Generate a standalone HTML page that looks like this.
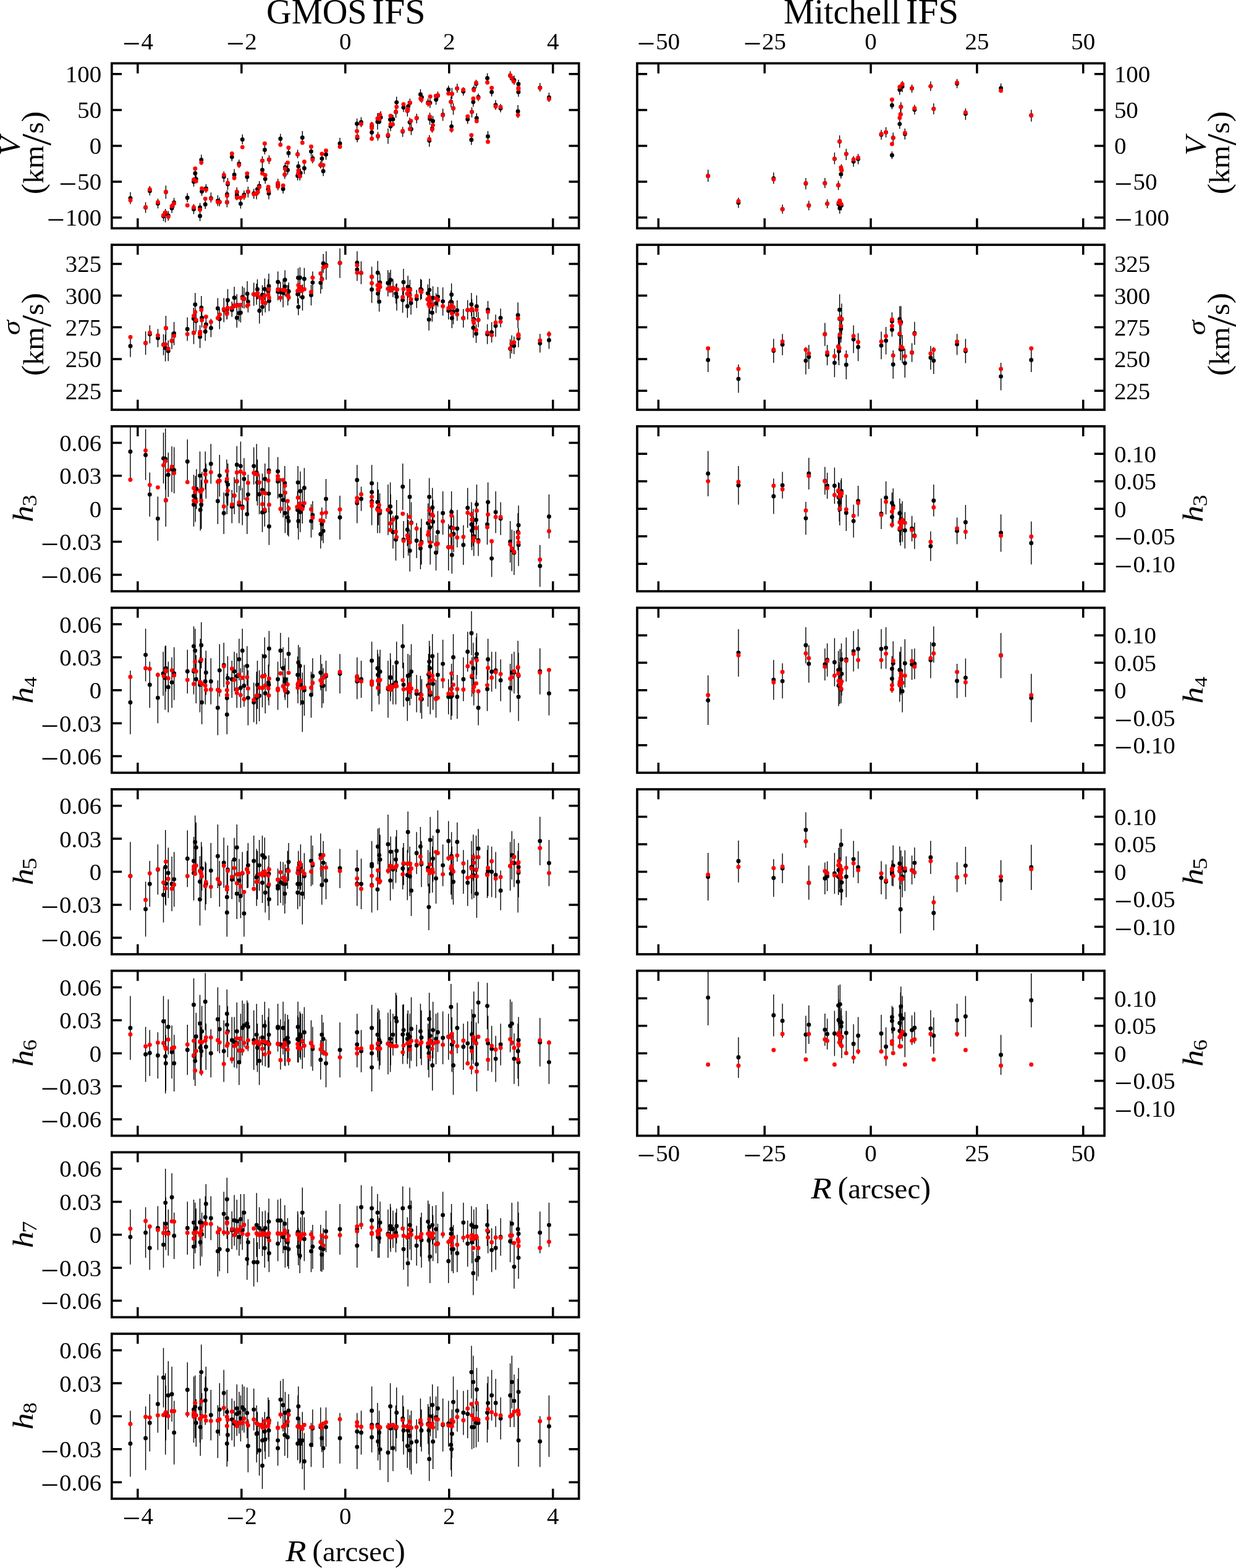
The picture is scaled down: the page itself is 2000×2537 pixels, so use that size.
<!DOCTYPE html>
<html lang="en"><head><meta charset="utf-8"><title>GMOS IFS and Mitchell IFS kinematics</title>
<style>
html,body{margin:0;padding:0;background:#fff;overflow:hidden;}
svg{display:block;}
text{font-family:'Liberation Serif', 'DejaVu Serif', serif;fill:#000;}
</style></head>
<body>
<svg width="2000" height="2537" viewBox="0 0 2000 2537" font-family="'Liberation Serif', 'DejaVu Serif', serif">
<rect width="2000" height="2537" fill="#fff"/>
<rect x="180.85" y="102.45" width="755.85" height="266.91" fill="none" stroke="#000" stroke-width="3.7"/>
<path d="M222.84,102.45v16.2M222.84,369.36v-16.2M390.81,102.45v16.2M390.81,369.36v-16.2M558.77,102.45v16.2M558.77,369.36v-16.2M726.74,102.45v16.2M726.74,369.36v-16.2M894.71,102.45v16.2M894.71,369.36v-16.2M180.85,351.95h16.2M936.70,351.95h-16.2M180.85,293.93h16.2M936.70,293.93h-16.2M180.85,235.91h16.2M936.70,235.91h-16.2M180.85,177.88h16.2M936.70,177.88h-16.2M180.85,119.86h16.2M936.70,119.86h-16.2" stroke="#000" stroke-width="3.5" fill="none"/>
<clipPath id="cL0"><rect x="180.85" y="102.45" width="755.85" height="266.91"/></clipPath>
<g clip-path="url(#cL0)">
<path d="M211.0,311.1V330.2M235.6,327.2V344.6M242.4,300.9V316.3M255.5,321.4V337.2M268.4,300.3V321.4M264.5,341.9V357.7M267.6,338.1V359.7M272.3,341.6V356.9M278.1,329.0V344.8M281.6,320.2V336.0M303.2,312.6V327.2M313.5,330.2V346.6M323.6,328.4V343.0M323.6,341.9V357.7M332.2,323.1V338.1M341.4,311.4V327.8M352.4,316.1V333.4M355.3,319.6V333.7M367.4,307.9V322.0M367.4,319.6V335.4M368.5,288.0V307.3M362.3,277.2V294.8M313.5,286.8V302.1M317.2,283.3V296.2M315.8,275.1V286.8M325.8,250.3V266.9M326.6,303.2V316.7M333.4,298.0V312.0M375.3,247.0V260.8M379.1,273.4V291.5M392.3,217.6V233.4M386.8,258.3V271.7M399.9,279.6V294.3M383.3,303.0V318.3M383.3,308.9V324.1M394.9,308.3V323.5M401.4,301.9V319.4M419.6,293.1V308.3M416.5,299.5V313.6M415.1,305.4V322.4M410.7,305.4V321.8M424.5,252.7V267.9M424.5,267.9V282.0M428.4,235.1V249.8M435.4,251.3V265.6M429.2,282.0V297.2M433.9,298.9V313.0M435.0,305.4V322.4M449.7,289.2V304.2M449.7,293.7V307.7M458.1,298.4V313.3M453.8,216.4V231.6M466.9,240.4V255.0M461.4,263.2V278.5M465.5,267.3V282.6M460.8,274.9V289.6M481.6,242.2V256.0M482.8,260.9V277.3M486.3,272.6V287.2M481.6,277.3V291.9M485.2,277.9V291.9M489.3,212.1V229.9M492.4,265.0V281.4M503.5,237.5V252.7M505.9,249.8V264.2M520.9,249.2V263.8M527.5,242.7V258.5M518.8,260.9V272.6M523.1,269.1V284.9M550.0,223.1V239.8M389.4,321.6V337.4M577.6,191.7V208.7M578.1,215.7V230.3M584.4,189.4V205.7M601.6,206.3V221.6M601.6,197.0V211.0M610.9,182.9V209.8M613.6,189.9V200.5M616.0,180.0V197.0M611.5,213.4V227.6M627.9,208.1V232.7M631.4,186.4V200.5M635.9,185.8V199.9M632.0,197.0V212.2M641.7,156.6V173.5M640.6,173.5V190.5M652.9,166.5V181.2M663.3,159.5V173.5M660.5,163.6V179.4M659.3,172.4V188.5M651.6,205.2V221.6M663.0,190.5V205.2M665.4,200.5V218.6M674.2,184.1V199.5M680.4,144.3V160.1M682.4,150.1V166.5M692.6,159.3V172.4M695.8,160.1V174.7M705.6,153.6V169.4M708.5,148.0V161.3M695.5,182.3V201.7M700.5,187.4V204.0M699.3,201.7V214.8M694.7,218.6V237.4M716.6,175.7V195.6M725.7,138.4V151.3M731.3,142.2V160.1M729.8,156.0V173.5M733.5,167.1V185.8M730.6,195.2V214.5M739.7,135.5V149.9M749.7,141.3V154.8M756.7,185.3V200.5M762.8,218.6V234.4M763.5,173.5V189.9M771.3,183.2V198.7M765.8,157.7V172.7M774.0,151.3V163.5M766.7,138.4V149.5M770.5,129.0V142.5M788.6,118.5V133.7M795.6,141.9V155.9M802.0,162.1V177.8M810.0,168.2V181.7M789.5,212.1V229.1M825.6,115.3V129.6M828.4,120.2V133.1M831.9,122.3V137.2M838.9,129.0V143.6M838.9,141.3V156.5M838.1,170.0V191.1M873.8,134.3V148.3M888.4,150.1V165.0" stroke="#000" stroke-width="1.4" fill="none"/>
<g fill="#000"><circle cx="211.0" cy="320.6" r="3.45"/><circle cx="235.6" cy="335.8" r="3.45"/><circle cx="242.4" cy="308.9" r="3.45"/><circle cx="255.5" cy="329.2" r="3.45"/><circle cx="268.4" cy="310.8" r="3.45"/><circle cx="264.5" cy="349.8" r="3.45"/><circle cx="267.6" cy="346.0" r="3.45"/><circle cx="272.3" cy="348.9" r="3.45"/><circle cx="278.1" cy="337.0" r="3.45"/><circle cx="281.6" cy="327.8" r="3.45"/><circle cx="303.2" cy="320.0" r="3.45"/><circle cx="313.5" cy="338.4" r="3.45"/><circle cx="323.6" cy="335.8" r="3.45"/><circle cx="323.6" cy="349.5" r="3.45"/><circle cx="332.2" cy="330.7" r="3.45"/><circle cx="341.4" cy="320.6" r="3.45"/><circle cx="352.4" cy="324.9" r="3.45"/><circle cx="355.3" cy="326.7" r="3.45"/><circle cx="367.4" cy="314.4" r="3.45"/><circle cx="367.4" cy="327.2" r="3.45"/><circle cx="368.5" cy="298.0" r="3.45"/><circle cx="362.3" cy="285.9" r="3.45"/><circle cx="313.5" cy="294.1" r="3.45"/><circle cx="317.2" cy="289.8" r="3.45"/><circle cx="315.8" cy="280.4" r="3.45"/><circle cx="325.8" cy="258.7" r="3.45"/><circle cx="326.6" cy="309.7" r="3.45"/><circle cx="333.4" cy="305.0" r="3.45"/><circle cx="375.3" cy="254.1" r="3.45"/><circle cx="379.1" cy="282.7" r="3.45"/><circle cx="392.3" cy="225.8" r="3.45"/><circle cx="386.8" cy="265.0" r="3.45"/><circle cx="399.9" cy="286.3" r="3.45"/><circle cx="383.3" cy="311.2" r="3.45"/><circle cx="383.3" cy="315.9" r="3.45"/><circle cx="394.9" cy="315.3" r="3.45"/><circle cx="401.4" cy="310.3" r="3.45"/><circle cx="419.6" cy="300.9" r="3.45"/><circle cx="416.5" cy="306.3" r="3.45"/><circle cx="415.1" cy="313.0" r="3.45"/><circle cx="410.7" cy="313.0" r="3.45"/><circle cx="424.5" cy="260.1" r="3.45"/><circle cx="424.5" cy="274.9" r="3.45"/><circle cx="428.4" cy="242.4" r="3.45"/><circle cx="435.4" cy="258.3" r="3.45"/><circle cx="429.2" cy="289.6" r="3.45"/><circle cx="433.9" cy="306.0" r="3.45"/><circle cx="435.0" cy="313.0" r="3.45"/><circle cx="449.7" cy="297.2" r="3.45"/><circle cx="449.7" cy="300.7" r="3.45"/><circle cx="458.1" cy="305.7" r="3.45"/><circle cx="453.8" cy="224.4" r="3.45"/><circle cx="466.9" cy="247.8" r="3.45"/><circle cx="461.4" cy="270.8" r="3.45"/><circle cx="465.5" cy="275.3" r="3.45"/><circle cx="460.8" cy="282.6" r="3.45"/><circle cx="481.6" cy="249.8" r="3.45"/><circle cx="482.8" cy="269.3" r="3.45"/><circle cx="486.3" cy="279.9" r="3.45"/><circle cx="481.6" cy="284.5" r="3.45"/><circle cx="485.2" cy="284.9" r="3.45"/><circle cx="489.3" cy="222.8" r="3.45"/><circle cx="492.4" cy="272.2" r="3.45"/><circle cx="503.5" cy="245.1" r="3.45"/><circle cx="505.9" cy="256.2" r="3.45"/><circle cx="520.9" cy="256.6" r="3.45"/><circle cx="527.5" cy="250.0" r="3.45"/><circle cx="518.8" cy="267.3" r="3.45"/><circle cx="523.1" cy="276.9" r="3.45"/><circle cx="550.0" cy="232.2" r="3.45"/><circle cx="389.4" cy="329.6" r="3.45"/><circle cx="577.6" cy="200.2" r="3.45"/><circle cx="578.1" cy="223.3" r="3.45"/><circle cx="584.4" cy="197.6" r="3.45"/><circle cx="601.6" cy="214.3" r="3.45"/><circle cx="601.6" cy="204.6" r="3.45"/><circle cx="610.9" cy="197.0" r="3.45"/><circle cx="613.6" cy="197.0" r="3.45"/><circle cx="616.0" cy="189.9" r="3.45"/><circle cx="611.5" cy="220.4" r="3.45"/><circle cx="627.9" cy="219.8" r="3.45"/><circle cx="631.4" cy="193.5" r="3.45"/><circle cx="635.9" cy="192.9" r="3.45"/><circle cx="632.0" cy="204.2" r="3.45"/><circle cx="641.7" cy="165.6" r="3.45"/><circle cx="640.6" cy="181.2" r="3.45"/><circle cx="652.9" cy="173.9" r="3.45"/><circle cx="663.3" cy="166.5" r="3.45"/><circle cx="660.5" cy="172.1" r="3.45"/><circle cx="659.3" cy="179.2" r="3.45"/><circle cx="651.6" cy="212.8" r="3.45"/><circle cx="663.0" cy="197.9" r="3.45"/><circle cx="665.4" cy="209.0" r="3.45"/><circle cx="674.2" cy="191.1" r="3.45"/><circle cx="680.4" cy="152.7" r="3.45"/><circle cx="682.4" cy="157.4" r="3.45"/><circle cx="692.6" cy="165.9" r="3.45"/><circle cx="695.8" cy="166.5" r="3.45"/><circle cx="705.6" cy="161.3" r="3.45"/><circle cx="708.5" cy="154.8" r="3.45"/><circle cx="695.5" cy="192.3" r="3.45"/><circle cx="700.5" cy="196.0" r="3.45"/><circle cx="699.3" cy="208.1" r="3.45"/><circle cx="694.7" cy="227.6" r="3.45"/><circle cx="716.6" cy="185.8" r="3.45"/><circle cx="725.7" cy="144.9" r="3.45"/><circle cx="731.3" cy="151.9" r="3.45"/><circle cx="729.8" cy="164.8" r="3.45"/><circle cx="733.5" cy="175.3" r="3.45"/><circle cx="730.6" cy="204.6" r="3.45"/><circle cx="739.7" cy="143.1" r="3.45"/><circle cx="749.7" cy="148.1" r="3.45"/><circle cx="756.7" cy="192.9" r="3.45"/><circle cx="762.8" cy="226.2" r="3.45"/><circle cx="763.5" cy="181.1" r="3.45"/><circle cx="771.3" cy="191.3" r="3.45"/><circle cx="765.8" cy="165.1" r="3.45"/><circle cx="774.0" cy="157.1" r="3.45"/><circle cx="766.7" cy="144.2" r="3.45"/><circle cx="770.5" cy="135.4" r="3.45"/><circle cx="788.6" cy="126.4" r="3.45"/><circle cx="795.6" cy="148.9" r="3.45"/><circle cx="802.0" cy="170.0" r="3.45"/><circle cx="810.0" cy="175.3" r="3.45"/><circle cx="789.5" cy="220.7" r="3.45"/><circle cx="825.6" cy="122.6" r="3.45"/><circle cx="828.4" cy="126.7" r="3.45"/><circle cx="831.9" cy="129.8" r="3.45"/><circle cx="838.9" cy="136.0" r="3.45"/><circle cx="838.9" cy="148.9" r="3.45"/><circle cx="838.1" cy="180.3" r="3.45"/><circle cx="873.8" cy="141.9" r="3.45"/><circle cx="888.4" cy="157.7" r="3.45"/></g>
<g fill="#f00"><circle cx="211.0" cy="324.0" r="3.45"/><circle cx="235.6" cy="335.4" r="3.45"/><circle cx="242.4" cy="306.4" r="3.45"/><circle cx="255.5" cy="327.2" r="3.45"/><circle cx="268.4" cy="310.6" r="3.45"/><circle cx="264.5" cy="348.3" r="3.45"/><circle cx="267.6" cy="344.0" r="3.45"/><circle cx="272.3" cy="350.7" r="3.45"/><circle cx="278.1" cy="333.4" r="3.45"/><circle cx="281.6" cy="329.2" r="3.45"/><circle cx="303.2" cy="332.2" r="3.45"/><circle cx="313.5" cy="335.4" r="3.45"/><circle cx="323.6" cy="339.3" r="3.45"/><circle cx="332.2" cy="321.6" r="3.45"/><circle cx="341.4" cy="321.6" r="3.45"/><circle cx="352.4" cy="326.9" r="3.45"/><circle cx="355.3" cy="326.9" r="3.45"/><circle cx="367.4" cy="316.7" r="3.45"/><circle cx="367.4" cy="327.2" r="3.45"/><circle cx="368.5" cy="296.0" r="3.45"/><circle cx="362.3" cy="283.1" r="3.45"/><circle cx="313.5" cy="290.6" r="3.45"/><circle cx="317.2" cy="293.3" r="3.45"/><circle cx="315.8" cy="272.8" r="3.45"/><circle cx="325.8" cy="263.1" r="3.45"/><circle cx="326.6" cy="305.0" r="3.45"/><circle cx="333.4" cy="307.1" r="3.45"/><circle cx="375.3" cy="248.4" r="3.45"/><circle cx="379.1" cy="288.0" r="3.45"/><circle cx="392.3" cy="238.1" r="3.45"/><circle cx="386.8" cy="267.1" r="3.45"/><circle cx="399.9" cy="280.8" r="3.45"/><circle cx="383.3" cy="310.1" r="3.45"/><circle cx="383.3" cy="319.7" r="3.45"/><circle cx="389.4" cy="320.0" r="3.45"/><circle cx="394.9" cy="317.4" r="3.45"/><circle cx="401.4" cy="310.1" r="3.45"/><circle cx="419.6" cy="302.8" r="3.45"/><circle cx="417.2" cy="310.7" r="3.45"/><circle cx="414.5" cy="313.3" r="3.45"/><circle cx="410.7" cy="314.2" r="3.45"/><circle cx="424.5" cy="260.1" r="3.45"/><circle cx="424.5" cy="280.8" r="3.45"/><circle cx="428.4" cy="232.2" r="3.45"/><circle cx="435.4" cy="258.3" r="3.45"/><circle cx="429.2" cy="283.4" r="3.45"/><circle cx="434.1" cy="302.5" r="3.45"/><circle cx="434.8" cy="309.1" r="3.45"/><circle cx="449.7" cy="296.3" r="3.45"/><circle cx="449.7" cy="302.1" r="3.45"/><circle cx="458.1" cy="300.1" r="3.45"/><circle cx="453.8" cy="234.2" r="3.45"/><circle cx="466.9" cy="238.9" r="3.45"/><circle cx="461.4" cy="273.2" r="3.45"/><circle cx="465.5" cy="263.2" r="3.45"/><circle cx="460.8" cy="282.3" r="3.45"/><circle cx="481.6" cy="249.8" r="3.45"/><circle cx="482.8" cy="276.1" r="3.45"/><circle cx="482.5" cy="280.6" r="3.45"/><circle cx="485.4" cy="285.2" r="3.45"/><circle cx="489.3" cy="231.0" r="3.45"/><circle cx="492.4" cy="261.8" r="3.45"/><circle cx="503.5" cy="237.2" r="3.45"/><circle cx="505.9" cy="258.5" r="3.45"/><circle cx="520.9" cy="248.9" r="3.45"/><circle cx="527.5" cy="243.7" r="3.45"/><circle cx="518.8" cy="267.0" r="3.45"/><circle cx="523.1" cy="267.3" r="3.45"/><circle cx="550.0" cy="237.5" r="3.45"/><circle cx="577.6" cy="212.2" r="3.45"/><circle cx="578.1" cy="221.0" r="3.45"/><circle cx="584.4" cy="200.5" r="3.45"/><circle cx="601.6" cy="201.4" r="3.45"/><circle cx="601.6" cy="207.3" r="3.45"/><circle cx="601.6" cy="224.5" r="3.45"/><circle cx="614.8" cy="185.8" r="3.45"/><circle cx="610.9" cy="191.7" r="3.45"/><circle cx="613.9" cy="192.5" r="3.45"/><circle cx="611.5" cy="220.0" r="3.45"/><circle cx="627.9" cy="218.4" r="3.45"/><circle cx="632.0" cy="187.4" r="3.45"/><circle cx="632.0" cy="201.1" r="3.45"/><circle cx="635.5" cy="201.3" r="3.45"/><circle cx="641.7" cy="173.0" r="3.45"/><circle cx="640.6" cy="180.8" r="3.45"/><circle cx="652.9" cy="168.6" r="3.45"/><circle cx="663.3" cy="166.2" r="3.45"/><circle cx="660.1" cy="176.5" r="3.45"/><circle cx="658.9" cy="179.2" r="3.45"/><circle cx="651.6" cy="212.0" r="3.45"/><circle cx="664.8" cy="195.8" r="3.45"/><circle cx="663.3" cy="208.7" r="3.45"/><circle cx="674.2" cy="190.9" r="3.45"/><circle cx="680.6" cy="159.5" r="3.45"/><circle cx="681.8" cy="161.6" r="3.45"/><circle cx="696.1" cy="156.2" r="3.45"/><circle cx="692.3" cy="167.1" r="3.45"/><circle cx="694.7" cy="167.7" r="3.45"/><circle cx="705.2" cy="155.2" r="3.45"/><circle cx="708.5" cy="154.2" r="3.45"/><circle cx="695.5" cy="188.8" r="3.45"/><circle cx="700.5" cy="202.6" r="3.45"/><circle cx="699.3" cy="209.6" r="3.45"/><circle cx="694.7" cy="225.1" r="3.45"/><circle cx="716.6" cy="186.4" r="3.45"/><circle cx="725.7" cy="151.3" r="3.45"/><circle cx="731.3" cy="151.7" r="3.45"/><circle cx="729.8" cy="164.8" r="3.45"/><circle cx="733.5" cy="175.3" r="3.45"/><circle cx="730.6" cy="210.1" r="3.45"/><circle cx="739.7" cy="143.1" r="3.45"/><circle cx="749.7" cy="145.2" r="3.45"/><circle cx="756.7" cy="188.5" r="3.45"/><circle cx="762.8" cy="218.8" r="3.45"/><circle cx="763.5" cy="181.1" r="3.45"/><circle cx="771.3" cy="196.0" r="3.45"/><circle cx="765.8" cy="159.4" r="3.45"/><circle cx="774.0" cy="158.6" r="3.45"/><circle cx="766.7" cy="145.7" r="3.45"/><circle cx="770.5" cy="134.0" r="3.45"/><circle cx="788.6" cy="133.5" r="3.45"/><circle cx="795.6" cy="142.2" r="3.45"/><circle cx="802.0" cy="172.3" r="3.45"/><circle cx="810.0" cy="173.1" r="3.45"/><circle cx="789.5" cy="229.4" r="3.45"/><circle cx="825.6" cy="121.6" r="3.45"/><circle cx="828.1" cy="126.1" r="3.45"/><circle cx="831.4" cy="131.9" r="3.45"/><circle cx="838.9" cy="142.2" r="3.45"/><circle cx="838.9" cy="144.2" r="3.45"/><circle cx="838.1" cy="186.1" r="3.45"/><circle cx="873.8" cy="142.5" r="3.45"/><circle cx="888.4" cy="160.3" r="3.45"/></g>
</g>
<text transform="translate(75.99,365.40) scale(1.05,1)" font-size="37.1"><tspan font-size="49.1" dy="7">−</tspan><tspan dx="0.77" dy="-7">100</tspan></text>
<text transform="translate(95.46,307.38) scale(1.05,1)" font-size="37.1"><tspan font-size="49.1" dy="7">−</tspan><tspan dx="0.77" dy="-7">50</tspan></text>
<text transform="translate(144.82,249.36) scale(1.05,1)" font-size="37.1">0</text>
<text transform="translate(125.34,191.33) scale(1.05,1)" font-size="37.1">50</text>
<text transform="translate(105.87,133.31) scale(1.05,1)" font-size="37.1">100</text>
<rect x="180.85" y="396.10" width="755.85" height="266.91" fill="none" stroke="#000" stroke-width="3.7"/>
<path d="M222.84,396.10v16.2M222.84,663.01v-16.2M390.81,396.10v16.2M390.81,663.01v-16.2M558.77,396.10v16.2M558.77,663.01v-16.2M726.74,396.10v16.2M726.74,663.01v-16.2M894.71,396.10v16.2M894.71,663.01v-16.2M180.85,632.21h16.2M936.70,632.21h-16.2M180.85,580.88h16.2M936.70,580.88h-16.2M180.85,529.55h16.2M936.70,529.55h-16.2M180.85,478.23h16.2M936.70,478.23h-16.2M180.85,426.90h16.2M936.70,426.90h-16.2" stroke="#000" stroke-width="3.5" fill="none"/>
<clipPath id="cL1"><rect x="180.85" y="396.10" width="755.85" height="266.91"/></clipPath>
<g clip-path="url(#cL1)">
<path d="M211.0,542.0V577.7M235.6,536.2V574.0M242.4,526.2V555.5M255.5,532.3V561.7M268.4,511.0V550.8M264.5,540.8V574.8M267.6,541.4V584.8M272.3,550.8V584.2M278.1,537.9V564.8M281.6,520.9V558.4M303.2,513.6V551.4M313.3,498.1V532.1M313.5,520.4V556.7M315.8,474.1V511.0M317.2,501.6V536.7M323.6,527.4V563.1M323.6,526.2V552.0M325.8,479.1V516.3M326.6,499.3V529.7M332.2,521.5V551.4M333.4,512.2V537.9M341.4,515.7V545.5M352.4,482.3V515.7M355.3,500.4V532.6M362.3,482.3V521.3M368.5,467.7V504.0M367.4,485.2V516.8M367.1,495.8V516.8M375.3,488.1V512.7M379.1,464.1V499.3M383.3,496.0V530.0M383.3,476.1V511.2M386.8,492.5V520.0M389.4,490.2V521.8M392.3,463.2V498.4M394.9,465.6V498.9M400.1,455.0V494.8M401.4,474.9V505.4M410.7,457.4V494.8M415.1,459.1V493.1M416.5,452.1V484.3M419.8,482.0V523.5M424.5,461.5V493.7M424.5,482.0V510.7M428.4,450.4V484.3M429.2,474.9V505.4M435.0,442.7V482.0M434.1,452.1V489.0M435.4,470.3V503.6M449.7,439.2V473.8M449.7,458.5V486.1M453.8,456.2V488.4M458.1,451.5V497.2M461.1,437.2V467.9M461.0,449.2V479.6M467.2,457.1V486.7M465.7,460.9V494.3M482.5,434.0V465.6M485.4,432.2V465.6M481.6,460.9V491.3M482.8,483.1V510.1M485.2,450.4V482.0M489.5,460.3V502.5M492.4,433.4V469.1M503.5,460.9V494.3M505.9,439.2V474.9M518.8,441.0V474.9M520.9,435.1V467.9M523.1,411.1V441.6M527.8,406.4V452.7M550.0,402.1V449.8M577.9,406.4V443.3M577.9,418.7V454.4M584.4,422.8V459.7M601.6,446.8V490.2M601.6,431.6V463.2M611.2,422.2V460.9M611.5,458.5V491.3M613.6,471.4V504.2M614.8,442.2V472.6M627.7,436.9V479.6M632.0,436.5V470.3M630.0,441.0V473.8M635.9,451.5V480.8M640.8,459.7V491.3M642.0,458.5V502.5M652.9,434.9V477.9M651.6,465.6V506.0M660.1,446.3V482.0M663.3,452.7V483.1M659.3,476.1V514.2M665.0,472.6V508.9M663.0,463.2V492.5M674.2,469.1V498.4M680.6,451.2V485.5M682.0,452.7V483.7M692.3,460.3V489.0M694.9,450.9V487.2M694.1,499.5V534.7M699.3,491.3V520.6M700.5,463.2V500.7M695.5,474.9V507.7M705.6,474.4V506.6M708.5,464.2V496.6M716.6,465.0V510.7M725.7,487.8V517.1M730.6,458.5V494.8M729.8,470.3V505.4M731.3,500.7V531.1M733.5,486.7V524.7M739.7,486.1V518.9M749.7,500.1V530.0M756.7,485.5V517.1M762.8,474.0V510.9M763.5,484.0V519.1M766.7,502.7V532.0M765.8,513.2V546.6M771.3,478.1V513.2M770.5,524.9V554.8M774.0,504.4V529.6M789.5,486.9V516.7M788.6,524.4V556.8M795.6,521.2V554.2M802.0,509.1V544.8M810.0,499.2V529.6M825.6,548.9V580.0M828.1,542.5V571.8M831.7,544.6V573.0M838.1,489.2V530.8M838.9,532.0V561.8M838.9,530.8V555.4M873.8,540.2V570.4M888.4,536.1V564.5" stroke="#000" stroke-width="1.4" fill="none"/>
<g fill="#000"><circle cx="211.0" cy="559.9" r="3.45"/><circle cx="235.6" cy="555.0" r="3.45"/><circle cx="242.4" cy="540.8" r="3.45"/><circle cx="255.5" cy="547.0" r="3.45"/><circle cx="268.4" cy="530.9" r="3.45"/><circle cx="264.5" cy="557.8" r="3.45"/><circle cx="267.6" cy="563.1" r="3.45"/><circle cx="272.3" cy="568.1" r="3.45"/><circle cx="278.1" cy="551.4" r="3.45"/><circle cx="281.6" cy="539.4" r="3.45"/><circle cx="303.2" cy="532.4" r="3.45"/><circle cx="313.3" cy="515.4" r="3.45"/><circle cx="313.5" cy="538.5" r="3.45"/><circle cx="315.8" cy="492.8" r="3.45"/><circle cx="317.2" cy="519.2" r="3.45"/><circle cx="323.6" cy="544.9" r="3.45"/><circle cx="323.6" cy="539.1" r="3.45"/><circle cx="325.8" cy="497.9" r="3.45"/><circle cx="326.6" cy="514.3" r="3.45"/><circle cx="332.2" cy="536.5" r="3.45"/><circle cx="333.4" cy="525.0" r="3.45"/><circle cx="341.4" cy="530.7" r="3.45"/><circle cx="352.4" cy="499.0" r="3.45"/><circle cx="355.3" cy="516.3" r="3.45"/><circle cx="362.3" cy="501.4" r="3.45"/><circle cx="368.5" cy="485.8" r="3.45"/><circle cx="367.4" cy="501.0" r="3.45"/><circle cx="367.1" cy="506.3" r="3.45"/><circle cx="375.3" cy="501.4" r="3.45"/><circle cx="379.1" cy="481.7" r="3.45"/><circle cx="383.3" cy="514.2" r="3.45"/><circle cx="383.3" cy="493.7" r="3.45"/><circle cx="386.8" cy="506.6" r="3.45"/><circle cx="389.4" cy="506.0" r="3.45"/><circle cx="392.3" cy="480.8" r="3.45"/><circle cx="394.9" cy="483.4" r="3.45"/><circle cx="400.1" cy="475.3" r="3.45"/><circle cx="401.4" cy="488.1" r="3.45"/><circle cx="410.7" cy="476.1" r="3.45"/><circle cx="415.1" cy="476.3" r="3.45"/><circle cx="416.5" cy="467.9" r="3.45"/><circle cx="419.8" cy="502.8" r="3.45"/><circle cx="424.5" cy="477.3" r="3.45"/><circle cx="424.5" cy="496.6" r="3.45"/><circle cx="428.4" cy="467.7" r="3.45"/><circle cx="429.2" cy="490.2" r="3.45"/><circle cx="435.0" cy="463.0" r="3.45"/><circle cx="434.1" cy="471.4" r="3.45"/><circle cx="435.4" cy="486.9" r="3.45"/><circle cx="449.7" cy="456.2" r="3.45"/><circle cx="449.7" cy="472.0" r="3.45"/><circle cx="453.8" cy="472.6" r="3.45"/><circle cx="458.1" cy="474.0" r="3.45"/><circle cx="461.1" cy="452.7" r="3.45"/><circle cx="461.0" cy="463.8" r="3.45"/><circle cx="467.2" cy="471.4" r="3.45"/><circle cx="465.7" cy="477.3" r="3.45"/><circle cx="482.5" cy="449.4" r="3.45"/><circle cx="485.4" cy="449.2" r="3.45"/><circle cx="481.6" cy="475.9" r="3.45"/><circle cx="482.8" cy="496.6" r="3.45"/><circle cx="485.2" cy="465.6" r="3.45"/><circle cx="489.5" cy="481.0" r="3.45"/><circle cx="492.4" cy="451.2" r="3.45"/><circle cx="503.5" cy="477.5" r="3.45"/><circle cx="505.9" cy="457.1" r="3.45"/><circle cx="518.8" cy="457.6" r="3.45"/><circle cx="520.9" cy="451.5" r="3.45"/><circle cx="523.1" cy="426.3" r="3.45"/><circle cx="527.8" cy="429.0" r="3.45"/><circle cx="550.0" cy="425.5" r="3.45"/><circle cx="577.9" cy="425.2" r="3.45"/><circle cx="577.9" cy="436.3" r="3.45"/><circle cx="584.4" cy="441.6" r="3.45"/><circle cx="601.6" cy="468.5" r="3.45"/><circle cx="601.6" cy="448.0" r="3.45"/><circle cx="611.2" cy="441.2" r="3.45"/><circle cx="611.5" cy="474.9" r="3.45"/><circle cx="613.6" cy="488.1" r="3.45"/><circle cx="614.8" cy="457.1" r="3.45"/><circle cx="627.7" cy="458.0" r="3.45"/><circle cx="632.0" cy="452.9" r="3.45"/><circle cx="630.0" cy="457.1" r="3.45"/><circle cx="635.9" cy="466.2" r="3.45"/><circle cx="640.8" cy="474.9" r="3.45"/><circle cx="642.0" cy="480.2" r="3.45"/><circle cx="652.9" cy="456.4" r="3.45"/><circle cx="651.6" cy="485.5" r="3.45"/><circle cx="660.1" cy="464.2" r="3.45"/><circle cx="663.3" cy="467.7" r="3.45"/><circle cx="659.3" cy="495.4" r="3.45"/><circle cx="665.0" cy="490.2" r="3.45"/><circle cx="663.0" cy="477.3" r="3.45"/><circle cx="674.2" cy="483.7" r="3.45"/><circle cx="680.6" cy="467.9" r="3.45"/><circle cx="682.0" cy="469.1" r="3.45"/><circle cx="692.3" cy="474.6" r="3.45"/><circle cx="694.9" cy="469.1" r="3.45"/><circle cx="694.1" cy="517.1" r="3.45"/><circle cx="699.3" cy="506.0" r="3.45"/><circle cx="700.5" cy="482.0" r="3.45"/><circle cx="695.5" cy="491.3" r="3.45"/><circle cx="705.6" cy="490.7" r="3.45"/><circle cx="708.5" cy="480.2" r="3.45"/><circle cx="716.6" cy="487.6" r="3.45"/><circle cx="725.7" cy="502.8" r="3.45"/><circle cx="730.6" cy="476.7" r="3.45"/><circle cx="729.8" cy="488.1" r="3.45"/><circle cx="731.3" cy="514.8" r="3.45"/><circle cx="733.5" cy="504.4" r="3.45"/><circle cx="739.7" cy="502.1" r="3.45"/><circle cx="749.7" cy="514.8" r="3.45"/><circle cx="756.7" cy="501.6" r="3.45"/><circle cx="762.8" cy="492.4" r="3.45"/><circle cx="763.5" cy="501.5" r="3.45"/><circle cx="766.7" cy="516.5" r="3.45"/><circle cx="765.8" cy="530.2" r="3.45"/><circle cx="771.3" cy="495.7" r="3.45"/><circle cx="770.5" cy="539.9" r="3.45"/><circle cx="774.0" cy="517.7" r="3.45"/><circle cx="789.5" cy="501.3" r="3.45"/><circle cx="788.6" cy="540.7" r="3.45"/><circle cx="795.6" cy="537.6" r="3.45"/><circle cx="802.0" cy="527.3" r="3.45"/><circle cx="810.0" cy="514.4" r="3.45"/><circle cx="825.6" cy="564.2" r="3.45"/><circle cx="828.1" cy="557.1" r="3.45"/><circle cx="831.7" cy="559.5" r="3.45"/><circle cx="838.1" cy="510.0" r="3.45"/><circle cx="838.9" cy="547.2" r="3.45"/><circle cx="838.9" cy="542.5" r="3.45"/><circle cx="873.8" cy="555.6" r="3.45"/><circle cx="888.4" cy="550.4" r="3.45"/></g>
<g fill="#f00"><circle cx="211.0" cy="545.5" r="3.45"/><circle cx="235.6" cy="554.9" r="3.45"/><circle cx="242.4" cy="538.5" r="3.45"/><circle cx="255.5" cy="542.6" r="3.45"/><circle cx="268.4" cy="530.7" r="3.45"/><circle cx="264.5" cy="558.1" r="3.45"/><circle cx="267.8" cy="556.9" r="3.45"/><circle cx="272.3" cy="564.3" r="3.45"/><circle cx="278.1" cy="551.4" r="3.45"/><circle cx="281.6" cy="543.4" r="3.45"/><circle cx="303.2" cy="540.6" r="3.45"/><circle cx="313.5" cy="511.0" r="3.45"/><circle cx="313.5" cy="538.5" r="3.45"/><circle cx="315.8" cy="505.1" r="3.45"/><circle cx="317.2" cy="517.8" r="3.45"/><circle cx="323.8" cy="537.0" r="3.45"/><circle cx="323.6" cy="540.8" r="3.45"/><circle cx="325.8" cy="501.4" r="3.45"/><circle cx="326.6" cy="518.2" r="3.45"/><circle cx="332.2" cy="528.8" r="3.45"/><circle cx="333.4" cy="512.4" r="3.45"/><circle cx="341.4" cy="520.9" r="3.45"/><circle cx="352.4" cy="514.8" r="3.45"/><circle cx="355.6" cy="508.9" r="3.45"/><circle cx="362.1" cy="500.2" r="3.45"/><circle cx="368.3" cy="498.1" r="3.45"/><circle cx="367.1" cy="505.1" r="3.45"/><circle cx="367.1" cy="508.1" r="3.45"/><circle cx="375.0" cy="498.1" r="3.45"/><circle cx="379.1" cy="494.0" r="3.45"/><circle cx="382.3" cy="495.1" r="3.45"/><circle cx="383.5" cy="494.3" r="3.45"/><circle cx="386.4" cy="493.7" r="3.45"/><circle cx="389.6" cy="493.3" r="3.45"/><circle cx="392.3" cy="482.9" r="3.45"/><circle cx="395.2" cy="483.4" r="3.45"/><circle cx="401.7" cy="493.1" r="3.45"/><circle cx="399.9" cy="495.1" r="3.45"/><circle cx="410.2" cy="476.1" r="3.45"/><circle cx="414.0" cy="476.7" r="3.45"/><circle cx="416.9" cy="474.4" r="3.45"/><circle cx="419.8" cy="480.6" r="3.45"/><circle cx="424.5" cy="484.3" r="3.45"/><circle cx="425.1" cy="489.6" r="3.45"/><circle cx="428.0" cy="479.0" r="3.45"/><circle cx="429.2" cy="490.2" r="3.45"/><circle cx="434.8" cy="467.9" r="3.45"/><circle cx="434.1" cy="476.7" r="3.45"/><circle cx="435.4" cy="481.7" r="3.45"/><circle cx="449.7" cy="468.3" r="3.45"/><circle cx="450.3" cy="469.1" r="3.45"/><circle cx="453.8" cy="481.7" r="3.45"/><circle cx="457.3" cy="469.1" r="3.45"/><circle cx="460.8" cy="469.1" r="3.45"/><circle cx="462.0" cy="470.3" r="3.45"/><circle cx="465.5" cy="477.9" r="3.45"/><circle cx="467.2" cy="481.4" r="3.45"/><circle cx="482.8" cy="461.5" r="3.45"/><circle cx="486.0" cy="464.2" r="3.45"/><circle cx="481.6" cy="470.6" r="3.45"/><circle cx="484.2" cy="465.6" r="3.45"/><circle cx="488.3" cy="470.8" r="3.45"/><circle cx="492.4" cy="467.9" r="3.45"/><circle cx="503.5" cy="472.4" r="3.45"/><circle cx="505.9" cy="449.2" r="3.45"/><circle cx="518.8" cy="442.4" r="3.45"/><circle cx="520.9" cy="451.8" r="3.45"/><circle cx="523.1" cy="432.8" r="3.45"/><circle cx="527.8" cy="430.7" r="3.45"/><circle cx="550.0" cy="425.5" r="3.45"/><circle cx="577.9" cy="429.3" r="3.45"/><circle cx="577.9" cy="441.2" r="3.45"/><circle cx="584.4" cy="441.6" r="3.45"/><circle cx="601.6" cy="447.8" r="3.45"/><circle cx="601.6" cy="458.3" r="3.45"/><circle cx="610.9" cy="461.8" r="3.45"/><circle cx="614.1" cy="460.3" r="3.45"/><circle cx="615.0" cy="464.2" r="3.45"/><circle cx="611.5" cy="468.5" r="3.45"/><circle cx="627.7" cy="467.3" r="3.45"/><circle cx="631.4" cy="467.9" r="3.45"/><circle cx="632.6" cy="470.0" r="3.45"/><circle cx="635.9" cy="465.6" r="3.45"/><circle cx="640.2" cy="467.3" r="3.45"/><circle cx="642.6" cy="468.5" r="3.45"/><circle cx="652.9" cy="467.7" r="3.45"/><circle cx="651.6" cy="480.8" r="3.45"/><circle cx="660.5" cy="469.1" r="3.45"/><circle cx="663.6" cy="469.3" r="3.45"/><circle cx="658.9" cy="475.3" r="3.45"/><circle cx="663.0" cy="477.9" r="3.45"/><circle cx="665.0" cy="484.5" r="3.45"/><circle cx="674.2" cy="479.0" r="3.45"/><circle cx="680.6" cy="470.8" r="3.45"/><circle cx="681.8" cy="472.6" r="3.45"/><circle cx="691.7" cy="484.3" r="3.45"/><circle cx="694.7" cy="480.8" r="3.45"/><circle cx="695.8" cy="486.9" r="3.45"/><circle cx="693.5" cy="492.3" r="3.45"/><circle cx="695.2" cy="496.0" r="3.45"/><circle cx="700.5" cy="493.1" r="3.45"/><circle cx="705.6" cy="482.6" r="3.45"/><circle cx="708.5" cy="485.5" r="3.45"/><circle cx="716.6" cy="495.4" r="3.45"/><circle cx="725.7" cy="498.7" r="3.45"/><circle cx="730.6" cy="493.1" r="3.45"/><circle cx="728.6" cy="497.4" r="3.45"/><circle cx="733.9" cy="497.2" r="3.45"/><circle cx="731.3" cy="507.1" r="3.45"/><circle cx="739.7" cy="508.7" r="3.45"/><circle cx="749.7" cy="514.8" r="3.45"/><circle cx="756.7" cy="501.6" r="3.45"/><circle cx="763.5" cy="499.8" r="3.45"/><circle cx="762.6" cy="502.1" r="3.45"/><circle cx="765.8" cy="518.5" r="3.45"/><circle cx="766.7" cy="522.4" r="3.45"/><circle cx="771.0" cy="501.2" r="3.45"/><circle cx="770.5" cy="534.1" r="3.45"/><circle cx="774.0" cy="517.7" r="3.45"/><circle cx="789.5" cy="504.4" r="3.45"/><circle cx="788.6" cy="538.1" r="3.45"/><circle cx="795.6" cy="542.2" r="3.45"/><circle cx="802.0" cy="522.0" r="3.45"/><circle cx="810.0" cy="520.6" r="3.45"/><circle cx="825.6" cy="563.6" r="3.45"/><circle cx="827.9" cy="555.4" r="3.45"/><circle cx="831.9" cy="553.9" r="3.45"/><circle cx="838.1" cy="515.2" r="3.45"/><circle cx="838.9" cy="541.3" r="3.45"/><circle cx="838.9" cy="543.7" r="3.45"/><circle cx="873.8" cy="550.9" r="3.45"/><circle cx="888.4" cy="540.7" r="3.45"/></g>
</g>
<text transform="translate(105.87,645.66) scale(1.05,1)" font-size="37.1">225</text>
<text transform="translate(105.87,594.33) scale(1.05,1)" font-size="37.1">250</text>
<text transform="translate(105.87,543.00) scale(1.05,1)" font-size="37.1">275</text>
<text transform="translate(105.87,491.68) scale(1.05,1)" font-size="37.1">300</text>
<text transform="translate(105.87,440.35) scale(1.05,1)" font-size="37.1">325</text>
<rect x="180.85" y="689.75" width="755.85" height="266.91" fill="none" stroke="#000" stroke-width="3.7"/>
<path d="M222.84,689.75v16.2M222.84,956.66v-16.2M390.81,689.75v16.2M390.81,956.66v-16.2M558.77,689.75v16.2M558.77,956.66v-16.2M726.74,689.75v16.2M726.74,956.66v-16.2M894.71,689.75v16.2M894.71,956.66v-16.2M180.85,929.97h16.2M936.70,929.97h-16.2M180.85,876.59h16.2M936.70,876.59h-16.2M180.85,823.21h16.2M936.70,823.21h-16.2M180.85,769.82h16.2M936.70,769.82h-16.2M180.85,716.44h16.2M936.70,716.44h-16.2" stroke="#000" stroke-width="3.5" fill="none"/>
<clipPath id="cL2"><rect x="180.85" y="689.75" width="755.85" height="266.91"/></clipPath>
<g clip-path="url(#cL2)">
<path d="M210.9,687.8V774.1M235.6,694.4V776.8M242.3,764.5V835.7M255.4,803.5V874.7M264.5,700.0V782.3M267.7,693.3V792.3M268.3,766.8V852.0M272.3,732.3V803.9M278.1,722.3V796.3M281.7,723.4V798.3M303.3,711.1V782.3M313.5,767.9V836.8M313.5,781.2V852.0M316.2,770.1V844.6M317.9,759.0V823.5M323.5,730.5V809.0M324.2,791.2V858.6M325.7,776.8V855.7M326.8,763.4V821.3M332.2,730.5V791.9M333.3,750.1V806.8M341.3,718.3V782.8M352.4,774.5V848.0M355.3,736.1V803.5M362.2,796.8V864.0M366.9,743.4V814.6M367.3,767.9V831.9M368.7,750.1V817.9M375.3,792.8V846.4M379.1,771.9V831.9M383.3,721.8V781.9M383.3,756.7V796.8M386.9,786.1V846.4M389.4,714.5V793.5M392.2,789.4V849.7M394.9,741.2V808.6M399.8,800.1V864.0M401.4,767.9V832.4M410.7,723.8V784.1M415.2,718.3V810.8M416.5,743.4V817.9M419.6,767.9V831.9M424.5,766.3V819.0M424.5,796.8V860.9M428.7,750.1V800.1M428.3,802.4V852.0M435.0,723.4V799.0M435.0,767.9V829.1M435.4,821.7V881.8M449.6,739.4V786.1M449.6,751.2V806.8M453.9,773.4V830.2M458.1,780.6V837.3M460.8,753.9V809.5M461.4,798.3V862.4M465.4,809.0V865.8M467.0,817.9V868.0M482.1,753.9V807.2M481.5,794.6V854.6M482.8,812.8V873.1M485.9,762.8V826.4M485.9,796.8V860.9M489.3,791.2V846.9M492.4,757.2V821.7M503.5,816.1V869.8M505.9,810.8V856.9M518.8,841.3V887.6M520.8,821.3V874.7M523.1,839.5V878.7M527.5,775.0V839.5M550.0,801.9V873.1M577.8,752.3V801.2M577.8,782.3V846.4M584.5,787.4V826.8M601.6,752.3V811.3M601.6,765.6V827.9M601.6,772.3V849.7M610.9,780.1V845.7M612.3,792.3V849.7M614.5,798.3V862.4M610.9,785.7V862.4M627.9,783.9V865.8M631.6,780.6V858.4M632.1,800.1V858.4M635.9,834.2V887.6M641.7,809.0V865.8M640.5,839.5V906.9M651.7,750.1V825.0M653.0,843.1V903.1M659.2,830.2V883.6M660.6,841.3V899.1M663.0,775.0V832.8M663.2,857.3V924.7M665.5,812.4V879.1M674.1,846.2V903.1M680.4,853.5V920.9M681.9,839.5V913.6M694.6,773.4V834.2M692.6,814.6V878.0M695.7,821.3V885.8M696.2,854.6V913.6M699.7,789.4V853.5M700.6,809.0V879.1M705.5,865.8V922.9M708.4,826.8V894.7M716.6,795.0V865.3M725.7,848.0V922.9M730.6,795.0V862.0M729.8,823.5V883.6M731.3,868.0V928.1M734.0,834.6V893.6M739.8,825.0V885.8M749.8,849.7V914.0M756.7,789.4V854.0M762.9,812.4V884.7M763.6,827.9V890.2M765.8,823.5V883.6M766.7,836.8V899.6M771.4,784.1V848.0M770.5,810.1V872.4M774.0,849.7V899.6M789.6,780.6V844.2M788.5,815.7V881.3M795.6,873.5V933.6M802.1,795.0V862.4M810.1,812.4V865.8M825.6,843.1V910.3M828.3,856.9V924.1M831.9,859.1V930.3M839.0,817.9V881.8M838.1,830.2V890.2M839.0,848.0V915.8M873.7,881.8V949.6M888.4,800.1V871.3" stroke="#000" stroke-width="1.4" fill="none"/>
<g fill="#000"><circle cx="210.9" cy="730.7" r="3.45"/><circle cx="235.6" cy="736.3" r="3.45"/><circle cx="242.3" cy="800.1" r="3.45"/><circle cx="255.4" cy="839.1" r="3.45"/><circle cx="264.5" cy="741.6" r="3.45"/><circle cx="267.7" cy="742.7" r="3.45"/><circle cx="268.3" cy="809.5" r="3.45"/><circle cx="272.3" cy="768.3" r="3.45"/><circle cx="278.1" cy="759.0" r="3.45"/><circle cx="281.7" cy="760.7" r="3.45"/><circle cx="303.3" cy="746.7" r="3.45"/><circle cx="313.5" cy="802.4" r="3.45"/><circle cx="313.5" cy="816.4" r="3.45"/><circle cx="316.2" cy="807.2" r="3.45"/><circle cx="317.9" cy="791.2" r="3.45"/><circle cx="323.5" cy="769.6" r="3.45"/><circle cx="324.2" cy="825.0" r="3.45"/><circle cx="325.7" cy="816.4" r="3.45"/><circle cx="326.8" cy="792.3" r="3.45"/><circle cx="332.2" cy="761.2" r="3.45"/><circle cx="333.3" cy="779.0" r="3.45"/><circle cx="341.3" cy="750.5" r="3.45"/><circle cx="352.4" cy="810.8" r="3.45"/><circle cx="355.3" cy="769.6" r="3.45"/><circle cx="362.2" cy="830.2" r="3.45"/><circle cx="366.9" cy="779.0" r="3.45"/><circle cx="367.3" cy="800.1" r="3.45"/><circle cx="368.7" cy="783.9" r="3.45"/><circle cx="375.3" cy="819.7" r="3.45"/><circle cx="379.1" cy="801.9" r="3.45"/><circle cx="383.3" cy="751.9" r="3.45"/><circle cx="383.3" cy="779.0" r="3.45"/><circle cx="386.9" cy="816.4" r="3.45"/><circle cx="389.4" cy="754.1" r="3.45"/><circle cx="392.2" cy="819.7" r="3.45"/><circle cx="394.9" cy="775.0" r="3.45"/><circle cx="399.8" cy="831.9" r="3.45"/><circle cx="401.4" cy="800.1" r="3.45"/><circle cx="410.7" cy="754.1" r="3.45"/><circle cx="415.2" cy="764.5" r="3.45"/><circle cx="416.5" cy="780.6" r="3.45"/><circle cx="419.6" cy="799.7" r="3.45"/><circle cx="424.5" cy="792.8" r="3.45"/><circle cx="424.5" cy="829.1" r="3.45"/><circle cx="428.7" cy="775.0" r="3.45"/><circle cx="428.3" cy="827.3" r="3.45"/><circle cx="435.0" cy="761.2" r="3.45"/><circle cx="435.0" cy="798.6" r="3.45"/><circle cx="435.4" cy="851.7" r="3.45"/><circle cx="449.6" cy="762.8" r="3.45"/><circle cx="449.6" cy="779.0" r="3.45"/><circle cx="453.9" cy="801.9" r="3.45"/><circle cx="458.1" cy="809.0" r="3.45"/><circle cx="460.8" cy="781.7" r="3.45"/><circle cx="461.4" cy="830.2" r="3.45"/><circle cx="465.4" cy="837.3" r="3.45"/><circle cx="467.0" cy="843.1" r="3.45"/><circle cx="482.1" cy="780.6" r="3.45"/><circle cx="481.5" cy="825.0" r="3.45"/><circle cx="482.8" cy="843.1" r="3.45"/><circle cx="485.9" cy="794.6" r="3.45"/><circle cx="485.9" cy="828.6" r="3.45"/><circle cx="489.3" cy="819.0" r="3.45"/><circle cx="492.4" cy="789.4" r="3.45"/><circle cx="503.5" cy="843.1" r="3.45"/><circle cx="505.9" cy="833.5" r="3.45"/><circle cx="518.8" cy="864.2" r="3.45"/><circle cx="520.8" cy="848.0" r="3.45"/><circle cx="523.1" cy="859.1" r="3.45"/><circle cx="527.5" cy="807.2" r="3.45"/><circle cx="550.0" cy="837.3" r="3.45"/><circle cx="577.8" cy="776.8" r="3.45"/><circle cx="577.8" cy="814.1" r="3.45"/><circle cx="584.5" cy="807.2" r="3.45"/><circle cx="601.6" cy="781.9" r="3.45"/><circle cx="601.6" cy="796.3" r="3.45"/><circle cx="601.6" cy="811.3" r="3.45"/><circle cx="610.9" cy="812.4" r="3.45"/><circle cx="612.3" cy="821.3" r="3.45"/><circle cx="614.5" cy="830.2" r="3.45"/><circle cx="610.9" cy="823.5" r="3.45"/><circle cx="627.9" cy="825.0" r="3.45"/><circle cx="631.6" cy="819.5" r="3.45"/><circle cx="632.1" cy="829.1" r="3.45"/><circle cx="635.9" cy="860.9" r="3.45"/><circle cx="641.7" cy="837.3" r="3.45"/><circle cx="640.5" cy="873.1" r="3.45"/><circle cx="651.7" cy="787.4" r="3.45"/><circle cx="653.0" cy="873.1" r="3.45"/><circle cx="659.2" cy="856.9" r="3.45"/><circle cx="660.6" cy="870.2" r="3.45"/><circle cx="663.0" cy="803.9" r="3.45"/><circle cx="663.2" cy="890.9" r="3.45"/><circle cx="665.5" cy="845.7" r="3.45"/><circle cx="674.1" cy="874.7" r="3.45"/><circle cx="680.4" cy="887.3" r="3.45"/><circle cx="681.9" cy="876.9" r="3.45"/><circle cx="694.6" cy="803.9" r="3.45"/><circle cx="692.6" cy="846.4" r="3.45"/><circle cx="695.7" cy="853.5" r="3.45"/><circle cx="696.2" cy="884.0" r="3.45"/><circle cx="699.7" cy="821.3" r="3.45"/><circle cx="700.6" cy="844.2" r="3.45"/><circle cx="705.5" cy="894.2" r="3.45"/><circle cx="708.4" cy="860.9" r="3.45"/><circle cx="716.6" cy="830.2" r="3.45"/><circle cx="725.7" cy="885.3" r="3.45"/><circle cx="730.6" cy="828.4" r="3.45"/><circle cx="729.8" cy="853.5" r="3.45"/><circle cx="731.3" cy="898.0" r="3.45"/><circle cx="734.0" cy="864.0" r="3.45"/><circle cx="739.8" cy="855.3" r="3.45"/><circle cx="749.8" cy="881.8" r="3.45"/><circle cx="756.7" cy="821.7" r="3.45"/><circle cx="762.9" cy="848.4" r="3.45"/><circle cx="763.6" cy="858.6" r="3.45"/><circle cx="765.8" cy="854.0" r="3.45"/><circle cx="766.7" cy="868.0" r="3.45"/><circle cx="771.4" cy="816.1" r="3.45"/><circle cx="770.5" cy="841.3" r="3.45"/><circle cx="774.0" cy="874.2" r="3.45"/><circle cx="789.6" cy="812.4" r="3.45"/><circle cx="788.5" cy="848.4" r="3.45"/><circle cx="795.6" cy="903.6" r="3.45"/><circle cx="802.1" cy="828.6" r="3.45"/><circle cx="810.1" cy="839.1" r="3.45"/><circle cx="825.6" cy="876.4" r="3.45"/><circle cx="828.3" cy="890.2" r="3.45"/><circle cx="831.9" cy="894.2" r="3.45"/><circle cx="839.0" cy="849.7" r="3.45"/><circle cx="838.1" cy="860.9" r="3.45"/><circle cx="839.0" cy="881.8" r="3.45"/><circle cx="873.7" cy="915.8" r="3.45"/><circle cx="888.4" cy="835.7" r="3.45"/></g>
<g fill="#f00"><circle cx="210.9" cy="776.3" r="3.45"/><circle cx="235.6" cy="728.9" r="3.45"/><circle cx="242.3" cy="784.6" r="3.45"/><circle cx="255.4" cy="788.6" r="3.45"/><circle cx="264.5" cy="752.7" r="3.45"/><circle cx="267.7" cy="746.1" r="3.45"/><circle cx="268.3" cy="809.5" r="3.45"/><circle cx="272.3" cy="761.2" r="3.45"/><circle cx="278.1" cy="755.2" r="3.45"/><circle cx="281.7" cy="765.6" r="3.45"/><circle cx="303.3" cy="780.1" r="3.45"/><circle cx="313.5" cy="789.7" r="3.45"/><circle cx="315.7" cy="796.3" r="3.45"/><circle cx="313.5" cy="810.1" r="3.45"/><circle cx="317.3" cy="811.7" r="3.45"/><circle cx="323.5" cy="794.1" r="3.45"/><circle cx="326.8" cy="791.9" r="3.45"/><circle cx="325.7" cy="810.1" r="3.45"/><circle cx="324.6" cy="795.7" r="3.45"/><circle cx="332.2" cy="767.4" r="3.45"/><circle cx="333.3" cy="779.0" r="3.45"/><circle cx="341.3" cy="764.1" r="3.45"/><circle cx="352.4" cy="779.4" r="3.45"/><circle cx="355.3" cy="777.9" r="3.45"/><circle cx="362.2" cy="819.5" r="3.45"/><circle cx="367.3" cy="762.3" r="3.45"/><circle cx="367.3" cy="775.0" r="3.45"/><circle cx="368.4" cy="794.1" r="3.45"/><circle cx="375.3" cy="816.4" r="3.45"/><circle cx="379.1" cy="801.9" r="3.45"/><circle cx="383.3" cy="764.5" r="3.45"/><circle cx="383.3" cy="778.5" r="3.45"/><circle cx="386.9" cy="813.0" r="3.45"/><circle cx="389.4" cy="763.0" r="3.45"/><circle cx="392.2" cy="821.9" r="3.45"/><circle cx="394.9" cy="766.3" r="3.45"/><circle cx="399.8" cy="807.5" r="3.45"/><circle cx="401.4" cy="781.2" r="3.45"/><circle cx="410.7" cy="765.2" r="3.45"/><circle cx="413.6" cy="766.8" r="3.45"/><circle cx="416.9" cy="767.9" r="3.45"/><circle cx="419.6" cy="780.6" r="3.45"/><circle cx="424.5" cy="797.2" r="3.45"/><circle cx="424.5" cy="815.7" r="3.45"/><circle cx="429.2" cy="798.3" r="3.45"/><circle cx="428.3" cy="824.6" r="3.45"/><circle cx="435.0" cy="764.1" r="3.45"/><circle cx="434.1" cy="777.4" r="3.45"/><circle cx="435.4" cy="816.8" r="3.45"/><circle cx="449.6" cy="770.5" r="3.45"/><circle cx="449.6" cy="775.2" r="3.45"/><circle cx="453.9" cy="823.5" r="3.45"/><circle cx="458.1" cy="776.8" r="3.45"/><circle cx="461.0" cy="786.1" r="3.45"/><circle cx="461.4" cy="797.2" r="3.45"/><circle cx="465.4" cy="810.8" r="3.45"/><circle cx="467.0" cy="822.8" r="3.45"/><circle cx="482.1" cy="805.2" r="3.45"/><circle cx="480.8" cy="820.2" r="3.45"/><circle cx="483.7" cy="817.9" r="3.45"/><circle cx="485.2" cy="814.6" r="3.45"/><circle cx="486.6" cy="821.3" r="3.45"/><circle cx="489.3" cy="823.5" r="3.45"/><circle cx="492.4" cy="814.1" r="3.45"/><circle cx="503.5" cy="823.9" r="3.45"/><circle cx="505.9" cy="837.5" r="3.45"/><circle cx="518.8" cy="842.0" r="3.45"/><circle cx="520.8" cy="830.6" r="3.45"/><circle cx="523.1" cy="843.1" r="3.45"/><circle cx="527.5" cy="829.5" r="3.45"/><circle cx="550.0" cy="824.2" r="3.45"/><circle cx="577.8" cy="805.7" r="3.45"/><circle cx="577.8" cy="811.3" r="3.45"/><circle cx="584.5" cy="799.7" r="3.45"/><circle cx="601.6" cy="803.9" r="3.45"/><circle cx="601.6" cy="813.5" r="3.45"/><circle cx="601.6" cy="818.6" r="3.45"/><circle cx="613.4" cy="817.3" r="3.45"/><circle cx="610.7" cy="824.6" r="3.45"/><circle cx="615.0" cy="826.2" r="3.45"/><circle cx="612.5" cy="826.8" r="3.45"/><circle cx="627.9" cy="825.0" r="3.45"/><circle cx="631.6" cy="846.9" r="3.45"/><circle cx="631.6" cy="857.5" r="3.45"/><circle cx="635.9" cy="840.8" r="3.45"/><circle cx="640.5" cy="860.2" r="3.45"/><circle cx="641.7" cy="869.1" r="3.45"/><circle cx="651.7" cy="831.3" r="3.45"/><circle cx="653.0" cy="875.1" r="3.45"/><circle cx="659.2" cy="866.4" r="3.45"/><circle cx="660.1" cy="870.9" r="3.45"/><circle cx="663.0" cy="836.2" r="3.45"/><circle cx="663.2" cy="877.6" r="3.45"/><circle cx="665.2" cy="846.4" r="3.45"/><circle cx="674.1" cy="855.3" r="3.45"/><circle cx="680.1" cy="881.8" r="3.45"/><circle cx="681.9" cy="878.7" r="3.45"/><circle cx="694.6" cy="825.7" r="3.45"/><circle cx="695.5" cy="843.1" r="3.45"/><circle cx="693.5" cy="860.9" r="3.45"/><circle cx="692.6" cy="865.3" r="3.45"/><circle cx="696.2" cy="877.6" r="3.45"/><circle cx="699.3" cy="832.4" r="3.45"/><circle cx="700.6" cy="834.6" r="3.45"/><circle cx="705.5" cy="880.7" r="3.45"/><circle cx="708.4" cy="879.8" r="3.45"/><circle cx="716.6" cy="843.5" r="3.45"/><circle cx="725.7" cy="885.3" r="3.45"/><circle cx="730.6" cy="834.2" r="3.45"/><circle cx="733.5" cy="854.6" r="3.45"/><circle cx="729.8" cy="866.2" r="3.45"/><circle cx="731.3" cy="885.8" r="3.45"/><circle cx="739.8" cy="869.8" r="3.45"/><circle cx="749.8" cy="868.7" r="3.45"/><circle cx="756.7" cy="829.7" r="3.45"/><circle cx="762.9" cy="832.4" r="3.45"/><circle cx="763.6" cy="840.8" r="3.45"/><circle cx="766.7" cy="870.2" r="3.45"/><circle cx="765.8" cy="875.1" r="3.45"/><circle cx="771.4" cy="826.2" r="3.45"/><circle cx="770.5" cy="854.6" r="3.45"/><circle cx="774.0" cy="876.4" r="3.45"/><circle cx="789.6" cy="832.4" r="3.45"/><circle cx="788.5" cy="853.1" r="3.45"/><circle cx="795.6" cy="875.8" r="3.45"/><circle cx="802.1" cy="836.4" r="3.45"/><circle cx="810.1" cy="836.8" r="3.45"/><circle cx="825.6" cy="880.7" r="3.45"/><circle cx="828.3" cy="887.6" r="3.45"/><circle cx="831.9" cy="892.9" r="3.45"/><circle cx="839.0" cy="862.4" r="3.45"/><circle cx="838.1" cy="869.8" r="3.45"/><circle cx="839.0" cy="877.6" r="3.45"/><circle cx="873.7" cy="905.4" r="3.45"/><circle cx="888.4" cy="859.5" r="3.45"/></g>
</g>
<text transform="translate(66.25,943.42) scale(1.05,1)" font-size="37.1"><tspan font-size="49.1" dy="7">−</tspan><tspan dx="0.77" dy="-7">0.06</tspan></text>
<text transform="translate(66.25,890.04) scale(1.05,1)" font-size="37.1"><tspan font-size="49.1" dy="7">−</tspan><tspan dx="0.77" dy="-7">0.03</tspan></text>
<text transform="translate(144.82,836.65) scale(1.05,1)" font-size="37.1">0</text>
<text transform="translate(96.13,783.27) scale(1.05,1)" font-size="37.1">0.03</text>
<text transform="translate(96.13,729.89) scale(1.05,1)" font-size="37.1">0.06</text>
<rect x="180.85" y="983.40" width="755.85" height="266.91" fill="none" stroke="#000" stroke-width="3.7"/>
<path d="M222.84,983.40v16.2M222.84,1250.31v-16.2M390.81,983.40v16.2M390.81,1250.31v-16.2M558.77,983.40v16.2M558.77,1250.31v-16.2M726.74,983.40v16.2M726.74,1250.31v-16.2M894.71,983.40v16.2M894.71,1250.31v-16.2M180.85,1223.62h16.2M936.70,1223.62h-16.2M180.85,1170.24h16.2M936.70,1170.24h-16.2M180.85,1116.86h16.2M936.70,1116.86h-16.2M180.85,1063.47h16.2M936.70,1063.47h-16.2M180.85,1010.09h16.2M936.70,1010.09h-16.2" stroke="#000" stroke-width="3.5" fill="none"/>
<clipPath id="cL3"><rect x="180.85" y="983.40" width="755.85" height="266.91"/></clipPath>
<g clip-path="url(#cL3)">
<path d="M210.9,1085.0V1188.0M235.6,1017.2V1102.4M242.3,1070.6V1145.3M255.4,1088.3V1170.2M264.1,1054.5V1125.7M268.3,1044.5V1119.1M267.2,1045.6V1148.6M272.3,1070.6V1152.4M278.1,1063.4V1145.3M281.7,1047.2V1132.8M303.3,1051.2V1121.9M313.5,1013.4V1077.9M315.7,1017.2V1088.3M313.5,1049.0V1123.5M317.3,1060.1V1138.0M325.7,1006.7V1081.2M324.2,1033.4V1107.9M323.5,1063.4V1152.4M326.6,1101.3V1171.8M333.3,1052.8V1124.2M332.2,1065.0V1139.7M341.3,1065.0V1139.7M352.4,1100.8V1189.6M355.3,1042.3V1127.3M362.2,1040.1V1111.7M367.3,1090.1V1169.1M367.3,1124.2V1188.0M368.4,1061.7V1132.8M375.3,1069.0V1129.1M379.1,1054.5V1118.4M383.3,1056.8V1131.3M383.3,1084.6V1145.3M386.9,1033.4V1100.8M389.4,1081.2V1145.3M392.2,1017.2V1088.3M394.9,1075.7V1143.5M399.8,1045.6V1109.5M401.4,1084.6V1173.6M410.7,1104.6V1168.4M415.2,1086.8V1171.8M416.5,1069.0V1146.9M419.6,1084.6V1166.9M424.5,1057.9V1131.3M424.5,1081.2V1144.6M428.3,1031.2V1092.4M429.2,1089.0V1154.2M435.4,1020.7V1077.9M434.3,1075.7V1133.5M435.0,1074.6V1141.3M449.6,1070.6V1127.3M449.6,1082.8V1148.6M453.9,1024.1V1081.2M458.1,1047.2V1115.0M461.4,1065.0V1132.8M460.8,1075.7V1129.1M467.0,1031.2V1084.6M465.4,1095.7V1145.3M482.8,1043.4V1100.1M481.7,1062.3V1122.4M482.1,1077.9V1138.0M485.2,1047.2V1107.9M486.4,1074.6V1141.3M489.3,1088.3V1184.2M492.4,1075.7V1158.0M503.5,1086.8V1161.3M505.9,1065.0V1122.4M518.8,1059.6V1116.8M520.8,1074.1V1145.3M523.1,1081.2V1138.0M527.5,1069.0V1118.4M550.0,1058.3V1121.9M577.8,1063.4V1124.6M577.8,1074.6V1131.3M584.5,1069.0V1129.1M601.6,1038.3V1100.1M601.6,1073.4V1133.5M601.6,1064.5V1150.9M610.9,1051.2V1111.3M611.6,1057.9V1125.7M615.0,1051.2V1122.4M613.4,1062.3V1139.7M627.9,1069.0V1161.3M631.6,1056.8V1134.6M632.1,1066.8V1126.8M635.9,1076.1V1139.7M641.7,1038.3V1105.7M640.5,1069.0V1139.7M651.7,1010.0V1081.2M653.0,1072.3V1143.5M659.2,1095.7V1166.4M660.1,1057.9V1129.1M663.0,1060.1V1123.5M665.5,1042.3V1130.8M663.2,1095.7V1141.3M674.1,1091.9V1152.4M680.4,1093.5V1153.5M682.4,1099.0V1162.9M694.6,1036.7V1104.6M695.5,1045.6V1116.8M693.5,1057.9V1124.6M696.2,1092.4V1155.8M692.6,1075.7V1143.5M699.7,1026.1V1097.2M700.6,1064.5V1148.6M708.4,1056.3V1127.3M705.5,1100.1V1161.3M716.6,1035.0V1113.5M725.7,1099.0V1155.8M733.5,1026.1V1100.8M730.6,1074.1V1155.8M729.8,1090.1V1164.7M731.3,1095.7V1158.0M739.8,1091.9V1162.9M749.8,1063.4V1134.6M756.7,1022.3V1086.8M762.9,988.9V1060.1M763.6,1063.4V1127.3M765.8,1040.1V1122.4M766.7,1081.2V1141.3M771.4,1024.5V1091.9M770.5,1031.2V1099.0M774.0,1116.8V1173.6M789.6,1033.4V1100.1M788.5,1079.4V1150.6M795.6,1054.5V1119.1M802.1,1054.5V1114.6M810.1,1066.8V1134.6M825.6,1074.1V1152.4M828.3,1057.9V1118.4M831.9,1054.5V1121.9M838.1,1036.7V1122.4M839.0,1056.3V1131.3M839.0,1088.3V1166.4M873.7,1049.0V1123.5M888.4,1086.3V1157.5" stroke="#000" stroke-width="1.4" fill="none"/>
<g fill="#000"><circle cx="210.9" cy="1136.4" r="3.45"/><circle cx="235.6" cy="1059.6" r="3.45"/><circle cx="242.3" cy="1107.9" r="3.45"/><circle cx="255.4" cy="1129.1" r="3.45"/><circle cx="264.1" cy="1089.7" r="3.45"/><circle cx="268.3" cy="1081.2" r="3.45"/><circle cx="267.2" cy="1096.8" r="3.45"/><circle cx="272.3" cy="1111.7" r="3.45"/><circle cx="278.1" cy="1104.1" r="3.45"/><circle cx="281.7" cy="1089.7" r="3.45"/><circle cx="303.3" cy="1086.3" r="3.45"/><circle cx="313.5" cy="1045.6" r="3.45"/><circle cx="315.7" cy="1052.8" r="3.45"/><circle cx="313.5" cy="1086.3" r="3.45"/><circle cx="317.3" cy="1099.0" r="3.45"/><circle cx="325.7" cy="1043.9" r="3.45"/><circle cx="324.2" cy="1070.1" r="3.45"/><circle cx="323.5" cy="1107.9" r="3.45"/><circle cx="326.6" cy="1136.4" r="3.45"/><circle cx="333.3" cy="1088.3" r="3.45"/><circle cx="332.2" cy="1102.4" r="3.45"/><circle cx="341.3" cy="1102.4" r="3.45"/><circle cx="352.4" cy="1145.3" r="3.45"/><circle cx="355.3" cy="1084.6" r="3.45"/><circle cx="362.2" cy="1076.1" r="3.45"/><circle cx="367.3" cy="1129.5" r="3.45"/><circle cx="367.3" cy="1156.2" r="3.45"/><circle cx="368.4" cy="1097.2" r="3.45"/><circle cx="375.3" cy="1099.0" r="3.45"/><circle cx="379.1" cy="1086.3" r="3.45"/><circle cx="383.3" cy="1093.9" r="3.45"/><circle cx="383.3" cy="1115.3" r="3.45"/><circle cx="386.9" cy="1066.8" r="3.45"/><circle cx="389.4" cy="1113.0" r="3.45"/><circle cx="392.2" cy="1052.8" r="3.45"/><circle cx="394.9" cy="1109.5" r="3.45"/><circle cx="399.8" cy="1077.4" r="3.45"/><circle cx="401.4" cy="1129.1" r="3.45"/><circle cx="410.7" cy="1136.4" r="3.45"/><circle cx="415.2" cy="1129.1" r="3.45"/><circle cx="416.5" cy="1107.9" r="3.45"/><circle cx="419.6" cy="1125.7" r="3.45"/><circle cx="424.5" cy="1094.6" r="3.45"/><circle cx="424.5" cy="1113.0" r="3.45"/><circle cx="428.3" cy="1061.9" r="3.45"/><circle cx="429.2" cy="1121.7" r="3.45"/><circle cx="435.4" cy="1049.4" r="3.45"/><circle cx="434.3" cy="1104.1" r="3.45"/><circle cx="435.0" cy="1107.9" r="3.45"/><circle cx="449.6" cy="1099.0" r="3.45"/><circle cx="449.6" cy="1115.7" r="3.45"/><circle cx="453.9" cy="1052.8" r="3.45"/><circle cx="458.1" cy="1081.2" r="3.45"/><circle cx="461.4" cy="1099.0" r="3.45"/><circle cx="460.8" cy="1102.4" r="3.45"/><circle cx="467.0" cy="1057.9" r="3.45"/><circle cx="465.4" cy="1120.2" r="3.45"/><circle cx="482.8" cy="1071.9" r="3.45"/><circle cx="481.7" cy="1091.9" r="3.45"/><circle cx="482.1" cy="1107.9" r="3.45"/><circle cx="485.2" cy="1077.4" r="3.45"/><circle cx="486.4" cy="1107.9" r="3.45"/><circle cx="489.3" cy="1136.4" r="3.45"/><circle cx="492.4" cy="1116.8" r="3.45"/><circle cx="503.5" cy="1124.2" r="3.45"/><circle cx="505.9" cy="1093.9" r="3.45"/><circle cx="518.8" cy="1088.3" r="3.45"/><circle cx="520.8" cy="1109.5" r="3.45"/><circle cx="523.1" cy="1109.5" r="3.45"/><circle cx="527.5" cy="1093.9" r="3.45"/><circle cx="550.0" cy="1090.1" r="3.45"/><circle cx="577.8" cy="1095.7" r="3.45"/><circle cx="577.8" cy="1102.4" r="3.45"/><circle cx="584.5" cy="1099.0" r="3.45"/><circle cx="601.6" cy="1069.0" r="3.45"/><circle cx="601.6" cy="1103.5" r="3.45"/><circle cx="601.6" cy="1107.5" r="3.45"/><circle cx="610.9" cy="1081.2" r="3.45"/><circle cx="611.6" cy="1091.9" r="3.45"/><circle cx="615.0" cy="1086.8" r="3.45"/><circle cx="613.4" cy="1101.3" r="3.45"/><circle cx="627.9" cy="1114.6" r="3.45"/><circle cx="631.6" cy="1095.7" r="3.45"/><circle cx="632.1" cy="1096.8" r="3.45"/><circle cx="635.9" cy="1108.4" r="3.45"/><circle cx="641.7" cy="1071.9" r="3.45"/><circle cx="640.5" cy="1104.1" r="3.45"/><circle cx="651.7" cy="1045.6" r="3.45"/><circle cx="653.0" cy="1107.9" r="3.45"/><circle cx="659.2" cy="1131.3" r="3.45"/><circle cx="660.1" cy="1093.5" r="3.45"/><circle cx="663.0" cy="1091.9" r="3.45"/><circle cx="665.5" cy="1086.8" r="3.45"/><circle cx="663.2" cy="1119.1" r="3.45"/><circle cx="674.1" cy="1122.4" r="3.45"/><circle cx="680.4" cy="1123.5" r="3.45"/><circle cx="682.4" cy="1131.3" r="3.45"/><circle cx="694.6" cy="1070.6" r="3.45"/><circle cx="695.5" cy="1081.2" r="3.45"/><circle cx="693.5" cy="1091.2" r="3.45"/><circle cx="696.2" cy="1124.2" r="3.45"/><circle cx="692.6" cy="1109.0" r="3.45"/><circle cx="699.7" cy="1061.7" r="3.45"/><circle cx="700.6" cy="1106.4" r="3.45"/><circle cx="708.4" cy="1091.9" r="3.45"/><circle cx="705.5" cy="1130.2" r="3.45"/><circle cx="716.6" cy="1074.1" r="3.45"/><circle cx="725.7" cy="1127.5" r="3.45"/><circle cx="733.5" cy="1063.4" r="3.45"/><circle cx="730.6" cy="1114.6" r="3.45"/><circle cx="729.8" cy="1127.5" r="3.45"/><circle cx="731.3" cy="1125.7" r="3.45"/><circle cx="739.8" cy="1127.5" r="3.45"/><circle cx="749.8" cy="1099.0" r="3.45"/><circle cx="756.7" cy="1054.5" r="3.45"/><circle cx="762.9" cy="1024.5" r="3.45"/><circle cx="763.6" cy="1095.2" r="3.45"/><circle cx="765.8" cy="1081.2" r="3.45"/><circle cx="766.7" cy="1111.3" r="3.45"/><circle cx="771.4" cy="1058.3" r="3.45"/><circle cx="770.5" cy="1065.0" r="3.45"/><circle cx="774.0" cy="1145.3" r="3.45"/><circle cx="789.6" cy="1066.8" r="3.45"/><circle cx="788.5" cy="1115.0" r="3.45"/><circle cx="795.6" cy="1086.8" r="3.45"/><circle cx="802.1" cy="1084.6" r="3.45"/><circle cx="810.1" cy="1100.8" r="3.45"/><circle cx="825.6" cy="1113.0" r="3.45"/><circle cx="828.3" cy="1088.3" r="3.45"/><circle cx="831.9" cy="1087.9" r="3.45"/><circle cx="838.1" cy="1080.1" r="3.45"/><circle cx="839.0" cy="1093.5" r="3.45"/><circle cx="839.0" cy="1127.5" r="3.45"/><circle cx="873.7" cy="1086.3" r="3.45"/><circle cx="888.4" cy="1121.9" r="3.45"/></g>
<g fill="#f00"><circle cx="210.9" cy="1095.2" r="3.45"/><circle cx="235.6" cy="1081.2" r="3.45"/><circle cx="242.3" cy="1082.3" r="3.45"/><circle cx="255.4" cy="1091.9" r="3.45"/><circle cx="265.0" cy="1093.9" r="3.45"/><circle cx="267.9" cy="1085.0" r="3.45"/><circle cx="268.3" cy="1086.3" r="3.45"/><circle cx="272.3" cy="1097.5" r="3.45"/><circle cx="278.1" cy="1084.6" r="3.45"/><circle cx="281.7" cy="1092.8" r="3.45"/><circle cx="303.3" cy="1100.1" r="3.45"/><circle cx="315.7" cy="1070.6" r="3.45"/><circle cx="313.5" cy="1084.1" r="3.45"/><circle cx="317.3" cy="1086.3" r="3.45"/><circle cx="313.5" cy="1106.8" r="3.45"/><circle cx="325.7" cy="1067.4" r="3.45"/><circle cx="323.5" cy="1103.5" r="3.45"/><circle cx="326.6" cy="1106.8" r="3.45"/><circle cx="324.6" cy="1104.6" r="3.45"/><circle cx="332.2" cy="1109.5" r="3.45"/><circle cx="333.3" cy="1116.2" r="3.45"/><circle cx="341.3" cy="1115.7" r="3.45"/><circle cx="352.4" cy="1116.2" r="3.45"/><circle cx="355.3" cy="1117.9" r="3.45"/><circle cx="362.2" cy="1077.9" r="3.45"/><circle cx="368.4" cy="1105.0" r="3.45"/><circle cx="367.3" cy="1116.8" r="3.45"/><circle cx="367.3" cy="1124.6" r="3.45"/><circle cx="375.3" cy="1081.9" r="3.45"/><circle cx="379.1" cy="1100.1" r="3.45"/><circle cx="383.3" cy="1115.3" r="3.45"/><circle cx="383.3" cy="1121.3" r="3.45"/><circle cx="386.9" cy="1091.9" r="3.45"/><circle cx="389.4" cy="1124.6" r="3.45"/><circle cx="392.2" cy="1096.8" r="3.45"/><circle cx="394.9" cy="1131.3" r="3.45"/><circle cx="399.8" cy="1095.7" r="3.45"/><circle cx="401.4" cy="1113.9" r="3.45"/><circle cx="410.7" cy="1132.4" r="3.45"/><circle cx="415.2" cy="1125.7" r="3.45"/><circle cx="416.5" cy="1125.3" r="3.45"/><circle cx="419.6" cy="1112.8" r="3.45"/><circle cx="424.5" cy="1094.6" r="3.45"/><circle cx="424.5" cy="1113.0" r="3.45"/><circle cx="428.3" cy="1093.5" r="3.45"/><circle cx="429.2" cy="1109.0" r="3.45"/><circle cx="435.4" cy="1097.9" r="3.45"/><circle cx="434.3" cy="1113.9" r="3.45"/><circle cx="435.0" cy="1125.3" r="3.45"/><circle cx="449.6" cy="1114.2" r="3.45"/><circle cx="449.6" cy="1116.8" r="3.45"/><circle cx="453.9" cy="1089.5" r="3.45"/><circle cx="458.1" cy="1110.2" r="3.45"/><circle cx="460.8" cy="1115.3" r="3.45"/><circle cx="461.4" cy="1117.9" r="3.45"/><circle cx="467.0" cy="1088.6" r="3.45"/><circle cx="465.4" cy="1107.5" r="3.45"/><circle cx="482.8" cy="1105.3" r="3.45"/><circle cx="481.7" cy="1112.8" r="3.45"/><circle cx="482.1" cy="1106.8" r="3.45"/><circle cx="485.9" cy="1101.3" r="3.45"/><circle cx="485.2" cy="1102.4" r="3.45"/><circle cx="489.3" cy="1113.5" r="3.45"/><circle cx="492.4" cy="1112.4" r="3.45"/><circle cx="503.5" cy="1112.8" r="3.45"/><circle cx="505.9" cy="1105.0" r="3.45"/><circle cx="518.8" cy="1100.8" r="3.45"/><circle cx="520.8" cy="1105.7" r="3.45"/><circle cx="523.1" cy="1096.8" r="3.45"/><circle cx="527.5" cy="1091.9" r="3.45"/><circle cx="550.0" cy="1087.2" r="3.45"/><circle cx="577.8" cy="1094.1" r="3.45"/><circle cx="577.8" cy="1100.1" r="3.45"/><circle cx="584.5" cy="1102.4" r="3.45"/><circle cx="601.6" cy="1102.4" r="3.45"/><circle cx="601.6" cy="1107.3" r="3.45"/><circle cx="601.6" cy="1104.6" r="3.45"/><circle cx="611.6" cy="1101.3" r="3.45"/><circle cx="615.0" cy="1100.1" r="3.45"/><circle cx="611.6" cy="1113.0" r="3.45"/><circle cx="613.4" cy="1101.9" r="3.45"/><circle cx="627.9" cy="1112.8" r="3.45"/><circle cx="631.6" cy="1110.2" r="3.45"/><circle cx="632.1" cy="1116.2" r="3.45"/><circle cx="635.9" cy="1111.3" r="3.45"/><circle cx="640.5" cy="1107.5" r="3.45"/><circle cx="641.7" cy="1110.2" r="3.45"/><circle cx="651.7" cy="1100.6" r="3.45"/><circle cx="653.0" cy="1115.3" r="3.45"/><circle cx="659.2" cy="1114.6" r="3.45"/><circle cx="660.6" cy="1113.5" r="3.45"/><circle cx="663.0" cy="1107.3" r="3.45"/><circle cx="665.5" cy="1113.9" r="3.45"/><circle cx="663.2" cy="1119.7" r="3.45"/><circle cx="674.1" cy="1117.9" r="3.45"/><circle cx="681.9" cy="1124.2" r="3.45"/><circle cx="680.4" cy="1130.8" r="3.45"/><circle cx="694.6" cy="1089.0" r="3.45"/><circle cx="695.5" cy="1101.3" r="3.45"/><circle cx="693.5" cy="1111.3" r="3.45"/><circle cx="696.2" cy="1120.2" r="3.45"/><circle cx="699.7" cy="1093.5" r="3.45"/><circle cx="700.6" cy="1100.1" r="3.45"/><circle cx="705.5" cy="1131.3" r="3.45"/><circle cx="708.4" cy="1129.1" r="3.45"/><circle cx="716.6" cy="1100.1" r="3.45"/><circle cx="725.7" cy="1122.4" r="3.45"/><circle cx="730.6" cy="1089.7" r="3.45"/><circle cx="733.5" cy="1107.9" r="3.45"/><circle cx="729.8" cy="1115.3" r="3.45"/><circle cx="731.3" cy="1122.4" r="3.45"/><circle cx="739.8" cy="1115.0" r="3.45"/><circle cx="749.8" cy="1115.7" r="3.45"/><circle cx="756.7" cy="1077.9" r="3.45"/><circle cx="762.9" cy="1071.9" r="3.45"/><circle cx="763.6" cy="1093.5" r="3.45"/><circle cx="766.7" cy="1111.3" r="3.45"/><circle cx="765.8" cy="1117.9" r="3.45"/><circle cx="771.4" cy="1068.3" r="3.45"/><circle cx="770.5" cy="1105.7" r="3.45"/><circle cx="774.0" cy="1118.4" r="3.45"/><circle cx="789.6" cy="1080.8" r="3.45"/><circle cx="788.5" cy="1108.6" r="3.45"/><circle cx="795.6" cy="1096.4" r="3.45"/><circle cx="802.1" cy="1087.5" r="3.45"/><circle cx="810.1" cy="1090.6" r="3.45"/><circle cx="825.6" cy="1097.9" r="3.45"/><circle cx="828.3" cy="1095.7" r="3.45"/><circle cx="831.9" cy="1086.1" r="3.45"/><circle cx="838.1" cy="1079.4" r="3.45"/><circle cx="839.0" cy="1092.4" r="3.45"/><circle cx="838.5" cy="1091.2" r="3.45"/><circle cx="873.7" cy="1088.3" r="3.45"/><circle cx="888.4" cy="1084.1" r="3.45"/></g>
</g>
<text transform="translate(66.25,1237.07) scale(1.05,1)" font-size="37.1"><tspan font-size="49.1" dy="7">−</tspan><tspan dx="0.77" dy="-7">0.06</tspan></text>
<text transform="translate(66.25,1183.69) scale(1.05,1)" font-size="37.1"><tspan font-size="49.1" dy="7">−</tspan><tspan dx="0.77" dy="-7">0.03</tspan></text>
<text transform="translate(144.82,1130.31) scale(1.05,1)" font-size="37.1">0</text>
<text transform="translate(96.13,1076.92) scale(1.05,1)" font-size="37.1">0.03</text>
<text transform="translate(96.13,1023.54) scale(1.05,1)" font-size="37.1">0.06</text>
<rect x="180.85" y="1277.05" width="755.85" height="266.91" fill="none" stroke="#000" stroke-width="3.7"/>
<path d="M222.84,1277.05v16.2M222.84,1543.96v-16.2M390.81,1277.05v16.2M390.81,1543.96v-16.2M558.77,1277.05v16.2M558.77,1543.96v-16.2M726.74,1277.05v16.2M726.74,1543.96v-16.2M894.71,1277.05v16.2M894.71,1543.96v-16.2M180.85,1517.27h16.2M936.70,1517.27h-16.2M180.85,1463.89h16.2M936.70,1463.89h-16.2M180.85,1410.51h16.2M936.70,1410.51h-16.2M180.85,1357.12h16.2M936.70,1357.12h-16.2M180.85,1303.74h16.2M936.70,1303.74h-16.2" stroke="#000" stroke-width="3.5" fill="none"/>
<clipPath id="cL4"><rect x="180.85" y="1277.05" width="755.85" height="266.91"/></clipPath>
<g clip-path="url(#cL4)">
<path d="M210.9,1362.3V1472.7M235.6,1426.4V1515.4M242.3,1393.0V1467.1M255.4,1366.3V1447.5M264.5,1403.0V1492.5M267.7,1343.0V1463.1M268.3,1394.1V1465.3M272.3,1371.4V1453.1M278.1,1385.9V1474.2M281.7,1378.6V1467.1M303.3,1343.4V1435.3M315.7,1319.6V1405.3M317.3,1330.7V1411.9M313.5,1354.1V1432.0M313.5,1367.4V1456.9M323.5,1385.2V1467.6M323.5,1411.9V1497.6M326.6,1369.7V1440.9M325.7,1362.3V1452.0M332.2,1394.1V1472.7M333.3,1396.4V1463.1M341.3,1364.1V1453.1M352.4,1334.1V1437.1M355.3,1393.0V1467.1M362.2,1355.2V1436.4M368.4,1368.1V1446.0M367.3,1407.5V1495.4M367.3,1437.5V1515.4M375.3,1391.2V1454.7M379.1,1355.7V1426.4M383.3,1334.1V1408.6M383.3,1405.3V1486.9M386.9,1389.7V1459.8M389.4,1414.2V1485.4M392.2,1378.6V1447.5M394.9,1440.9V1515.4M399.8,1376.8V1437.1M401.4,1364.1V1436.4M410.7,1351.9V1434.2M415.2,1373.4V1465.8M416.5,1376.8V1455.3M419.6,1359.0V1440.9M424.5,1351.9V1415.9M424.5,1395.3V1460.9M428.3,1355.2V1419.7M429.2,1411.9V1476.5M435.0,1384.1V1443.1M433.9,1401.9V1465.8M435.4,1420.8V1488.7M449.6,1405.3V1462.0M449.6,1409.7V1465.3M453.9,1394.1V1460.9M458.1,1394.8V1464.7M461.4,1398.6V1462.0M460.8,1414.2V1478.0M467.0,1364.1V1425.3M465.4,1376.8V1438.0M481.7,1394.1V1465.8M481.7,1417.5V1470.9M482.8,1376.8V1438.6M485.2,1394.1V1466.4M486.4,1366.3V1439.7M489.3,1396.4V1495.8M492.4,1380.3V1454.7M503.5,1351.9V1433.7M505.9,1368.1V1431.5M518.8,1348.5V1418.6M520.8,1400.1V1463.8M523.1,1360.8V1431.5M527.5,1394.8V1454.9M550.0,1373.4V1436.9M577.8,1375.2V1438.6M577.8,1394.1V1465.8M584.5,1389.2V1470.9M601.6,1360.8V1435.3M601.6,1367.4V1436.4M601.6,1387.5V1476.5M611.4,1340.7V1398.6M613.6,1339.6V1427.5M615.0,1350.8V1430.9M610.9,1405.3V1472.7M627.9,1318.1V1413.7M632.1,1353.6V1403.0M631.6,1393.0V1456.9M635.9,1375.2V1438.6M641.7,1343.0V1410.8M640.5,1353.6V1428.6M651.7,1371.4V1439.1M653.0,1364.1V1432.0M660.1,1312.9V1379.7M659.2,1375.2V1456.4M663.0,1369.7V1443.1M663.2,1385.2V1449.8M665.5,1399.7V1482.0M674.1,1346.3V1414.2M680.4,1337.9V1401.9M681.9,1360.8V1435.3M696.2,1321.8V1396.4M692.6,1375.2V1434.2M693.9,1429.7V1504.9M695.5,1378.6V1445.3M700.6,1351.9V1426.4M699.7,1369.7V1444.2M708.4,1311.2V1378.6M705.5,1380.3V1462.0M716.6,1366.3V1433.7M725.7,1328.5V1393.0M730.6,1346.3V1424.2M729.8,1378.6V1447.5M731.3,1369.7V1455.3M733.5,1389.7V1463.8M739.8,1330.7V1394.1M749.8,1375.2V1446.0M756.7,1391.2V1465.8M765.8,1350.3V1425.3M762.9,1360.8V1446.0M763.6,1383.0V1454.9M766.7,1380.8V1453.1M770.5,1351.9V1445.3M771.4,1407.5V1484.9M774.0,1341.2V1405.3M789.6,1368.1V1449.8M788.5,1375.2V1453.1M795.6,1369.7V1451.5M802.1,1378.6V1453.1M810.1,1408.6V1472.7M825.6,1362.3V1440.9M828.3,1344.7V1423.1M831.9,1357.4V1435.3M839.0,1364.1V1442.0M839.0,1378.6V1452.0M838.1,1376.8V1476.5M873.7,1321.4V1400.1M888.4,1359.0V1433.7" stroke="#000" stroke-width="1.4" fill="none"/>
<g fill="#000"><circle cx="210.9" cy="1417.5" r="3.45"/><circle cx="235.6" cy="1470.9" r="3.45"/><circle cx="242.3" cy="1430.2" r="3.45"/><circle cx="255.4" cy="1407.0" r="3.45"/><circle cx="264.5" cy="1448.0" r="3.45"/><circle cx="267.7" cy="1403.0" r="3.45"/><circle cx="268.3" cy="1429.7" r="3.45"/><circle cx="272.3" cy="1412.4" r="3.45"/><circle cx="278.1" cy="1430.2" r="3.45"/><circle cx="281.7" cy="1422.6" r="3.45"/><circle cx="303.3" cy="1389.2" r="3.45"/><circle cx="315.7" cy="1362.5" r="3.45"/><circle cx="317.3" cy="1371.2" r="3.45"/><circle cx="313.5" cy="1393.0" r="3.45"/><circle cx="313.5" cy="1412.4" r="3.45"/><circle cx="323.5" cy="1426.4" r="3.45"/><circle cx="323.5" cy="1455.3" r="3.45"/><circle cx="326.6" cy="1405.3" r="3.45"/><circle cx="325.7" cy="1407.5" r="3.45"/><circle cx="332.2" cy="1433.1" r="3.45"/><circle cx="333.3" cy="1429.7" r="3.45"/><circle cx="341.3" cy="1408.6" r="3.45"/><circle cx="352.4" cy="1385.2" r="3.45"/><circle cx="355.3" cy="1429.7" r="3.45"/><circle cx="362.2" cy="1395.9" r="3.45"/><circle cx="368.4" cy="1407.0" r="3.45"/><circle cx="367.3" cy="1451.5" r="3.45"/><circle cx="367.3" cy="1476.5" r="3.45"/><circle cx="375.3" cy="1423.1" r="3.45"/><circle cx="379.1" cy="1390.8" r="3.45"/><circle cx="383.3" cy="1371.2" r="3.45"/><circle cx="383.3" cy="1446.0" r="3.45"/><circle cx="386.9" cy="1424.6" r="3.45"/><circle cx="389.4" cy="1449.8" r="3.45"/><circle cx="392.2" cy="1413.1" r="3.45"/><circle cx="394.9" cy="1478.0" r="3.45"/><circle cx="399.8" cy="1406.8" r="3.45"/><circle cx="401.4" cy="1400.1" r="3.45"/><circle cx="410.7" cy="1393.0" r="3.45"/><circle cx="415.2" cy="1419.7" r="3.45"/><circle cx="416.5" cy="1416.4" r="3.45"/><circle cx="419.6" cy="1400.1" r="3.45"/><circle cx="424.5" cy="1383.7" r="3.45"/><circle cx="424.5" cy="1428.2" r="3.45"/><circle cx="428.3" cy="1387.5" r="3.45"/><circle cx="429.2" cy="1444.2" r="3.45"/><circle cx="435.0" cy="1413.7" r="3.45"/><circle cx="433.9" cy="1433.7" r="3.45"/><circle cx="435.4" cy="1454.9" r="3.45"/><circle cx="449.6" cy="1433.5" r="3.45"/><circle cx="449.6" cy="1437.5" r="3.45"/><circle cx="453.9" cy="1427.5" r="3.45"/><circle cx="458.1" cy="1429.7" r="3.45"/><circle cx="461.4" cy="1430.2" r="3.45"/><circle cx="460.8" cy="1446.0" r="3.45"/><circle cx="467.0" cy="1394.6" r="3.45"/><circle cx="465.4" cy="1407.5" r="3.45"/><circle cx="481.7" cy="1430.2" r="3.45"/><circle cx="481.7" cy="1444.2" r="3.45"/><circle cx="482.8" cy="1407.5" r="3.45"/><circle cx="485.2" cy="1430.2" r="3.45"/><circle cx="486.4" cy="1403.0" r="3.45"/><circle cx="489.3" cy="1446.0" r="3.45"/><circle cx="492.4" cy="1417.5" r="3.45"/><circle cx="503.5" cy="1393.0" r="3.45"/><circle cx="505.9" cy="1399.7" r="3.45"/><circle cx="518.8" cy="1383.5" r="3.45"/><circle cx="520.8" cy="1432.0" r="3.45"/><circle cx="523.1" cy="1395.9" r="3.45"/><circle cx="527.5" cy="1424.8" r="3.45"/><circle cx="550.0" cy="1404.8" r="3.45"/><circle cx="577.8" cy="1407.0" r="3.45"/><circle cx="577.8" cy="1429.7" r="3.45"/><circle cx="584.5" cy="1430.2" r="3.45"/><circle cx="601.6" cy="1398.1" r="3.45"/><circle cx="601.6" cy="1401.5" r="3.45"/><circle cx="601.6" cy="1432.0" r="3.45"/><circle cx="611.4" cy="1369.7" r="3.45"/><circle cx="613.6" cy="1383.7" r="3.45"/><circle cx="615.0" cy="1390.8" r="3.45"/><circle cx="610.9" cy="1439.1" r="3.45"/><circle cx="627.9" cy="1365.9" r="3.45"/><circle cx="632.1" cy="1378.1" r="3.45"/><circle cx="631.6" cy="1424.8" r="3.45"/><circle cx="635.9" cy="1406.8" r="3.45"/><circle cx="641.7" cy="1376.8" r="3.45"/><circle cx="640.5" cy="1390.8" r="3.45"/><circle cx="651.7" cy="1405.3" r="3.45"/><circle cx="653.0" cy="1397.5" r="3.45"/><circle cx="660.1" cy="1346.3" r="3.45"/><circle cx="659.2" cy="1415.7" r="3.45"/><circle cx="663.0" cy="1406.4" r="3.45"/><circle cx="663.2" cy="1417.9" r="3.45"/><circle cx="665.5" cy="1440.9" r="3.45"/><circle cx="674.1" cy="1380.3" r="3.45"/><circle cx="680.4" cy="1369.7" r="3.45"/><circle cx="681.9" cy="1397.9" r="3.45"/><circle cx="696.2" cy="1359.0" r="3.45"/><circle cx="692.6" cy="1404.2" r="3.45"/><circle cx="693.9" cy="1467.6" r="3.45"/><circle cx="695.5" cy="1411.9" r="3.45"/><circle cx="700.6" cy="1389.2" r="3.45"/><circle cx="699.7" cy="1407.5" r="3.45"/><circle cx="708.4" cy="1344.7" r="3.45"/><circle cx="705.5" cy="1421.3" r="3.45"/><circle cx="716.6" cy="1400.1" r="3.45"/><circle cx="725.7" cy="1360.8" r="3.45"/><circle cx="730.6" cy="1385.2" r="3.45"/><circle cx="729.8" cy="1413.7" r="3.45"/><circle cx="731.3" cy="1407.5" r="3.45"/><circle cx="733.5" cy="1426.8" r="3.45"/><circle cx="739.8" cy="1362.3" r="3.45"/><circle cx="749.8" cy="1410.4" r="3.45"/><circle cx="756.7" cy="1428.2" r="3.45"/><circle cx="765.8" cy="1387.5" r="3.45"/><circle cx="762.9" cy="1403.0" r="3.45"/><circle cx="763.6" cy="1418.6" r="3.45"/><circle cx="766.7" cy="1416.4" r="3.45"/><circle cx="770.5" cy="1407.5" r="3.45"/><circle cx="771.4" cy="1446.0" r="3.45"/><circle cx="774.0" cy="1373.0" r="3.45"/><circle cx="789.6" cy="1409.0" r="3.45"/><circle cx="788.5" cy="1414.2" r="3.45"/><circle cx="795.6" cy="1410.4" r="3.45"/><circle cx="802.1" cy="1415.7" r="3.45"/><circle cx="810.1" cy="1440.9" r="3.45"/><circle cx="825.6" cy="1401.3" r="3.45"/><circle cx="828.3" cy="1383.7" r="3.45"/><circle cx="831.9" cy="1396.4" r="3.45"/><circle cx="839.0" cy="1403.0" r="3.45"/><circle cx="839.0" cy="1411.9" r="3.45"/><circle cx="838.1" cy="1426.8" r="3.45"/><circle cx="873.7" cy="1360.8" r="3.45"/><circle cx="888.4" cy="1396.4" r="3.45"/></g>
<g fill="#f00"><circle cx="210.9" cy="1417.5" r="3.45"/><circle cx="235.6" cy="1456.0" r="3.45"/><circle cx="242.3" cy="1413.1" r="3.45"/><circle cx="255.4" cy="1406.4" r="3.45"/><circle cx="264.5" cy="1428.0" r="3.45"/><circle cx="268.3" cy="1394.1" r="3.45"/><circle cx="267.7" cy="1437.5" r="3.45"/><circle cx="272.3" cy="1422.0" r="3.45"/><circle cx="278.1" cy="1438.0" r="3.45"/><circle cx="281.7" cy="1431.5" r="3.45"/><circle cx="303.3" cy="1417.5" r="3.45"/><circle cx="317.3" cy="1400.4" r="3.45"/><circle cx="313.5" cy="1401.9" r="3.45"/><circle cx="313.5" cy="1406.8" r="3.45"/><circle cx="315.7" cy="1413.7" r="3.45"/><circle cx="323.5" cy="1409.3" r="3.45"/><circle cx="325.7" cy="1413.7" r="3.45"/><circle cx="326.6" cy="1417.9" r="3.45"/><circle cx="324.6" cy="1410.8" r="3.45"/><circle cx="333.3" cy="1427.1" r="3.45"/><circle cx="332.2" cy="1433.7" r="3.45"/><circle cx="341.3" cy="1434.9" r="3.45"/><circle cx="352.4" cy="1422.4" r="3.45"/><circle cx="355.3" cy="1428.2" r="3.45"/><circle cx="362.2" cy="1400.8" r="3.45"/><circle cx="368.4" cy="1409.0" r="3.45"/><circle cx="367.3" cy="1434.9" r="3.45"/><circle cx="367.3" cy="1439.3" r="3.45"/><circle cx="375.3" cy="1418.6" r="3.45"/><circle cx="379.1" cy="1404.6" r="3.45"/><circle cx="383.3" cy="1414.8" r="3.45"/><circle cx="383.3" cy="1429.1" r="3.45"/><circle cx="386.9" cy="1414.2" r="3.45"/><circle cx="389.4" cy="1434.2" r="3.45"/><circle cx="392.2" cy="1412.4" r="3.45"/><circle cx="394.9" cy="1443.1" r="3.45"/><circle cx="399.8" cy="1405.9" r="3.45"/><circle cx="401.4" cy="1411.5" r="3.45"/><circle cx="410.7" cy="1438.2" r="3.45"/><circle cx="415.2" cy="1427.1" r="3.45"/><circle cx="416.5" cy="1425.7" r="3.45"/><circle cx="419.6" cy="1414.6" r="3.45"/><circle cx="424.5" cy="1412.4" r="3.45"/><circle cx="424.5" cy="1416.4" r="3.45"/><circle cx="428.3" cy="1409.7" r="3.45"/><circle cx="429.2" cy="1413.7" r="3.45"/><circle cx="435.4" cy="1406.8" r="3.45"/><circle cx="433.9" cy="1416.4" r="3.45"/><circle cx="435.0" cy="1430.9" r="3.45"/><circle cx="449.6" cy="1423.1" r="3.45"/><circle cx="449.6" cy="1423.5" r="3.45"/><circle cx="453.9" cy="1411.3" r="3.45"/><circle cx="458.1" cy="1420.4" r="3.45"/><circle cx="460.8" cy="1420.8" r="3.45"/><circle cx="461.4" cy="1424.8" r="3.45"/><circle cx="465.4" cy="1409.3" r="3.45"/><circle cx="467.0" cy="1409.3" r="3.45"/><circle cx="482.8" cy="1404.2" r="3.45"/><circle cx="481.7" cy="1411.9" r="3.45"/><circle cx="482.1" cy="1413.1" r="3.45"/><circle cx="485.2" cy="1395.9" r="3.45"/><circle cx="485.9" cy="1399.7" r="3.45"/><circle cx="489.3" cy="1409.7" r="3.45"/><circle cx="492.4" cy="1413.7" r="3.45"/><circle cx="503.5" cy="1410.2" r="3.45"/><circle cx="505.9" cy="1397.5" r="3.45"/><circle cx="518.8" cy="1388.6" r="3.45"/><circle cx="520.8" cy="1405.3" r="3.45"/><circle cx="523.1" cy="1383.7" r="3.45"/><circle cx="527.5" cy="1403.7" r="3.45"/><circle cx="550.0" cy="1409.3" r="3.45"/><circle cx="577.8" cy="1421.5" r="3.45"/><circle cx="577.8" cy="1431.5" r="3.45"/><circle cx="584.5" cy="1438.2" r="3.45"/><circle cx="601.6" cy="1417.1" r="3.45"/><circle cx="601.6" cy="1432.6" r="3.45"/><circle cx="601.6" cy="1433.1" r="3.45"/><circle cx="611.6" cy="1408.2" r="3.45"/><circle cx="610.9" cy="1422.4" r="3.45"/><circle cx="615.0" cy="1425.7" r="3.45"/><circle cx="613.6" cy="1427.5" r="3.45"/><circle cx="627.9" cy="1409.0" r="3.45"/><circle cx="631.6" cy="1400.8" r="3.45"/><circle cx="632.1" cy="1403.0" r="3.45"/><circle cx="635.9" cy="1403.7" r="3.45"/><circle cx="641.7" cy="1400.4" r="3.45"/><circle cx="640.5" cy="1403.0" r="3.45"/><circle cx="653.0" cy="1396.8" r="3.45"/><circle cx="651.7" cy="1414.6" r="3.45"/><circle cx="659.2" cy="1397.5" r="3.45"/><circle cx="660.6" cy="1397.0" r="3.45"/><circle cx="663.7" cy="1397.5" r="3.45"/><circle cx="665.5" cy="1405.3" r="3.45"/><circle cx="663.0" cy="1411.3" r="3.45"/><circle cx="674.1" cy="1399.3" r="3.45"/><circle cx="680.4" cy="1385.9" r="3.45"/><circle cx="681.9" cy="1395.9" r="3.45"/><circle cx="696.2" cy="1398.6" r="3.45"/><circle cx="692.6" cy="1408.2" r="3.45"/><circle cx="695.5" cy="1412.6" r="3.45"/><circle cx="694.6" cy="1409.7" r="3.45"/><circle cx="699.7" cy="1406.8" r="3.45"/><circle cx="700.6" cy="1411.5" r="3.45"/><circle cx="705.5" cy="1378.6" r="3.45"/><circle cx="708.4" cy="1380.3" r="3.45"/><circle cx="716.6" cy="1414.6" r="3.45"/><circle cx="725.7" cy="1388.6" r="3.45"/><circle cx="731.3" cy="1387.5" r="3.45"/><circle cx="730.6" cy="1401.5" r="3.45"/><circle cx="729.8" cy="1405.3" r="3.45"/><circle cx="733.5" cy="1410.2" r="3.45"/><circle cx="739.8" cy="1384.1" r="3.45"/><circle cx="749.8" cy="1397.0" r="3.45"/><circle cx="756.7" cy="1420.2" r="3.45"/><circle cx="765.8" cy="1386.8" r="3.45"/><circle cx="766.7" cy="1395.9" r="3.45"/><circle cx="762.9" cy="1405.3" r="3.45"/><circle cx="763.6" cy="1417.9" r="3.45"/><circle cx="770.5" cy="1407.0" r="3.45"/><circle cx="771.4" cy="1417.9" r="3.45"/><circle cx="774.0" cy="1387.0" r="3.45"/><circle cx="789.6" cy="1404.2" r="3.45"/><circle cx="788.5" cy="1415.7" r="3.45"/><circle cx="795.6" cy="1393.5" r="3.45"/><circle cx="802.1" cy="1421.5" r="3.45"/><circle cx="810.1" cy="1419.1" r="3.45"/><circle cx="825.6" cy="1401.3" r="3.45"/><circle cx="828.3" cy="1395.9" r="3.45"/><circle cx="831.9" cy="1386.4" r="3.45"/><circle cx="839.0" cy="1395.3" r="3.45"/><circle cx="838.1" cy="1397.0" r="3.45"/><circle cx="839.0" cy="1409.3" r="3.45"/><circle cx="873.7" cy="1372.3" r="3.45"/><circle cx="888.4" cy="1412.6" r="3.45"/></g>
</g>
<text transform="translate(66.25,1530.72) scale(1.05,1)" font-size="37.1"><tspan font-size="49.1" dy="7">−</tspan><tspan dx="0.77" dy="-7">0.06</tspan></text>
<text transform="translate(66.25,1477.34) scale(1.05,1)" font-size="37.1"><tspan font-size="49.1" dy="7">−</tspan><tspan dx="0.77" dy="-7">0.03</tspan></text>
<text transform="translate(144.82,1423.96) scale(1.05,1)" font-size="37.1">0</text>
<text transform="translate(96.13,1370.57) scale(1.05,1)" font-size="37.1">0.03</text>
<text transform="translate(96.13,1317.19) scale(1.05,1)" font-size="37.1">0.06</text>
<rect x="180.85" y="1570.70" width="755.85" height="266.91" fill="none" stroke="#000" stroke-width="3.7"/>
<path d="M222.84,1570.70v16.2M222.84,1837.61v-16.2M390.81,1570.70v16.2M390.81,1837.61v-16.2M558.77,1570.70v16.2M558.77,1837.61v-16.2M726.74,1570.70v16.2M726.74,1837.61v-16.2M894.71,1570.70v16.2M894.71,1837.61v-16.2M180.85,1810.92h16.2M936.70,1810.92h-16.2M180.85,1757.54h16.2M936.70,1757.54h-16.2M180.85,1704.16h16.2M936.70,1704.16h-16.2M180.85,1650.77h16.2M936.70,1650.77h-16.2M180.85,1597.39h16.2M936.70,1597.39h-16.2" stroke="#000" stroke-width="3.5" fill="none"/>
<clipPath id="cL5"><rect x="180.85" y="1570.70" width="755.85" height="266.91"/></clipPath>
<g clip-path="url(#cL5)">
<path d="M210.9,1611.4V1714.8M235.6,1661.4V1750.4M242.3,1666.6V1741.1M255.4,1670.3V1744.9M264.5,1611.4V1693.7M267.7,1649.2V1769.3M268.3,1674.8V1764.9M272.3,1616.9V1705.9M278.1,1659.2V1744.9M281.7,1674.3V1766.0M303.3,1658.1V1739.3M313.5,1583.1V1669.2M317.3,1638.7V1715.3M315.7,1677.0V1757.1M313.5,1669.2V1747.1M323.5,1609.8V1701.5M326.6,1627.6V1710.4M324.2,1657.0V1733.7M325.7,1661.4V1740.4M332.2,1574.2V1667.0M333.3,1656.3V1731.1M341.3,1665.2V1743.3M352.4,1597.4V1701.0M355.3,1626.3V1704.2M362.2,1650.8V1750.4M367.3,1600.9V1679.2M367.3,1626.3V1689.9M368.4,1628.1V1710.4M375.3,1645.4V1720.4M379.1,1645.4V1727.1M383.3,1622.1V1715.5M383.3,1647.6V1728.6M386.9,1681.5V1755.6M389.4,1640.3V1721.5M392.2,1618.7V1707.7M394.9,1624.1V1694.8M399.8,1618.7V1693.3M401.4,1622.5V1700.8M410.7,1634.7V1731.1M415.2,1624.3V1723.7M416.5,1656.3V1734.4M419.6,1677.0V1755.6M424.5,1641.9V1716.0M424.5,1650.3V1723.7M428.3,1620.7V1698.8M429.2,1650.8V1725.5M435.0,1631.4V1717.1M433.9,1645.4V1727.7M435.4,1652.5V1727.1M449.6,1624.1V1698.8M449.6,1628.1V1701.5M453.9,1649.2V1730.4M458.1,1620.7V1705.9M461.4,1640.3V1724.9M460.8,1652.5V1723.7M465.4,1641.9V1716.6M467.0,1649.2V1723.7M482.1,1620.7V1702.2M481.7,1643.6V1718.8M482.8,1645.9V1719.3M485.2,1636.5V1711.1M486.4,1639.6V1714.4M489.3,1640.3V1729.3M492.4,1629.6V1711.1M503.5,1650.8V1725.5M505.9,1661.4V1732.6M518.8,1683.0V1746.7M520.8,1641.9V1706.4M523.1,1654.3V1707.7M527.5,1681.5V1759.3M550.0,1654.3V1743.3M577.8,1640.3V1700.4M577.8,1652.5V1727.1M584.5,1666.6V1734.9M601.6,1625.8V1700.8M601.6,1668.1V1739.3M601.6,1688.1V1766.0M610.9,1638.1V1710.4M613.6,1634.7V1730.4M615.0,1649.2V1723.7M611.6,1631.4V1716.6M627.9,1638.5V1738.2M631.6,1633.0V1734.4M632.1,1652.5V1723.7M635.9,1640.3V1707.7M640.5,1606.3V1688.1M641.7,1610.3V1694.8M653.0,1624.7V1708.2M651.7,1625.8V1721.5M660.1,1634.7V1712.6M659.2,1640.3V1721.5M665.5,1613.6V1716.6M663.2,1640.3V1714.8M663.0,1655.9V1728.6M674.1,1658.1V1725.5M680.4,1624.1V1713.1M681.9,1634.7V1723.3M694.6,1606.3V1691.5M696.2,1634.7V1717.1M692.6,1656.3V1731.1M693.9,1665.2V1743.3M700.6,1620.7V1712.6M699.7,1683.0V1764.5M708.4,1638.5V1702.2M705.5,1640.3V1722.0M716.6,1636.5V1722.0M725.7,1640.3V1714.8M729.8,1592.0V1666.6M731.3,1645.9V1734.4M733.5,1675.9V1771.6M730.6,1645.9V1703.7M739.8,1622.5V1704.2M749.8,1656.3V1731.1M756.7,1652.5V1723.7M766.7,1604.3V1683.0M763.6,1633.0V1714.8M762.9,1652.5V1738.2M765.8,1645.9V1721.5M770.5,1654.3V1722.0M771.4,1678.1V1766.0M774.0,1588.5V1655.9M788.5,1590.2V1665.2M789.6,1643.6V1732.6M795.6,1659.7V1734.4M802.1,1675.9V1750.4M810.1,1656.3V1723.7M825.6,1616.9V1702.6M828.3,1620.7V1691.9M831.9,1672.1V1753.8M839.0,1645.4V1720.4M838.1,1656.3V1745.3M839.0,1679.2V1757.6M873.7,1647.0V1725.5M888.4,1683.0V1753.8" stroke="#000" stroke-width="1.4" fill="none"/>
<g fill="#000"><circle cx="210.9" cy="1663.2" r="3.45"/><circle cx="235.6" cy="1705.9" r="3.45"/><circle cx="242.3" cy="1703.7" r="3.45"/><circle cx="255.4" cy="1707.7" r="3.45"/><circle cx="264.5" cy="1652.5" r="3.45"/><circle cx="267.7" cy="1709.3" r="3.45"/><circle cx="268.3" cy="1720.4" r="3.45"/><circle cx="272.3" cy="1661.4" r="3.45"/><circle cx="278.1" cy="1702.2" r="3.45"/><circle cx="281.7" cy="1720.4" r="3.45"/><circle cx="303.3" cy="1698.8" r="3.45"/><circle cx="313.5" cy="1625.8" r="3.45"/><circle cx="317.3" cy="1677.0" r="3.45"/><circle cx="315.7" cy="1716.6" r="3.45"/><circle cx="313.5" cy="1708.2" r="3.45"/><circle cx="323.5" cy="1655.9" r="3.45"/><circle cx="326.6" cy="1668.8" r="3.45"/><circle cx="324.2" cy="1695.3" r="3.45"/><circle cx="325.7" cy="1700.8" r="3.45"/><circle cx="332.2" cy="1620.7" r="3.45"/><circle cx="333.3" cy="1693.7" r="3.45"/><circle cx="341.3" cy="1704.2" r="3.45"/><circle cx="352.4" cy="1649.2" r="3.45"/><circle cx="355.3" cy="1665.2" r="3.45"/><circle cx="362.2" cy="1700.8" r="3.45"/><circle cx="367.3" cy="1640.3" r="3.45"/><circle cx="367.3" cy="1658.1" r="3.45"/><circle cx="368.4" cy="1668.6" r="3.45"/><circle cx="375.3" cy="1683.0" r="3.45"/><circle cx="379.1" cy="1685.9" r="3.45"/><circle cx="383.3" cy="1668.8" r="3.45"/><circle cx="383.3" cy="1688.1" r="3.45"/><circle cx="386.9" cy="1718.6" r="3.45"/><circle cx="389.4" cy="1680.4" r="3.45"/><circle cx="392.2" cy="1663.0" r="3.45"/><circle cx="394.9" cy="1659.2" r="3.45"/><circle cx="399.8" cy="1655.9" r="3.45"/><circle cx="401.4" cy="1661.4" r="3.45"/><circle cx="410.7" cy="1683.0" r="3.45"/><circle cx="415.2" cy="1674.1" r="3.45"/><circle cx="416.5" cy="1695.3" r="3.45"/><circle cx="419.6" cy="1716.4" r="3.45"/><circle cx="424.5" cy="1678.8" r="3.45"/><circle cx="424.5" cy="1685.9" r="3.45"/><circle cx="428.3" cy="1659.7" r="3.45"/><circle cx="429.2" cy="1688.1" r="3.45"/><circle cx="435.0" cy="1674.1" r="3.45"/><circle cx="433.9" cy="1686.6" r="3.45"/><circle cx="435.4" cy="1689.3" r="3.45"/><circle cx="449.6" cy="1661.4" r="3.45"/><circle cx="449.6" cy="1663.2" r="3.45"/><circle cx="453.9" cy="1689.9" r="3.45"/><circle cx="458.1" cy="1663.2" r="3.45"/><circle cx="461.4" cy="1682.6" r="3.45"/><circle cx="460.8" cy="1688.1" r="3.45"/><circle cx="465.4" cy="1679.2" r="3.45"/><circle cx="467.0" cy="1686.4" r="3.45"/><circle cx="482.1" cy="1661.4" r="3.45"/><circle cx="481.7" cy="1681.5" r="3.45"/><circle cx="482.8" cy="1682.6" r="3.45"/><circle cx="485.2" cy="1673.7" r="3.45"/><circle cx="486.4" cy="1677.0" r="3.45"/><circle cx="489.3" cy="1684.8" r="3.45"/><circle cx="492.4" cy="1670.3" r="3.45"/><circle cx="503.5" cy="1688.1" r="3.45"/><circle cx="505.9" cy="1697.0" r="3.45"/><circle cx="518.8" cy="1714.8" r="3.45"/><circle cx="520.8" cy="1674.1" r="3.45"/><circle cx="523.1" cy="1681.0" r="3.45"/><circle cx="527.5" cy="1720.4" r="3.45"/><circle cx="550.0" cy="1698.8" r="3.45"/><circle cx="577.8" cy="1670.3" r="3.45"/><circle cx="577.8" cy="1689.9" r="3.45"/><circle cx="584.5" cy="1700.8" r="3.45"/><circle cx="601.6" cy="1663.2" r="3.45"/><circle cx="601.6" cy="1704.2" r="3.45"/><circle cx="601.6" cy="1727.1" r="3.45"/><circle cx="610.9" cy="1674.1" r="3.45"/><circle cx="613.6" cy="1682.6" r="3.45"/><circle cx="615.0" cy="1686.4" r="3.45"/><circle cx="611.6" cy="1689.3" r="3.45"/><circle cx="627.9" cy="1688.8" r="3.45"/><circle cx="631.6" cy="1681.0" r="3.45"/><circle cx="632.1" cy="1688.1" r="3.45"/><circle cx="635.9" cy="1674.1" r="3.45"/><circle cx="640.5" cy="1647.0" r="3.45"/><circle cx="641.7" cy="1652.5" r="3.45"/><circle cx="653.0" cy="1666.6" r="3.45"/><circle cx="651.7" cy="1673.7" r="3.45"/><circle cx="660.1" cy="1673.7" r="3.45"/><circle cx="659.2" cy="1681.0" r="3.45"/><circle cx="665.5" cy="1664.8" r="3.45"/><circle cx="663.2" cy="1677.5" r="3.45"/><circle cx="663.0" cy="1692.1" r="3.45"/><circle cx="674.1" cy="1691.5" r="3.45"/><circle cx="680.4" cy="1668.6" r="3.45"/><circle cx="681.9" cy="1678.8" r="3.45"/><circle cx="694.6" cy="1648.8" r="3.45"/><circle cx="696.2" cy="1675.9" r="3.45"/><circle cx="692.6" cy="1693.7" r="3.45"/><circle cx="693.9" cy="1704.2" r="3.45"/><circle cx="700.6" cy="1666.6" r="3.45"/><circle cx="699.7" cy="1723.7" r="3.45"/><circle cx="708.4" cy="1670.3" r="3.45"/><circle cx="705.5" cy="1681.0" r="3.45"/><circle cx="716.6" cy="1679.2" r="3.45"/><circle cx="725.7" cy="1677.5" r="3.45"/><circle cx="729.8" cy="1629.2" r="3.45"/><circle cx="731.3" cy="1689.9" r="3.45"/><circle cx="733.5" cy="1723.7" r="3.45"/><circle cx="730.6" cy="1674.8" r="3.45"/><circle cx="739.8" cy="1663.2" r="3.45"/><circle cx="749.8" cy="1693.7" r="3.45"/><circle cx="756.7" cy="1688.1" r="3.45"/><circle cx="766.7" cy="1643.6" r="3.45"/><circle cx="763.6" cy="1673.7" r="3.45"/><circle cx="762.9" cy="1695.3" r="3.45"/><circle cx="765.8" cy="1679.2" r="3.45"/><circle cx="770.5" cy="1688.1" r="3.45"/><circle cx="771.4" cy="1722.0" r="3.45"/><circle cx="774.0" cy="1622.1" r="3.45"/><circle cx="788.5" cy="1627.6" r="3.45"/><circle cx="789.6" cy="1688.1" r="3.45"/><circle cx="795.6" cy="1697.0" r="3.45"/><circle cx="802.1" cy="1713.1" r="3.45"/><circle cx="810.1" cy="1689.9" r="3.45"/><circle cx="825.6" cy="1659.7" r="3.45"/><circle cx="828.3" cy="1656.3" r="3.45"/><circle cx="831.9" cy="1713.1" r="3.45"/><circle cx="839.0" cy="1683.0" r="3.45"/><circle cx="838.1" cy="1700.8" r="3.45"/><circle cx="839.0" cy="1718.6" r="3.45"/><circle cx="873.7" cy="1686.4" r="3.45"/><circle cx="888.4" cy="1718.6" r="3.45"/></g>
<g fill="#f00"><circle cx="210.9" cy="1673.7" r="3.45"/><circle cx="235.6" cy="1693.0" r="3.45"/><circle cx="242.3" cy="1690.4" r="3.45"/><circle cx="255.4" cy="1687.0" r="3.45"/><circle cx="264.5" cy="1687.7" r="3.45"/><circle cx="267.7" cy="1694.8" r="3.45"/><circle cx="268.3" cy="1697.0" r="3.45"/><circle cx="272.3" cy="1681.9" r="3.45"/><circle cx="278.1" cy="1696.4" r="3.45"/><circle cx="281.7" cy="1694.8" r="3.45"/><circle cx="303.3" cy="1689.9" r="3.45"/><circle cx="313.5" cy="1684.1" r="3.45"/><circle cx="317.3" cy="1700.4" r="3.45"/><circle cx="313.5" cy="1707.5" r="3.45"/><circle cx="315.7" cy="1732.2" r="3.45"/><circle cx="323.5" cy="1685.5" r="3.45"/><circle cx="326.6" cy="1686.4" r="3.45"/><circle cx="325.7" cy="1734.9" r="3.45"/><circle cx="324.6" cy="1685.9" r="3.45"/><circle cx="333.3" cy="1678.6" r="3.45"/><circle cx="332.2" cy="1683.7" r="3.45"/><circle cx="341.3" cy="1678.6" r="3.45"/><circle cx="352.4" cy="1683.0" r="3.45"/><circle cx="355.3" cy="1686.6" r="3.45"/><circle cx="362.2" cy="1721.5" r="3.45"/><circle cx="367.3" cy="1671.0" r="3.45"/><circle cx="368.4" cy="1688.8" r="3.45"/><circle cx="367.3" cy="1691.9" r="3.45"/><circle cx="375.3" cy="1713.7" r="3.45"/><circle cx="379.1" cy="1692.6" r="3.45"/><circle cx="383.3" cy="1679.9" r="3.45"/><circle cx="383.3" cy="1689.3" r="3.45"/><circle cx="386.9" cy="1699.7" r="3.45"/><circle cx="389.4" cy="1680.8" r="3.45"/><circle cx="392.2" cy="1699.7" r="3.45"/><circle cx="394.9" cy="1687.5" r="3.45"/><circle cx="399.8" cy="1694.4" r="3.45"/><circle cx="401.4" cy="1683.2" r="3.45"/><circle cx="410.7" cy="1687.7" r="3.45"/><circle cx="415.2" cy="1684.8" r="3.45"/><circle cx="416.5" cy="1686.6" r="3.45"/><circle cx="419.6" cy="1689.7" r="3.45"/><circle cx="424.5" cy="1684.8" r="3.45"/><circle cx="424.5" cy="1697.0" r="3.45"/><circle cx="429.2" cy="1685.9" r="3.45"/><circle cx="428.3" cy="1705.9" r="3.45"/><circle cx="433.9" cy="1688.1" r="3.45"/><circle cx="435.0" cy="1689.9" r="3.45"/><circle cx="435.4" cy="1703.3" r="3.45"/><circle cx="449.6" cy="1688.8" r="3.45"/><circle cx="449.6" cy="1689.3" r="3.45"/><circle cx="453.9" cy="1715.3" r="3.45"/><circle cx="458.1" cy="1693.7" r="3.45"/><circle cx="460.8" cy="1687.5" r="3.45"/><circle cx="461.4" cy="1690.8" r="3.45"/><circle cx="465.4" cy="1698.2" r="3.45"/><circle cx="467.0" cy="1715.3" r="3.45"/><circle cx="481.7" cy="1689.3" r="3.45"/><circle cx="482.1" cy="1695.3" r="3.45"/><circle cx="482.8" cy="1695.9" r="3.45"/><circle cx="485.2" cy="1696.6" r="3.45"/><circle cx="486.4" cy="1695.9" r="3.45"/><circle cx="489.3" cy="1684.8" r="3.45"/><circle cx="492.4" cy="1692.1" r="3.45"/><circle cx="503.5" cy="1687.5" r="3.45"/><circle cx="505.9" cy="1693.3" r="3.45"/><circle cx="518.8" cy="1697.7" r="3.45"/><circle cx="520.8" cy="1690.8" r="3.45"/><circle cx="523.1" cy="1702.2" r="3.45"/><circle cx="527.5" cy="1705.5" r="3.45"/><circle cx="550.0" cy="1710.8" r="3.45"/><circle cx="577.8" cy="1696.4" r="3.45"/><circle cx="577.8" cy="1704.4" r="3.45"/><circle cx="584.5" cy="1696.4" r="3.45"/><circle cx="601.6" cy="1692.6" r="3.45"/><circle cx="601.6" cy="1695.5" r="3.45"/><circle cx="601.6" cy="1695.9" r="3.45"/><circle cx="611.6" cy="1688.1" r="3.45"/><circle cx="610.9" cy="1696.4" r="3.45"/><circle cx="615.0" cy="1696.6" r="3.45"/><circle cx="613.6" cy="1697.0" r="3.45"/><circle cx="627.9" cy="1688.8" r="3.45"/><circle cx="631.6" cy="1690.8" r="3.45"/><circle cx="632.1" cy="1692.1" r="3.45"/><circle cx="635.9" cy="1692.6" r="3.45"/><circle cx="640.5" cy="1692.6" r="3.45"/><circle cx="641.7" cy="1692.6" r="3.45"/><circle cx="653.0" cy="1691.5" r="3.45"/><circle cx="651.7" cy="1702.6" r="3.45"/><circle cx="659.2" cy="1688.1" r="3.45"/><circle cx="660.6" cy="1687.7" r="3.45"/><circle cx="665.5" cy="1684.1" r="3.45"/><circle cx="663.0" cy="1688.1" r="3.45"/><circle cx="663.2" cy="1698.2" r="3.45"/><circle cx="674.1" cy="1684.4" r="3.45"/><circle cx="681.9" cy="1686.4" r="3.45"/><circle cx="680.4" cy="1688.8" r="3.45"/><circle cx="696.2" cy="1683.2" r="3.45"/><circle cx="692.6" cy="1688.1" r="3.45"/><circle cx="695.5" cy="1687.0" r="3.45"/><circle cx="694.6" cy="1709.7" r="3.45"/><circle cx="700.6" cy="1688.8" r="3.45"/><circle cx="699.3" cy="1697.0" r="3.45"/><circle cx="705.5" cy="1686.4" r="3.45"/><circle cx="708.4" cy="1685.9" r="3.45"/><circle cx="716.6" cy="1690.4" r="3.45"/><circle cx="725.7" cy="1677.5" r="3.45"/><circle cx="731.3" cy="1672.6" r="3.45"/><circle cx="729.8" cy="1678.6" r="3.45"/><circle cx="733.5" cy="1685.9" r="3.45"/><circle cx="730.6" cy="1702.6" r="3.45"/><circle cx="739.8" cy="1692.6" r="3.45"/><circle cx="749.8" cy="1683.7" r="3.45"/><circle cx="756.7" cy="1720.4" r="3.45"/><circle cx="765.8" cy="1678.1" r="3.45"/><circle cx="766.7" cy="1683.7" r="3.45"/><circle cx="763.6" cy="1700.8" r="3.45"/><circle cx="762.9" cy="1727.5" r="3.45"/><circle cx="770.5" cy="1688.1" r="3.45"/><circle cx="771.4" cy="1733.7" r="3.45"/><circle cx="774.0" cy="1677.5" r="3.45"/><circle cx="788.5" cy="1683.0" r="3.45"/><circle cx="789.6" cy="1714.8" r="3.45"/><circle cx="795.6" cy="1692.1" r="3.45"/><circle cx="802.1" cy="1698.2" r="3.45"/><circle cx="810.1" cy="1695.5" r="3.45"/><circle cx="825.6" cy="1681.5" r="3.45"/><circle cx="828.3" cy="1687.0" r="3.45"/><circle cx="831.9" cy="1695.5" r="3.45"/><circle cx="839.0" cy="1689.3" r="3.45"/><circle cx="839.0" cy="1691.5" r="3.45"/><circle cx="838.1" cy="1714.4" r="3.45"/><circle cx="873.7" cy="1683.2" r="3.45"/><circle cx="888.4" cy="1687.0" r="3.45"/></g>
</g>
<text transform="translate(66.25,1824.37) scale(1.05,1)" font-size="37.1"><tspan font-size="49.1" dy="7">−</tspan><tspan dx="0.77" dy="-7">0.06</tspan></text>
<text transform="translate(66.25,1770.99) scale(1.05,1)" font-size="37.1"><tspan font-size="49.1" dy="7">−</tspan><tspan dx="0.77" dy="-7">0.03</tspan></text>
<text transform="translate(144.82,1717.61) scale(1.05,1)" font-size="37.1">0</text>
<text transform="translate(96.13,1664.22) scale(1.05,1)" font-size="37.1">0.03</text>
<text transform="translate(96.13,1610.84) scale(1.05,1)" font-size="37.1">0.06</text>
<rect x="180.85" y="1864.35" width="755.85" height="266.91" fill="none" stroke="#000" stroke-width="3.7"/>
<path d="M222.84,1864.35v16.2M222.84,2131.26v-16.2M390.81,1864.35v16.2M390.81,2131.26v-16.2M558.77,1864.35v16.2M558.77,2131.26v-16.2M726.74,1864.35v16.2M726.74,2131.26v-16.2M894.71,1864.35v16.2M894.71,2131.26v-16.2M180.85,2104.57h16.2M936.70,2104.57h-16.2M180.85,2051.19h16.2M936.70,2051.19h-16.2M180.85,1997.80h16.2M936.70,1997.80h-16.2M180.85,1944.42h16.2M936.70,1944.42h-16.2M180.85,1891.04h16.2M936.70,1891.04h-16.2" stroke="#000" stroke-width="3.5" fill="none"/>
<clipPath id="cL6"><rect x="180.85" y="1864.35" width="755.85" height="266.91"/></clipPath>
<g clip-path="url(#cL6)">
<path d="M210.9,1957.0V2046.0M235.6,1953.2V2035.1M242.3,1983.9V2054.4M255.4,1951.4V2022.6M264.5,1976.6V2051.1M267.7,1890.9V2001.7M268.3,1937.2V2022.6M272.3,1957.0V2031.5M278.1,1898.3V1976.6M281.7,1962.1V2037.1M303.3,1944.3V2030.0M313.5,1941.0V2015.5M313.5,1982.1V2052.9M317.3,1955.4V2018.9M315.7,1946.1V2027.7M323.5,1939.2V2016.6M326.6,1962.1V2033.3M324.2,1972.1V2047.8M326.6,1964.3V2031.1M333.3,1916.1V1979.9M332.2,1935.4V2003.3M341.3,1935.4V2006.6M352.4,1983.3V2065.6M355.3,1985.5V2056.7M362.2,1928.3V1999.5M367.3,1905.4V1975.9M367.3,1937.6V2004.4M368.4,1985.5V2060.0M375.3,1959.9V2021.1M379.1,1933.6V2015.5M383.3,1941.0V2010.6M383.3,1959.9V2022.6M386.9,1971.0V2031.8M389.4,1932.1V2013.3M392.2,1958.8V2022.2M394.9,1932.1V1992.6M399.8,2003.3V2070.7M401.4,1972.8V2047.3M410.7,2003.3V2081.6M415.2,1930.3V2033.8M416.5,2010.0V2074.5M419.6,1953.2V2021.1M424.5,1959.9V2023.3M424.5,1962.1V2032.2M429.2,1958.8V2015.5M428.3,1987.3V2051.1M435.0,1939.2V2014.0M433.9,1962.1V2041.1M435.4,1997.7V2058.2M449.6,1941.0V2008.8M449.6,1983.9V2040.4M453.9,1939.2V2010.6M458.1,1974.8V2027.7M460.8,1949.9V2010.0M461.4,1987.3V2051.1M465.4,1971.0V2048.9M467.0,1989.3V2052.9M482.1,1964.3V2022.2M481.7,1959.9V2031.1M482.8,1987.3V2047.3M485.2,2003.3V2060.0M486.4,1969.5V2037.8M489.3,1921.4V2003.3M492.4,1969.5V2040.4M503.5,1990.6V2058.2M505.9,1981.7V2052.9M518.8,1981.7V2056.7M520.8,2002.2V2057.8M523.1,1987.3V2054.4M527.5,1958.8V2026.0M550.0,1948.1V2030.0M577.8,1951.0V2026.6M577.8,1979.9V2051.1M584.5,1917.6V1988.8M601.6,1919.4V1990.6M601.6,1931.0V2017.7M601.6,1966.6V2024.4M610.9,1932.1V1992.2M615.0,1944.3V2012.2M611.6,1967.7V2035.1M613.6,1971.0V2035.1M627.9,1957.0V2035.1M631.6,1947.7V2020.0M632.1,1953.2V2025.5M635.9,1958.8V2018.9M641.7,1955.4V2011.7M640.5,1962.1V2026.2M651.7,1919.4V1990.6M653.0,1987.3V2054.4M660.1,2006.6V2081.6M659.2,1969.5V2035.1M663.0,1921.4V1985.5M663.2,1942.5V2021.7M665.5,1942.5V2038.9M674.1,1983.3V2047.8M681.9,1962.1V2051.1M680.4,1969.5V2033.3M692.6,1942.5V2010.6M694.6,1948.1V2022.6M693.9,1973.2V2041.1M695.7,1991.0V2076.0M699.7,1951.4V2013.3M700.6,1966.1V2040.4M705.5,1949.9V2027.7M708.4,1979.9V2044.0M716.6,1928.3V2003.3M725.7,2005.1V2076.0M730.6,1948.1V2030.0M729.8,1962.1V2030.0M731.3,1985.5V2056.7M733.5,1982.1V2060.0M739.8,1997.7V2058.2M749.8,1946.1V2010.0M756.7,1974.8V2049.6M762.9,1951.4V2013.3M763.6,1976.6V2044.0M765.8,2024.4V2095.6M766.7,1957.0V2013.3M770.5,1953.2V2017.1M771.4,2005.1V2072.2M774.0,2005.1V2065.6M788.5,1948.1V2016.0M789.6,1957.0V2027.7M795.6,1987.3V2058.2M802.1,1983.7V2054.4M810.1,1971.0V2031.8M825.6,1974.8V2042.2M828.3,1946.1V2014.0M831.9,2014.0V2084.9M838.1,1944.3V2033.3M839.0,1962.1V2030.0M839.0,2001.7V2068.9M873.7,1960.3V2027.7M888.4,1946.1V2017.7" stroke="#000" stroke-width="1.4" fill="none"/>
<g fill="#000"><circle cx="210.9" cy="2001.5" r="3.45"/><circle cx="235.6" cy="1994.4" r="3.45"/><circle cx="242.3" cy="2019.3" r="3.45"/><circle cx="255.4" cy="1987.0" r="3.45"/><circle cx="264.5" cy="2014.0" r="3.45"/><circle cx="267.7" cy="1946.1" r="3.45"/><circle cx="268.3" cy="1979.9" r="3.45"/><circle cx="272.3" cy="1994.4" r="3.45"/><circle cx="278.1" cy="1937.2" r="3.45"/><circle cx="281.7" cy="1999.5" r="3.45"/><circle cx="303.3" cy="1987.0" r="3.45"/><circle cx="313.5" cy="1978.1" r="3.45"/><circle cx="313.5" cy="2017.1" r="3.45"/><circle cx="317.3" cy="1987.0" r="3.45"/><circle cx="315.7" cy="1989.9" r="3.45"/><circle cx="323.5" cy="1977.7" r="3.45"/><circle cx="326.6" cy="1978.8" r="3.45"/><circle cx="324.2" cy="2010.0" r="3.45"/><circle cx="326.6" cy="1997.3" r="3.45"/><circle cx="333.3" cy="1947.7" r="3.45"/><circle cx="332.2" cy="1969.5" r="3.45"/><circle cx="341.3" cy="1971.0" r="3.45"/><circle cx="352.4" cy="2024.4" r="3.45"/><circle cx="355.3" cy="2021.1" r="3.45"/><circle cx="362.2" cy="1963.9" r="3.45"/><circle cx="367.3" cy="1940.5" r="3.45"/><circle cx="367.3" cy="1971.0" r="3.45"/><circle cx="368.4" cy="2022.6" r="3.45"/><circle cx="375.3" cy="1990.4" r="3.45"/><circle cx="379.1" cy="1974.4" r="3.45"/><circle cx="383.3" cy="1975.9" r="3.45"/><circle cx="383.3" cy="1991.0" r="3.45"/><circle cx="386.9" cy="2001.5" r="3.45"/><circle cx="389.4" cy="1972.6" r="3.45"/><circle cx="392.2" cy="1990.4" r="3.45"/><circle cx="394.9" cy="1962.1" r="3.45"/><circle cx="399.8" cy="2037.1" r="3.45"/><circle cx="401.4" cy="2010.0" r="3.45"/><circle cx="410.7" cy="2042.2" r="3.45"/><circle cx="415.2" cy="1982.1" r="3.45"/><circle cx="416.5" cy="2042.2" r="3.45"/><circle cx="419.6" cy="1987.0" r="3.45"/><circle cx="424.5" cy="1991.5" r="3.45"/><circle cx="424.5" cy="1996.6" r="3.45"/><circle cx="429.2" cy="1987.0" r="3.45"/><circle cx="428.3" cy="2019.3" r="3.45"/><circle cx="435.0" cy="1976.6" r="3.45"/><circle cx="433.9" cy="2001.5" r="3.45"/><circle cx="435.4" cy="2027.7" r="3.45"/><circle cx="449.6" cy="1974.8" r="3.45"/><circle cx="449.6" cy="2012.2" r="3.45"/><circle cx="453.9" cy="1974.8" r="3.45"/><circle cx="458.1" cy="2001.5" r="3.45"/><circle cx="460.8" cy="1979.9" r="3.45"/><circle cx="461.4" cy="2019.3" r="3.45"/><circle cx="465.4" cy="2010.0" r="3.45"/><circle cx="467.0" cy="2021.1" r="3.45"/><circle cx="482.1" cy="1993.3" r="3.45"/><circle cx="481.7" cy="1995.5" r="3.45"/><circle cx="482.8" cy="2017.1" r="3.45"/><circle cx="485.2" cy="2031.8" r="3.45"/><circle cx="486.4" cy="2003.3" r="3.45"/><circle cx="489.3" cy="1962.1" r="3.45"/><circle cx="492.4" cy="2004.8" r="3.45"/><circle cx="503.5" cy="2024.4" r="3.45"/><circle cx="505.9" cy="2017.1" r="3.45"/><circle cx="518.8" cy="2019.3" r="3.45"/><circle cx="520.8" cy="2030.0" r="3.45"/><circle cx="523.1" cy="2021.1" r="3.45"/><circle cx="527.5" cy="1992.2" r="3.45"/><circle cx="550.0" cy="1988.8" r="3.45"/><circle cx="577.8" cy="1988.8" r="3.45"/><circle cx="577.8" cy="2015.5" r="3.45"/><circle cx="584.5" cy="1953.2" r="3.45"/><circle cx="601.6" cy="1955.0" r="3.45"/><circle cx="601.6" cy="1974.4" r="3.45"/><circle cx="601.6" cy="1995.5" r="3.45"/><circle cx="610.9" cy="1962.1" r="3.45"/><circle cx="615.0" cy="1978.1" r="3.45"/><circle cx="611.6" cy="2001.7" r="3.45"/><circle cx="613.6" cy="2003.3" r="3.45"/><circle cx="627.9" cy="1996.2" r="3.45"/><circle cx="631.6" cy="1983.7" r="3.45"/><circle cx="632.1" cy="1988.8" r="3.45"/><circle cx="635.9" cy="1988.8" r="3.45"/><circle cx="641.7" cy="1983.7" r="3.45"/><circle cx="640.5" cy="1994.4" r="3.45"/><circle cx="651.7" cy="1955.0" r="3.45"/><circle cx="653.0" cy="2021.1" r="3.45"/><circle cx="660.1" cy="2044.0" r="3.45"/><circle cx="659.2" cy="2002.2" r="3.45"/><circle cx="663.0" cy="1953.2" r="3.45"/><circle cx="663.2" cy="1982.1" r="3.45"/><circle cx="665.5" cy="1990.6" r="3.45"/><circle cx="674.1" cy="2015.5" r="3.45"/><circle cx="681.9" cy="2006.6" r="3.45"/><circle cx="680.4" cy="2001.7" r="3.45"/><circle cx="692.6" cy="1976.6" r="3.45"/><circle cx="694.6" cy="1985.5" r="3.45"/><circle cx="693.9" cy="2007.1" r="3.45"/><circle cx="695.7" cy="2033.3" r="3.45"/><circle cx="699.7" cy="1982.1" r="3.45"/><circle cx="700.6" cy="2003.3" r="3.45"/><circle cx="705.5" cy="1988.8" r="3.45"/><circle cx="708.4" cy="2012.2" r="3.45"/><circle cx="716.6" cy="1965.9" r="3.45"/><circle cx="725.7" cy="2040.4" r="3.45"/><circle cx="730.6" cy="1988.8" r="3.45"/><circle cx="729.8" cy="1996.2" r="3.45"/><circle cx="731.3" cy="2021.1" r="3.45"/><circle cx="733.5" cy="2021.1" r="3.45"/><circle cx="739.8" cy="2027.7" r="3.45"/><circle cx="749.8" cy="1978.1" r="3.45"/><circle cx="756.7" cy="2012.2" r="3.45"/><circle cx="762.9" cy="1982.1" r="3.45"/><circle cx="763.6" cy="2010.0" r="3.45"/><circle cx="765.8" cy="2060.0" r="3.45"/><circle cx="766.7" cy="1985.0" r="3.45"/><circle cx="770.5" cy="1985.0" r="3.45"/><circle cx="771.4" cy="2038.9" r="3.45"/><circle cx="774.0" cy="2035.1" r="3.45"/><circle cx="788.5" cy="1982.1" r="3.45"/><circle cx="789.6" cy="1992.6" r="3.45"/><circle cx="795.6" cy="2022.6" r="3.45"/><circle cx="802.1" cy="2019.3" r="3.45"/><circle cx="810.1" cy="2001.5" r="3.45"/><circle cx="825.6" cy="2008.4" r="3.45"/><circle cx="828.3" cy="1979.9" r="3.45"/><circle cx="831.9" cy="2049.6" r="3.45"/><circle cx="838.1" cy="1988.8" r="3.45"/><circle cx="839.0" cy="1996.2" r="3.45"/><circle cx="839.0" cy="2035.1" r="3.45"/><circle cx="873.7" cy="1994.4" r="3.45"/><circle cx="888.4" cy="1982.1" r="3.45"/></g>
<g fill="#f00"><circle cx="210.9" cy="1988.1" r="3.45"/><circle cx="235.6" cy="1975.5" r="3.45"/><circle cx="242.3" cy="1984.4" r="3.45"/><circle cx="255.4" cy="1989.9" r="3.45"/><circle cx="264.5" cy="1995.0" r="3.45"/><circle cx="267.7" cy="1986.6" r="3.45"/><circle cx="268.3" cy="1995.0" r="3.45"/><circle cx="272.3" cy="1996.2" r="3.45"/><circle cx="278.1" cy="1976.1" r="3.45"/><circle cx="281.7" cy="1976.6" r="3.45"/><circle cx="303.3" cy="1994.8" r="3.45"/><circle cx="313.5" cy="1995.0" r="3.45"/><circle cx="315.7" cy="1995.5" r="3.45"/><circle cx="317.3" cy="1993.7" r="3.45"/><circle cx="313.5" cy="2003.9" r="3.45"/><circle cx="326.6" cy="1983.7" r="3.45"/><circle cx="325.7" cy="1991.0" r="3.45"/><circle cx="323.5" cy="1995.5" r="3.45"/><circle cx="324.2" cy="1998.8" r="3.45"/><circle cx="332.2" cy="1979.2" r="3.45"/><circle cx="333.3" cy="1979.9" r="3.45"/><circle cx="341.3" cy="1980.4" r="3.45"/><circle cx="352.4" cy="1993.9" r="3.45"/><circle cx="355.3" cy="1989.3" r="3.45"/><circle cx="362.2" cy="1993.9" r="3.45"/><circle cx="367.3" cy="1977.7" r="3.45"/><circle cx="367.3" cy="1979.5" r="3.45"/><circle cx="368.4" cy="1994.8" r="3.45"/><circle cx="375.3" cy="1988.8" r="3.45"/><circle cx="379.1" cy="1998.4" r="3.45"/><circle cx="383.3" cy="1989.5" r="3.45"/><circle cx="383.3" cy="1993.3" r="3.45"/><circle cx="386.9" cy="1990.6" r="3.45"/><circle cx="389.4" cy="1985.9" r="3.45"/><circle cx="392.2" cy="1996.2" r="3.45"/><circle cx="394.9" cy="1981.7" r="3.45"/><circle cx="399.8" cy="1997.7" r="3.45"/><circle cx="401.4" cy="1997.0" r="3.45"/><circle cx="410.7" cy="1987.7" r="3.45"/><circle cx="415.2" cy="1995.5" r="3.45"/><circle cx="416.5" cy="1997.3" r="3.45"/><circle cx="419.6" cy="1998.2" r="3.45"/><circle cx="424.5" cy="1995.0" r="3.45"/><circle cx="424.5" cy="1998.2" r="3.45"/><circle cx="428.3" cy="1995.9" r="3.45"/><circle cx="429.2" cy="1996.6" r="3.45"/><circle cx="435.0" cy="1995.5" r="3.45"/><circle cx="433.9" cy="1998.2" r="3.45"/><circle cx="435.4" cy="2007.1" r="3.45"/><circle cx="449.6" cy="1995.5" r="3.45"/><circle cx="449.6" cy="1996.2" r="3.45"/><circle cx="453.9" cy="1996.2" r="3.45"/><circle cx="458.1" cy="1995.9" r="3.45"/><circle cx="460.8" cy="1991.5" r="3.45"/><circle cx="461.4" cy="1995.0" r="3.45"/><circle cx="467.0" cy="1999.5" r="3.45"/><circle cx="465.4" cy="2005.9" r="3.45"/><circle cx="481.7" cy="1997.3" r="3.45"/><circle cx="482.8" cy="1998.2" r="3.45"/><circle cx="482.1" cy="1997.7" r="3.45"/><circle cx="485.2" cy="2005.5" r="3.45"/><circle cx="486.4" cy="2002.2" r="3.45"/><circle cx="489.3" cy="1997.3" r="3.45"/><circle cx="492.4" cy="1997.0" r="3.45"/><circle cx="503.5" cy="1997.3" r="3.45"/><circle cx="505.9" cy="2002.8" r="3.45"/><circle cx="518.8" cy="2009.5" r="3.45"/><circle cx="520.8" cy="1999.3" r="3.45"/><circle cx="523.1" cy="2015.1" r="3.45"/><circle cx="527.5" cy="2001.7" r="3.45"/><circle cx="550.0" cy="1998.4" r="3.45"/><circle cx="577.8" cy="1984.4" r="3.45"/><circle cx="577.8" cy="1992.2" r="3.45"/><circle cx="584.5" cy="1981.7" r="3.45"/><circle cx="601.6" cy="1985.9" r="3.45"/><circle cx="601.6" cy="1995.5" r="3.45"/><circle cx="601.6" cy="1996.6" r="3.45"/><circle cx="615.0" cy="1989.9" r="3.45"/><circle cx="610.9" cy="1992.2" r="3.45"/><circle cx="611.6" cy="1997.3" r="3.45"/><circle cx="613.6" cy="1991.0" r="3.45"/><circle cx="627.9" cy="1998.2" r="3.45"/><circle cx="631.6" cy="1999.9" r="3.45"/><circle cx="632.1" cy="2002.2" r="3.45"/><circle cx="635.9" cy="1999.9" r="3.45"/><circle cx="640.5" cy="1999.9" r="3.45"/><circle cx="641.7" cy="1999.5" r="3.45"/><circle cx="651.7" cy="1987.7" r="3.45"/><circle cx="653.0" cy="1999.5" r="3.45"/><circle cx="659.2" cy="2001.7" r="3.45"/><circle cx="660.6" cy="2000.4" r="3.45"/><circle cx="663.2" cy="1989.5" r="3.45"/><circle cx="663.0" cy="1997.3" r="3.45"/><circle cx="665.5" cy="1997.7" r="3.45"/><circle cx="674.1" cy="2002.2" r="3.45"/><circle cx="681.9" cy="1996.6" r="3.45"/><circle cx="680.4" cy="2002.6" r="3.45"/><circle cx="692.6" cy="1996.2" r="3.45"/><circle cx="694.6" cy="1995.0" r="3.45"/><circle cx="695.5" cy="1997.7" r="3.45"/><circle cx="696.2" cy="1999.9" r="3.45"/><circle cx="700.6" cy="1995.5" r="3.45"/><circle cx="699.7" cy="2001.7" r="3.45"/><circle cx="705.5" cy="2013.3" r="3.45"/><circle cx="708.4" cy="2012.6" r="3.45"/><circle cx="716.6" cy="1997.0" r="3.45"/><circle cx="725.7" cy="2009.5" r="3.45"/><circle cx="733.5" cy="2001.7" r="3.45"/><circle cx="729.8" cy="2003.7" r="3.45"/><circle cx="730.6" cy="2007.7" r="3.45"/><circle cx="731.3" cy="2015.1" r="3.45"/><circle cx="739.8" cy="2014.0" r="3.45"/><circle cx="749.8" cy="2002.6" r="3.45"/><circle cx="756.7" cy="2000.4" r="3.45"/><circle cx="763.6" cy="1998.4" r="3.45"/><circle cx="762.9" cy="2004.4" r="3.45"/><circle cx="766.7" cy="2004.4" r="3.45"/><circle cx="765.8" cy="2019.3" r="3.45"/><circle cx="770.5" cy="1999.9" r="3.45"/><circle cx="771.4" cy="2002.2" r="3.45"/><circle cx="774.0" cy="2019.3" r="3.45"/><circle cx="788.5" cy="1991.0" r="3.45"/><circle cx="789.6" cy="2002.2" r="3.45"/><circle cx="795.6" cy="2010.0" r="3.45"/><circle cx="802.1" cy="2002.2" r="3.45"/><circle cx="810.1" cy="2002.8" r="3.45"/><circle cx="825.6" cy="1999.3" r="3.45"/><circle cx="828.3" cy="1998.8" r="3.45"/><circle cx="831.9" cy="2011.1" r="3.45"/><circle cx="838.1" cy="2005.5" r="3.45"/><circle cx="839.0" cy="2008.8" r="3.45"/><circle cx="839.0" cy="2016.0" r="3.45"/><circle cx="873.7" cy="2019.3" r="3.45"/><circle cx="888.4" cy="2009.3" r="3.45"/></g>
</g>
<text transform="translate(66.25,2118.02) scale(1.05,1)" font-size="37.1"><tspan font-size="49.1" dy="7">−</tspan><tspan dx="0.77" dy="-7">0.06</tspan></text>
<text transform="translate(66.25,2064.64) scale(1.05,1)" font-size="37.1"><tspan font-size="49.1" dy="7">−</tspan><tspan dx="0.77" dy="-7">0.03</tspan></text>
<text transform="translate(144.82,2011.25) scale(1.05,1)" font-size="37.1">0</text>
<text transform="translate(96.13,1957.87) scale(1.05,1)" font-size="37.1">0.03</text>
<text transform="translate(96.13,1904.49) scale(1.05,1)" font-size="37.1">0.06</text>
<rect x="180.85" y="2158.00" width="755.85" height="266.91" fill="none" stroke="#000" stroke-width="3.7"/>
<path d="M222.84,2158.00v16.2M222.84,2424.91v-16.2M390.81,2158.00v16.2M390.81,2424.91v-16.2M558.77,2158.00v16.2M558.77,2424.91v-16.2M726.74,2158.00v16.2M726.74,2424.91v-16.2M894.71,2158.00v16.2M894.71,2424.91v-16.2M180.85,2398.22h16.2M936.70,2398.22h-16.2M180.85,2344.84h16.2M936.70,2344.84h-16.2M180.85,2291.45h16.2M936.70,2291.45h-16.2M180.85,2238.07h16.2M936.70,2238.07h-16.2M180.85,2184.69h16.2M936.70,2184.69h-16.2" stroke="#000" stroke-width="3.5" fill="none"/>
<clipPath id="cL7"><rect x="180.85" y="2158.00" width="755.85" height="266.91"/></clipPath>
<g clip-path="url(#cL7)">
<path d="M210.9,2282.4V2389.2M235.6,2275.5V2378.5M242.3,2255.7V2348.4M255.4,2225.4V2318.0M264.5,2181.1V2277.3M267.7,2222.1V2353.6M268.3,2241.7V2330.6M272.3,2202.3V2312.9M278.1,2211.2V2300.2M281.7,2266.6V2369.6M303.3,2204.3V2293.3M313.5,2227.2V2334.0M315.7,2225.4V2326.9M317.3,2263.9V2340.7M313.5,2253.9V2325.1M325.7,2175.6V2265.0M323.5,2223.9V2334.0M324.2,2262.8V2355.6M326.6,2253.9V2329.1M333.3,2211.2V2286.2M332.2,2227.2V2305.5M341.3,2248.8V2330.6M352.4,2273.5V2358.9M355.3,2237.9V2323.3M362.2,2216.5V2291.3M367.3,2248.8V2320.0M367.3,2298.4V2372.9M368.4,2279.0V2364.5M375.3,2262.8V2330.6M379.1,2266.6V2340.7M383.3,2239.9V2318.0M383.3,2252.1V2323.3M386.9,2252.1V2319.5M389.4,2257.7V2332.2M392.2,2239.9V2314.4M394.9,2243.2V2318.0M399.8,2245.0V2326.9M401.4,2296.6V2382.3M410.7,2246.8V2314.4M415.2,2273.9V2366.2M416.5,2284.4V2352.9M419.6,2305.5V2387.4M424.5,2293.3V2368.0M424.5,2334.0V2409.0M428.3,2284.4V2348.4M429.2,2296.6V2360.7M433.9,2261.0V2329.1M435.0,2268.4V2357.3M435.4,2265.0V2331.8M449.6,2300.2V2360.7M449.6,2314.4V2371.4M453.9,2234.3V2295.1M458.1,2231.0V2316.2M461.4,2252.1V2319.5M460.8,2287.7V2355.6M467.0,2255.7V2309.1M465.4,2291.7V2358.9M482.8,2243.2V2307.3M482.1,2257.7V2332.2M481.7,2309.1V2362.5M485.2,2293.3V2368.0M486.4,2305.5V2366.2M489.3,2284.4V2376.9M492.4,2318.4V2410.7M503.5,2302.2V2373.4M505.9,2280.6V2341.3M518.8,2277.3V2340.7M520.8,2304.0V2349.6M523.1,2311.7V2375.1M527.5,2277.3V2340.7M550.0,2286.2V2368.0M577.8,2286.2V2346.2M577.8,2305.5V2376.9M584.5,2282.4V2353.6M601.6,2243.2V2321.7M601.6,2265.0V2346.2M601.6,2300.6V2350.0M610.9,2270.1V2340.7M611.6,2301.7V2362.9M613.6,2282.4V2353.6M615.0,2311.7V2378.5M627.9,2302.2V2398.1M631.6,2237.9V2312.9M632.1,2276.1V2346.2M635.9,2305.5V2380.3M641.7,2245.0V2326.9M640.5,2273.9V2348.4M651.7,2257.7V2332.2M653.0,2275.5V2353.6M659.2,2304.0V2375.1M660.1,2280.6V2348.4M663.0,2289.5V2357.3M663.2,2314.4V2378.5M665.5,2282.4V2385.6M674.1,2296.6V2368.0M680.4,2262.8V2340.7M681.9,2280.6V2348.4M692.6,2271.7V2336.2M696.2,2259.5V2324.0M693.9,2276.1V2352.9M694.6,2325.1V2396.3M699.7,2239.9V2307.3M700.6,2287.7V2376.9M708.4,2243.2V2314.4M705.5,2259.5V2326.9M716.6,2262.8V2348.4M725.7,2266.6V2340.7M733.5,2227.2V2309.5M731.3,2280.6V2358.9M729.8,2296.6V2378.5M730.6,2300.6V2389.2M739.8,2248.8V2316.2M749.8,2250.6V2321.7M756.7,2248.8V2326.9M762.9,2177.6V2262.8M765.8,2193.4V2278.4M763.6,2273.5V2344.7M766.7,2275.5V2342.9M771.4,2213.2V2283.3M770.5,2262.8V2341.8M774.0,2271.7V2332.9M789.6,2227.2V2312.9M788.5,2237.9V2334.0M795.6,2216.5V2298.4M802.1,2231.0V2309.1M810.1,2261.0V2329.1M825.6,2206.1V2309.1M828.3,2193.4V2278.8M831.9,2223.9V2309.1M839.0,2213.2V2291.3M838.1,2231.0V2334.0M839.0,2288.4V2372.9M873.7,2291.3V2373.4M888.4,2257.7V2357.3" stroke="#000" stroke-width="1.4" fill="none"/>
<g fill="#000"><circle cx="210.9" cy="2335.8" r="3.45"/><circle cx="235.6" cy="2326.9" r="3.45"/><circle cx="242.3" cy="2302.2" r="3.45"/><circle cx="255.4" cy="2271.7" r="3.45"/><circle cx="264.5" cy="2229.0" r="3.45"/><circle cx="267.7" cy="2287.3" r="3.45"/><circle cx="268.3" cy="2286.2" r="3.45"/><circle cx="272.3" cy="2257.7" r="3.45"/><circle cx="278.1" cy="2255.7" r="3.45"/><circle cx="281.7" cy="2318.0" r="3.45"/><circle cx="303.3" cy="2248.8" r="3.45"/><circle cx="313.5" cy="2280.6" r="3.45"/><circle cx="315.7" cy="2276.1" r="3.45"/><circle cx="317.3" cy="2302.2" r="3.45"/><circle cx="313.5" cy="2289.5" r="3.45"/><circle cx="325.7" cy="2220.1" r="3.45"/><circle cx="323.5" cy="2278.8" r="3.45"/><circle cx="324.2" cy="2309.1" r="3.45"/><circle cx="326.6" cy="2291.7" r="3.45"/><circle cx="333.3" cy="2248.3" r="3.45"/><circle cx="332.2" cy="2266.1" r="3.45"/><circle cx="341.3" cy="2289.5" r="3.45"/><circle cx="352.4" cy="2316.2" r="3.45"/><circle cx="355.3" cy="2280.6" r="3.45"/><circle cx="362.2" cy="2253.9" r="3.45"/><circle cx="367.3" cy="2284.4" r="3.45"/><circle cx="367.3" cy="2335.8" r="3.45"/><circle cx="368.4" cy="2321.7" r="3.45"/><circle cx="375.3" cy="2296.6" r="3.45"/><circle cx="379.1" cy="2303.3" r="3.45"/><circle cx="383.3" cy="2278.8" r="3.45"/><circle cx="383.3" cy="2287.7" r="3.45"/><circle cx="386.9" cy="2285.5" r="3.45"/><circle cx="389.4" cy="2295.1" r="3.45"/><circle cx="392.2" cy="2277.3" r="3.45"/><circle cx="394.9" cy="2280.6" r="3.45"/><circle cx="399.8" cy="2286.2" r="3.45"/><circle cx="401.4" cy="2339.5" r="3.45"/><circle cx="410.7" cy="2280.6" r="3.45"/><circle cx="415.2" cy="2320.0" r="3.45"/><circle cx="416.5" cy="2318.9" r="3.45"/><circle cx="419.6" cy="2346.7" r="3.45"/><circle cx="424.5" cy="2330.6" r="3.45"/><circle cx="424.5" cy="2371.4" r="3.45"/><circle cx="428.3" cy="2316.2" r="3.45"/><circle cx="429.2" cy="2328.9" r="3.45"/><circle cx="433.9" cy="2295.1" r="3.45"/><circle cx="435.0" cy="2314.4" r="3.45"/><circle cx="435.4" cy="2298.4" r="3.45"/><circle cx="449.6" cy="2330.6" r="3.45"/><circle cx="449.6" cy="2343.3" r="3.45"/><circle cx="453.9" cy="2264.6" r="3.45"/><circle cx="458.1" cy="2273.5" r="3.45"/><circle cx="461.4" cy="2285.7" r="3.45"/><circle cx="460.8" cy="2321.7" r="3.45"/><circle cx="467.0" cy="2282.4" r="3.45"/><circle cx="465.4" cy="2325.5" r="3.45"/><circle cx="482.8" cy="2275.5" r="3.45"/><circle cx="482.1" cy="2295.1" r="3.45"/><circle cx="481.7" cy="2335.8" r="3.45"/><circle cx="485.2" cy="2330.6" r="3.45"/><circle cx="486.4" cy="2335.8" r="3.45"/><circle cx="489.3" cy="2330.6" r="3.45"/><circle cx="492.4" cy="2364.5" r="3.45"/><circle cx="503.5" cy="2337.8" r="3.45"/><circle cx="505.9" cy="2311.1" r="3.45"/><circle cx="518.8" cy="2309.1" r="3.45"/><circle cx="520.8" cy="2326.9" r="3.45"/><circle cx="523.1" cy="2343.3" r="3.45"/><circle cx="527.5" cy="2309.1" r="3.45"/><circle cx="550.0" cy="2326.9" r="3.45"/><circle cx="577.8" cy="2316.2" r="3.45"/><circle cx="577.8" cy="2341.1" r="3.45"/><circle cx="584.5" cy="2318.0" r="3.45"/><circle cx="601.6" cy="2282.4" r="3.45"/><circle cx="601.6" cy="2305.5" r="3.45"/><circle cx="601.6" cy="2325.5" r="3.45"/><circle cx="610.9" cy="2305.5" r="3.45"/><circle cx="611.6" cy="2332.2" r="3.45"/><circle cx="613.6" cy="2318.0" r="3.45"/><circle cx="615.0" cy="2345.1" r="3.45"/><circle cx="627.9" cy="2350.2" r="3.45"/><circle cx="631.6" cy="2275.5" r="3.45"/><circle cx="632.1" cy="2311.1" r="3.45"/><circle cx="635.9" cy="2342.9" r="3.45"/><circle cx="641.7" cy="2285.7" r="3.45"/><circle cx="640.5" cy="2311.1" r="3.45"/><circle cx="651.7" cy="2295.1" r="3.45"/><circle cx="653.0" cy="2314.4" r="3.45"/><circle cx="659.2" cy="2339.5" r="3.45"/><circle cx="660.1" cy="2314.4" r="3.45"/><circle cx="663.0" cy="2323.3" r="3.45"/><circle cx="663.2" cy="2346.7" r="3.45"/><circle cx="665.5" cy="2334.0" r="3.45"/><circle cx="674.1" cy="2332.2" r="3.45"/><circle cx="680.4" cy="2301.7" r="3.45"/><circle cx="681.9" cy="2314.4" r="3.45"/><circle cx="692.6" cy="2304.0" r="3.45"/><circle cx="696.2" cy="2291.7" r="3.45"/><circle cx="693.9" cy="2314.4" r="3.45"/><circle cx="694.6" cy="2360.7" r="3.45"/><circle cx="699.7" cy="2273.2" r="3.45"/><circle cx="700.6" cy="2332.4" r="3.45"/><circle cx="708.4" cy="2278.8" r="3.45"/><circle cx="705.5" cy="2293.3" r="3.45"/><circle cx="716.6" cy="2305.5" r="3.45"/><circle cx="725.7" cy="2303.3" r="3.45"/><circle cx="733.5" cy="2268.4" r="3.45"/><circle cx="731.3" cy="2320.0" r="3.45"/><circle cx="729.8" cy="2337.8" r="3.45"/><circle cx="730.6" cy="2344.7" r="3.45"/><circle cx="739.8" cy="2282.4" r="3.45"/><circle cx="749.8" cy="2285.7" r="3.45"/><circle cx="756.7" cy="2287.7" r="3.45"/><circle cx="762.9" cy="2220.1" r="3.45"/><circle cx="765.8" cy="2236.1" r="3.45"/><circle cx="763.6" cy="2309.1" r="3.45"/><circle cx="766.7" cy="2309.1" r="3.45"/><circle cx="771.4" cy="2248.3" r="3.45"/><circle cx="770.5" cy="2302.2" r="3.45"/><circle cx="774.0" cy="2302.2" r="3.45"/><circle cx="789.6" cy="2270.1" r="3.45"/><circle cx="788.5" cy="2285.7" r="3.45"/><circle cx="795.6" cy="2257.7" r="3.45"/><circle cx="802.1" cy="2269.9" r="3.45"/><circle cx="810.1" cy="2295.1" r="3.45"/><circle cx="825.6" cy="2257.7" r="3.45"/><circle cx="828.3" cy="2236.1" r="3.45"/><circle cx="831.9" cy="2266.6" r="3.45"/><circle cx="839.0" cy="2252.1" r="3.45"/><circle cx="838.1" cy="2282.8" r="3.45"/><circle cx="839.0" cy="2330.6" r="3.45"/><circle cx="873.7" cy="2332.2" r="3.45"/><circle cx="888.4" cy="2307.7" r="3.45"/></g>
<g fill="#f00"><circle cx="210.9" cy="2304.0" r="3.45"/><circle cx="235.6" cy="2292.4" r="3.45"/><circle cx="242.3" cy="2293.5" r="3.45"/><circle cx="255.4" cy="2289.9" r="3.45"/><circle cx="264.5" cy="2289.5" r="3.45"/><circle cx="267.7" cy="2286.2" r="3.45"/><circle cx="268.3" cy="2285.0" r="3.45"/><circle cx="272.3" cy="2291.3" r="3.45"/><circle cx="278.1" cy="2283.3" r="3.45"/><circle cx="281.7" cy="2283.3" r="3.45"/><circle cx="303.3" cy="2287.7" r="3.45"/><circle cx="315.7" cy="2270.1" r="3.45"/><circle cx="313.5" cy="2285.7" r="3.45"/><circle cx="317.3" cy="2289.9" r="3.45"/><circle cx="313.5" cy="2292.2" r="3.45"/><circle cx="325.7" cy="2267.2" r="3.45"/><circle cx="326.6" cy="2291.7" r="3.45"/><circle cx="323.5" cy="2295.7" r="3.45"/><circle cx="324.6" cy="2295.1" r="3.45"/><circle cx="332.2" cy="2291.7" r="3.45"/><circle cx="333.3" cy="2298.4" r="3.45"/><circle cx="341.3" cy="2299.1" r="3.45"/><circle cx="352.4" cy="2298.4" r="3.45"/><circle cx="355.3" cy="2296.6" r="3.45"/><circle cx="362.2" cy="2277.9" r="3.45"/><circle cx="367.3" cy="2292.2" r="3.45"/><circle cx="368.4" cy="2297.3" r="3.45"/><circle cx="367.3" cy="2307.3" r="3.45"/><circle cx="375.3" cy="2283.9" r="3.45"/><circle cx="379.1" cy="2300.2" r="3.45"/><circle cx="383.3" cy="2305.5" r="3.45"/><circle cx="383.3" cy="2307.3" r="3.45"/><circle cx="386.9" cy="2301.7" r="3.45"/><circle cx="389.4" cy="2302.8" r="3.45"/><circle cx="392.2" cy="2302.2" r="3.45"/><circle cx="394.9" cy="2295.1" r="3.45"/><circle cx="399.8" cy="2301.7" r="3.45"/><circle cx="401.4" cy="2306.2" r="3.45"/><circle cx="410.7" cy="2296.6" r="3.45"/><circle cx="415.2" cy="2302.8" r="3.45"/><circle cx="416.5" cy="2304.0" r="3.45"/><circle cx="419.6" cy="2305.5" r="3.45"/><circle cx="424.5" cy="2305.1" r="3.45"/><circle cx="424.5" cy="2309.5" r="3.45"/><circle cx="428.3" cy="2299.1" r="3.45"/><circle cx="429.2" cy="2308.4" r="3.45"/><circle cx="435.4" cy="2298.4" r="3.45"/><circle cx="435.0" cy="2302.4" r="3.45"/><circle cx="433.9" cy="2307.3" r="3.45"/><circle cx="449.6" cy="2310.0" r="3.45"/><circle cx="449.6" cy="2310.4" r="3.45"/><circle cx="453.9" cy="2288.8" r="3.45"/><circle cx="458.1" cy="2308.4" r="3.45"/><circle cx="461.4" cy="2305.5" r="3.45"/><circle cx="460.8" cy="2307.3" r="3.45"/><circle cx="467.0" cy="2289.0" r="3.45"/><circle cx="465.4" cy="2300.2" r="3.45"/><circle cx="481.7" cy="2308.0" r="3.45"/><circle cx="482.8" cy="2307.3" r="3.45"/><circle cx="482.1" cy="2308.2" r="3.45"/><circle cx="485.2" cy="2309.1" r="3.45"/><circle cx="486.4" cy="2309.5" r="3.45"/><circle cx="489.3" cy="2311.7" r="3.45"/><circle cx="492.4" cy="2305.5" r="3.45"/><circle cx="503.5" cy="2309.5" r="3.45"/><circle cx="505.9" cy="2309.1" r="3.45"/><circle cx="518.8" cy="2306.2" r="3.45"/><circle cx="520.8" cy="2310.0" r="3.45"/><circle cx="523.1" cy="2303.5" r="3.45"/><circle cx="527.5" cy="2301.1" r="3.45"/><circle cx="550.0" cy="2296.2" r="3.45"/><circle cx="577.8" cy="2301.3" r="3.45"/><circle cx="577.8" cy="2307.3" r="3.45"/><circle cx="584.5" cy="2308.4" r="3.45"/><circle cx="601.6" cy="2308.0" r="3.45"/><circle cx="601.6" cy="2310.0" r="3.45"/><circle cx="601.6" cy="2309.1" r="3.45"/><circle cx="610.9" cy="2308.0" r="3.45"/><circle cx="613.6" cy="2308.4" r="3.45"/><circle cx="615.0" cy="2309.5" r="3.45"/><circle cx="611.6" cy="2308.6" r="3.45"/><circle cx="627.9" cy="2308.4" r="3.45"/><circle cx="631.6" cy="2306.2" r="3.45"/><circle cx="632.1" cy="2307.3" r="3.45"/><circle cx="635.9" cy="2305.5" r="3.45"/><circle cx="640.5" cy="2309.5" r="3.45"/><circle cx="641.7" cy="2308.8" r="3.45"/><circle cx="651.7" cy="2297.7" r="3.45"/><circle cx="653.0" cy="2307.7" r="3.45"/><circle cx="659.2" cy="2308.0" r="3.45"/><circle cx="660.6" cy="2309.1" r="3.45"/><circle cx="663.2" cy="2300.2" r="3.45"/><circle cx="663.0" cy="2309.1" r="3.45"/><circle cx="665.5" cy="2310.2" r="3.45"/><circle cx="674.1" cy="2309.1" r="3.45"/><circle cx="680.4" cy="2297.9" r="3.45"/><circle cx="681.9" cy="2304.6" r="3.45"/><circle cx="694.6" cy="2296.6" r="3.45"/><circle cx="692.6" cy="2305.1" r="3.45"/><circle cx="695.5" cy="2306.2" r="3.45"/><circle cx="696.2" cy="2308.4" r="3.45"/><circle cx="699.7" cy="2303.3" r="3.45"/><circle cx="700.6" cy="2309.5" r="3.45"/><circle cx="705.5" cy="2295.7" r="3.45"/><circle cx="708.4" cy="2296.6" r="3.45"/><circle cx="716.6" cy="2304.4" r="3.45"/><circle cx="725.7" cy="2306.2" r="3.45"/><circle cx="730.6" cy="2297.7" r="3.45"/><circle cx="733.5" cy="2300.2" r="3.45"/><circle cx="729.8" cy="2306.8" r="3.45"/><circle cx="731.3" cy="2307.7" r="3.45"/><circle cx="739.8" cy="2292.8" r="3.45"/><circle cx="749.8" cy="2297.9" r="3.45"/><circle cx="756.7" cy="2279.0" r="3.45"/><circle cx="762.9" cy="2271.7" r="3.45"/><circle cx="763.6" cy="2289.9" r="3.45"/><circle cx="765.8" cy="2295.7" r="3.45"/><circle cx="766.7" cy="2296.2" r="3.45"/><circle cx="771.4" cy="2269.9" r="3.45"/><circle cx="770.5" cy="2295.7" r="3.45"/><circle cx="774.0" cy="2297.3" r="3.45"/><circle cx="789.6" cy="2279.9" r="3.45"/><circle cx="788.5" cy="2295.1" r="3.45"/><circle cx="795.6" cy="2285.0" r="3.45"/><circle cx="802.1" cy="2288.8" r="3.45"/><circle cx="810.1" cy="2290.2" r="3.45"/><circle cx="825.6" cy="2291.7" r="3.45"/><circle cx="828.3" cy="2289.5" r="3.45"/><circle cx="831.9" cy="2283.9" r="3.45"/><circle cx="838.1" cy="2282.4" r="3.45"/><circle cx="839.0" cy="2287.3" r="3.45"/><circle cx="839.0" cy="2288.4" r="3.45"/><circle cx="873.7" cy="2299.5" r="3.45"/><circle cx="888.4" cy="2295.1" r="3.45"/></g>
</g>
<text transform="translate(66.25,2411.67) scale(1.05,1)" font-size="37.1"><tspan font-size="49.1" dy="7">−</tspan><tspan dx="0.77" dy="-7">0.06</tspan></text>
<text transform="translate(66.25,2358.29) scale(1.05,1)" font-size="37.1"><tspan font-size="49.1" dy="7">−</tspan><tspan dx="0.77" dy="-7">0.03</tspan></text>
<text transform="translate(144.82,2304.90) scale(1.05,1)" font-size="37.1">0</text>
<text transform="translate(96.13,2251.52) scale(1.05,1)" font-size="37.1">0.03</text>
<text transform="translate(96.13,2198.14) scale(1.05,1)" font-size="37.1">0.06</text>
<rect x="1031.00" y="102.45" width="756.10" height="266.91" fill="none" stroke="#000" stroke-width="3.7"/>
<path d="M1065.37,102.45v16.2M1065.37,369.36v-16.2M1237.21,102.45v16.2M1237.21,369.36v-16.2M1409.05,102.45v16.2M1409.05,369.36v-16.2M1580.89,102.45v16.2M1580.89,369.36v-16.2M1752.73,102.45v16.2M1752.73,369.36v-16.2M1031.00,351.95h16.2M1787.10,351.95h-16.2M1031.00,293.93h16.2M1787.10,293.93h-16.2M1031.00,235.91h16.2M1787.10,235.91h-16.2M1031.00,177.88h16.2M1787.10,177.88h-16.2M1031.00,119.86h16.2M1787.10,119.86h-16.2" stroke="#000" stroke-width="3.5" fill="none"/>
<clipPath id="cR0"><rect x="1031.0" y="102.45" width="756.10" height="266.91"/></clipPath>
<g clip-path="url(#cR0)">
<path d="M1145.7,274.6V294.0M1194.9,319.8V336.5M1251.8,279.1V297.6M1266.1,330.9V345.8M1303.9,288.0V306.5M1308.8,324.7V340.3M1334.8,288.0V304.2M1338.6,322.5V336.9M1350.4,246.8V265.7M1356.6,292.4V307.4M1358.6,219.0V239.1M1360.8,273.5V289.1M1361.5,265.7V283.5M1357.0,322.5V338.1M1361.5,324.7V340.3M1358.8,328.0V345.8M1369.3,240.8V259.1M1381.1,252.4V269.8M1388.6,249.1V265.7M1426.0,210.1V226.1M1433.6,205.7V222.4M1443.4,164.5V176.8M1443.4,245.1V257.3M1445.2,214.6V231.3M1455.8,136.7V153.4M1460.1,131.1V148.9M1457.8,165.2V181.2M1457.2,176.8V193.4M1455.8,192.3V208.6M1464.3,207.9V225.7M1475.6,136.7V150.1M1479.9,169.6V185.2M1505.9,131.8V147.2M1510.8,167.2V185.0M1548.6,127.8V142.7M1562.4,175.2V193.9M1619.6,134.9V150.1M1668.7,177.4V196.8" stroke="#000" stroke-width="1.4" fill="none"/>
<g fill="#000"><circle cx="1145.7" cy="284.7" r="3.45"/><circle cx="1194.9" cy="328.0" r="3.45"/><circle cx="1251.8" cy="288.7" r="3.45"/><circle cx="1266.1" cy="338.5" r="3.45"/><circle cx="1303.9" cy="296.9" r="3.45"/><circle cx="1308.8" cy="332.5" r="3.45"/><circle cx="1334.8" cy="296.5" r="3.45"/><circle cx="1338.6" cy="329.6" r="3.45"/><circle cx="1350.4" cy="256.9" r="3.45"/><circle cx="1356.6" cy="299.8" r="3.45"/><circle cx="1358.6" cy="229.0" r="3.45"/><circle cx="1360.8" cy="282.0" r="3.45"/><circle cx="1361.5" cy="274.6" r="3.45"/><circle cx="1357.0" cy="330.3" r="3.45"/><circle cx="1361.5" cy="332.5" r="3.45"/><circle cx="1358.8" cy="336.9" r="3.45"/><circle cx="1369.3" cy="249.1" r="3.45"/><circle cx="1381.1" cy="261.3" r="3.45"/><circle cx="1388.6" cy="257.3" r="3.45"/><circle cx="1426.0" cy="217.9" r="3.45"/><circle cx="1433.6" cy="214.1" r="3.45"/><circle cx="1443.4" cy="170.5" r="3.45"/><circle cx="1443.4" cy="251.3" r="3.45"/><circle cx="1445.2" cy="223.0" r="3.45"/><circle cx="1455.8" cy="145.2" r="3.45"/><circle cx="1460.1" cy="140.0" r="3.45"/><circle cx="1457.8" cy="173.0" r="3.45"/><circle cx="1457.2" cy="185.0" r="3.45"/><circle cx="1455.8" cy="200.6" r="3.45"/><circle cx="1464.3" cy="216.8" r="3.45"/><circle cx="1475.6" cy="142.9" r="3.45"/><circle cx="1479.9" cy="177.4" r="3.45"/><circle cx="1505.9" cy="139.6" r="3.45"/><circle cx="1510.8" cy="176.1" r="3.45"/><circle cx="1548.6" cy="135.2" r="3.45"/><circle cx="1562.4" cy="184.1" r="3.45"/><circle cx="1619.6" cy="142.7" r="3.45"/><circle cx="1668.7" cy="186.8" r="3.45"/></g>
<g fill="#f00"><circle cx="1145.7" cy="284.7" r="3.45"/><circle cx="1194.9" cy="325.4" r="3.45"/><circle cx="1251.8" cy="290.2" r="3.45"/><circle cx="1266.1" cy="338.5" r="3.45"/><circle cx="1303.9" cy="296.5" r="3.45"/><circle cx="1308.8" cy="332.5" r="3.45"/><circle cx="1334.8" cy="296.5" r="3.45"/><circle cx="1338.6" cy="329.6" r="3.45"/><circle cx="1350.4" cy="256.9" r="3.45"/><circle cx="1356.6" cy="299.8" r="3.45"/><circle cx="1358.6" cy="229.0" r="3.45"/><circle cx="1360.8" cy="270.9" r="3.45"/><circle cx="1361.9" cy="275.8" r="3.45"/><circle cx="1358.8" cy="324.7" r="3.45"/><circle cx="1357.0" cy="328.0" r="3.45"/><circle cx="1361.1" cy="330.3" r="3.45"/><circle cx="1369.3" cy="249.1" r="3.45"/><circle cx="1381.1" cy="258.0" r="3.45"/><circle cx="1388.6" cy="255.3" r="3.45"/><circle cx="1426.0" cy="216.8" r="3.45"/><circle cx="1433.6" cy="214.1" r="3.45"/><circle cx="1443.4" cy="161.2" r="3.45"/><circle cx="1443.4" cy="233.0" r="3.45"/><circle cx="1445.2" cy="223.0" r="3.45"/><circle cx="1455.8" cy="140.7" r="3.45"/><circle cx="1460.1" cy="136.3" r="3.45"/><circle cx="1457.8" cy="173.0" r="3.45"/><circle cx="1457.2" cy="185.0" r="3.45"/><circle cx="1455.8" cy="190.8" r="3.45"/><circle cx="1464.3" cy="215.2" r="3.45"/><circle cx="1475.6" cy="142.9" r="3.45"/><circle cx="1479.9" cy="175.2" r="3.45"/><circle cx="1505.9" cy="139.6" r="3.45"/><circle cx="1510.8" cy="176.1" r="3.45"/><circle cx="1548.6" cy="133.8" r="3.45"/><circle cx="1562.4" cy="181.9" r="3.45"/><circle cx="1619.6" cy="146.7" r="3.45"/><circle cx="1668.7" cy="186.8" r="3.45"/></g>
</g>
<text transform="translate(1803.59,365.40) scale(1.05,1)" font-size="37.1"><tspan font-size="49.1" dy="7">−</tspan><tspan dx="0.77" dy="-7">100</tspan></text>
<text transform="translate(1803.59,307.38) scale(1.05,1)" font-size="37.1"><tspan font-size="49.1" dy="7">−</tspan><tspan dx="0.77" dy="-7">50</tspan></text>
<text transform="translate(1802.90,249.36) scale(1.05,1)" font-size="37.1">0</text>
<text transform="translate(1802.90,191.33) scale(1.05,1)" font-size="37.1">50</text>
<text transform="translate(1802.90,133.31) scale(1.05,1)" font-size="37.1">100</text>
<rect x="1031.00" y="396.10" width="756.10" height="266.91" fill="none" stroke="#000" stroke-width="3.7"/>
<path d="M1065.37,396.10v16.2M1065.37,663.01v-16.2M1237.21,396.10v16.2M1237.21,663.01v-16.2M1409.05,396.10v16.2M1409.05,663.01v-16.2M1580.89,396.10v16.2M1580.89,663.01v-16.2M1752.73,396.10v16.2M1752.73,663.01v-16.2M1031.00,632.21h16.2M1787.10,632.21h-16.2M1031.00,580.88h16.2M1787.10,580.88h-16.2M1031.00,529.55h16.2M1787.10,529.55h-16.2M1031.00,478.23h16.2M1787.10,478.23h-16.2M1031.00,426.90h16.2M1787.10,426.90h-16.2" stroke="#000" stroke-width="3.5" fill="none"/>
<clipPath id="cR1"><rect x="1031.0" y="396.10" width="756.10" height="266.91"/></clipPath>
<g clip-path="url(#cR1)">
<path d="M1145.7,563.8V602.0M1194.9,589.8V635.4M1251.8,548.2V586.9M1266.1,540.2V574.7M1303.9,561.5V605.8M1308.8,558.0V596.9M1334.8,522.4V559.7M1338.6,558.0V590.9M1350.4,564.2V610.3M1358.6,476.3V526.4M1360.8,509.7V554.2M1358.8,523.0V569.8M1357.5,545.3V590.9M1358.6,491.9V539.7M1361.9,491.2V542.0M1356.6,538.6V583.1M1369.3,566.9V613.8M1381.1,526.4V571.3M1388.6,539.1V584.2M1426.0,536.4V581.3M1433.6,529.0V573.5M1443.4,505.2V534.2M1443.4,521.9V544.8M1445.2,566.9V612.7M1455.8,495.2V538.6M1457.8,495.2V547.5M1457.2,547.5V583.1M1460.1,542.0V587.6M1455.8,518.6V563.1M1464.3,564.6V610.9M1475.6,555.3V585.8M1479.9,520.8V558.0M1505.9,559.7V598.0M1510.8,561.5V604.9M1548.6,540.2V574.2M1562.4,548.2V587.6M1619.6,587.1V631.4M1668.7,563.8V602.0" stroke="#000" stroke-width="1.4" fill="none"/>
<g fill="#000"><circle cx="1145.7" cy="582.4" r="3.45"/><circle cx="1194.9" cy="613.1" r="3.45"/><circle cx="1251.8" cy="567.5" r="3.45"/><circle cx="1266.1" cy="557.5" r="3.45"/><circle cx="1303.9" cy="583.6" r="3.45"/><circle cx="1308.8" cy="577.5" r="3.45"/><circle cx="1334.8" cy="540.8" r="3.45"/><circle cx="1338.6" cy="574.2" r="3.45"/><circle cx="1350.4" cy="587.1" r="3.45"/><circle cx="1358.6" cy="501.2" r="3.45"/><circle cx="1360.8" cy="531.9" r="3.45"/><circle cx="1358.8" cy="546.0" r="3.45"/><circle cx="1357.5" cy="568.2" r="3.45"/><circle cx="1358.6" cy="515.9" r="3.45"/><circle cx="1361.9" cy="516.4" r="3.45"/><circle cx="1356.6" cy="560.9" r="3.45"/><circle cx="1369.3" cy="590.2" r="3.45"/><circle cx="1381.1" cy="549.1" r="3.45"/><circle cx="1388.6" cy="561.5" r="3.45"/><circle cx="1426.0" cy="559.1" r="3.45"/><circle cx="1433.6" cy="551.3" r="3.45"/><circle cx="1443.4" cy="519.7" r="3.45"/><circle cx="1443.4" cy="533.5" r="3.45"/><circle cx="1445.2" cy="589.8" r="3.45"/><circle cx="1455.8" cy="516.4" r="3.45"/><circle cx="1457.8" cy="521.3" r="3.45"/><circle cx="1457.2" cy="565.3" r="3.45"/><circle cx="1460.1" cy="564.9" r="3.45"/><circle cx="1455.8" cy="540.8" r="3.45"/><circle cx="1464.3" cy="587.6" r="3.45"/><circle cx="1475.6" cy="570.4" r="3.45"/><circle cx="1479.9" cy="539.3" r="3.45"/><circle cx="1505.9" cy="578.7" r="3.45"/><circle cx="1510.8" cy="583.6" r="3.45"/><circle cx="1548.6" cy="557.1" r="3.45"/><circle cx="1562.4" cy="568.0" r="3.45"/><circle cx="1619.6" cy="609.1" r="3.45"/><circle cx="1668.7" cy="582.4" r="3.45"/></g>
<g fill="#f00"><circle cx="1145.7" cy="563.8" r="3.45"/><circle cx="1194.9" cy="596.9" r="3.45"/><circle cx="1251.8" cy="565.8" r="3.45"/><circle cx="1266.1" cy="552.6" r="3.45"/><circle cx="1303.9" cy="566.0" r="3.45"/><circle cx="1308.8" cy="572.0" r="3.45"/><circle cx="1334.8" cy="540.8" r="3.45"/><circle cx="1338.6" cy="570.2" r="3.45"/><circle cx="1350.4" cy="576.4" r="3.45"/><circle cx="1358.6" cy="515.3" r="3.45"/><circle cx="1361.9" cy="515.9" r="3.45"/><circle cx="1360.8" cy="527.5" r="3.45"/><circle cx="1358.8" cy="542.0" r="3.45"/><circle cx="1356.6" cy="560.4" r="3.45"/><circle cx="1357.5" cy="563.5" r="3.45"/><circle cx="1358.2" cy="563.1" r="3.45"/><circle cx="1369.3" cy="575.8" r="3.45"/><circle cx="1381.1" cy="543.7" r="3.45"/><circle cx="1388.6" cy="553.5" r="3.45"/><circle cx="1426.0" cy="552.6" r="3.45"/><circle cx="1433.6" cy="543.7" r="3.45"/><circle cx="1443.4" cy="517.0" r="3.45"/><circle cx="1443.4" cy="527.5" r="3.45"/><circle cx="1445.2" cy="575.3" r="3.45"/><circle cx="1455.8" cy="520.4" r="3.45"/><circle cx="1457.2" cy="523.7" r="3.45"/><circle cx="1455.8" cy="539.7" r="3.45"/><circle cx="1457.8" cy="560.9" r="3.45"/><circle cx="1460.1" cy="562.6" r="3.45"/><circle cx="1464.3" cy="576.4" r="3.45"/><circle cx="1475.6" cy="570.4" r="3.45"/><circle cx="1479.9" cy="540.4" r="3.45"/><circle cx="1505.9" cy="572.0" r="3.45"/><circle cx="1510.8" cy="566.0" r="3.45"/><circle cx="1548.6" cy="552.6" r="3.45"/><circle cx="1562.4" cy="565.8" r="3.45"/><circle cx="1619.6" cy="596.9" r="3.45"/><circle cx="1668.7" cy="563.8" r="3.45"/></g>
</g>
<text transform="translate(1802.90,645.66) scale(1.05,1)" font-size="37.1">225</text>
<text transform="translate(1802.90,594.33) scale(1.05,1)" font-size="37.1">250</text>
<text transform="translate(1802.90,543.00) scale(1.05,1)" font-size="37.1">275</text>
<text transform="translate(1802.90,491.68) scale(1.05,1)" font-size="37.1">300</text>
<text transform="translate(1802.90,440.35) scale(1.05,1)" font-size="37.1">325</text>
<rect x="1031.00" y="689.75" width="756.10" height="266.91" fill="none" stroke="#000" stroke-width="3.7"/>
<path d="M1065.37,689.75v16.2M1065.37,956.66v-16.2M1237.21,689.75v16.2M1237.21,956.66v-16.2M1409.05,689.75v16.2M1409.05,956.66v-16.2M1580.89,689.75v16.2M1580.89,956.66v-16.2M1752.73,689.75v16.2M1752.73,956.66v-16.2M1031.00,912.18h16.2M1787.10,912.18h-16.2M1031.00,867.69h16.2M1787.10,867.69h-16.2M1031.00,823.21h16.2M1787.10,823.21h-16.2M1031.00,778.72h16.2M1787.10,778.72h-16.2M1031.00,734.24h16.2M1787.10,734.24h-16.2" stroke="#000" stroke-width="3.5" fill="none"/>
<clipPath id="cR2"><rect x="1031.0" y="689.75" width="756.10" height="266.91"/></clipPath>
<g clip-path="url(#cR2)">
<path d="M1145.7,729.8V803.0M1194.9,754.1V816.4M1251.8,774.3V831.5M1266.1,763.6V806.6M1303.9,811.9V865.3M1308.8,740.7V791.9M1334.8,755.4V800.4M1338.6,764.8V807.0M1350.4,756.5V815.3M1356.6,780.3V809.3M1361.5,773.7V815.9M1360.8,777.0V827.1M1357.0,781.4V828.2M1358.2,781.4V843.7M1358.8,797.0V850.0M1361.1,777.0V821.5M1369.3,800.4V858.9M1381.1,816.4V869.8M1388.6,785.9V835.5M1426.0,806.4V856.0M1433.6,778.8V832.2M1443.4,797.0V830.4M1443.4,819.3V853.7M1445.2,790.3V847.1M1455.8,806.4V854.4M1455.8,837.1V877.6M1457.8,814.8V866.0M1457.2,825.9V882.7M1460.1,811.0V876.7M1464.3,828.6V887.6M1475.6,834.8V876.0M1479.9,845.5V888.2M1505.9,859.8V907.8M1510.8,784.1V835.5M1548.6,837.5V880.4M1562.4,817.0V872.2M1619.6,832.2V892.7M1668.7,843.7V913.2" stroke="#000" stroke-width="1.4" fill="none"/>
<g fill="#000"><circle cx="1145.7" cy="766.3" r="3.45"/><circle cx="1194.9" cy="785.2" r="3.45"/><circle cx="1251.8" cy="803.0" r="3.45"/><circle cx="1266.1" cy="785.2" r="3.45"/><circle cx="1303.9" cy="838.6" r="3.45"/><circle cx="1308.8" cy="766.3" r="3.45"/><circle cx="1334.8" cy="778.1" r="3.45"/><circle cx="1338.6" cy="785.9" r="3.45"/><circle cx="1350.4" cy="785.9" r="3.45"/><circle cx="1356.6" cy="794.8" r="3.45"/><circle cx="1361.5" cy="794.8" r="3.45"/><circle cx="1360.8" cy="802.6" r="3.45"/><circle cx="1357.0" cy="804.8" r="3.45"/><circle cx="1358.2" cy="813.0" r="3.45"/><circle cx="1358.8" cy="823.7" r="3.45"/><circle cx="1361.1" cy="799.2" r="3.45"/><circle cx="1369.3" cy="829.7" r="3.45"/><circle cx="1381.1" cy="843.1" r="3.45"/><circle cx="1388.6" cy="810.8" r="3.45"/><circle cx="1426.0" cy="831.1" r="3.45"/><circle cx="1433.6" cy="805.2" r="3.45"/><circle cx="1443.4" cy="813.7" r="3.45"/><circle cx="1443.4" cy="836.4" r="3.45"/><circle cx="1445.2" cy="818.6" r="3.45"/><circle cx="1455.8" cy="830.4" r="3.45"/><circle cx="1455.8" cy="857.1" r="3.45"/><circle cx="1457.8" cy="840.0" r="3.45"/><circle cx="1457.2" cy="853.7" r="3.45"/><circle cx="1460.1" cy="841.5" r="3.45"/><circle cx="1464.3" cy="858.2" r="3.45"/><circle cx="1475.6" cy="855.3" r="3.45"/><circle cx="1479.9" cy="866.7" r="3.45"/><circle cx="1505.9" cy="883.8" r="3.45"/><circle cx="1510.8" cy="809.9" r="3.45"/><circle cx="1548.6" cy="858.9" r="3.45"/><circle cx="1562.4" cy="844.9" r="3.45"/><circle cx="1619.6" cy="862.2" r="3.45"/><circle cx="1668.7" cy="878.7" r="3.45"/></g>
<g fill="#f00"><circle cx="1145.7" cy="778.6" r="3.45"/><circle cx="1194.9" cy="779.7" r="3.45"/><circle cx="1251.8" cy="785.9" r="3.45"/><circle cx="1266.1" cy="791.7" r="3.45"/><circle cx="1303.9" cy="825.9" r="3.45"/><circle cx="1308.8" cy="769.9" r="3.45"/><circle cx="1334.8" cy="778.8" r="3.45"/><circle cx="1338.6" cy="789.7" r="3.45"/><circle cx="1350.4" cy="801.0" r="3.45"/><circle cx="1356.6" cy="793.7" r="3.45"/><circle cx="1361.9" cy="798.1" r="3.45"/><circle cx="1360.8" cy="800.4" r="3.45"/><circle cx="1358.2" cy="803.7" r="3.45"/><circle cx="1358.8" cy="823.0" r="3.45"/><circle cx="1359.9" cy="797.0" r="3.45"/><circle cx="1359.3" cy="802.6" r="3.45"/><circle cx="1369.3" cy="824.2" r="3.45"/><circle cx="1381.1" cy="834.8" r="3.45"/><circle cx="1388.6" cy="813.7" r="3.45"/><circle cx="1426.0" cy="833.1" r="3.45"/><circle cx="1433.6" cy="811.9" r="3.45"/><circle cx="1443.4" cy="827.7" r="3.45"/><circle cx="1443.4" cy="849.3" r="3.45"/><circle cx="1445.2" cy="822.2" r="3.45"/><circle cx="1455.8" cy="844.9" r="3.45"/><circle cx="1460.1" cy="841.1" r="3.45"/><circle cx="1457.8" cy="846.0" r="3.45"/><circle cx="1455.8" cy="854.9" r="3.45"/><circle cx="1457.8" cy="852.6" r="3.45"/><circle cx="1464.3" cy="846.0" r="3.45"/><circle cx="1475.6" cy="857.5" r="3.45"/><circle cx="1479.9" cy="867.5" r="3.45"/><circle cx="1505.9" cy="876.7" r="3.45"/><circle cx="1510.8" cy="821.0" r="3.45"/><circle cx="1548.6" cy="854.9" r="3.45"/><circle cx="1562.4" cy="860.4" r="3.45"/><circle cx="1619.6" cy="866.7" r="3.45"/><circle cx="1668.7" cy="868.2" r="3.45"/></g>
</g>
<text transform="translate(1803.59,925.62) scale(1.05,1)" font-size="37.1"><tspan font-size="49.1" dy="7">−</tspan><tspan dx="0.77" dy="-7">0.10</tspan></text>
<text transform="translate(1803.59,881.14) scale(1.05,1)" font-size="37.1"><tspan font-size="49.1" dy="7">−</tspan><tspan dx="0.77" dy="-7">0.05</tspan></text>
<text transform="translate(1802.90,836.65) scale(1.05,1)" font-size="37.1">0</text>
<text transform="translate(1802.90,792.17) scale(1.05,1)" font-size="37.1">0.05</text>
<text transform="translate(1802.90,747.68) scale(1.05,1)" font-size="37.1">0.10</text>
<rect x="1031.00" y="983.40" width="756.10" height="266.91" fill="none" stroke="#000" stroke-width="3.7"/>
<path d="M1065.37,983.40v16.2M1065.37,1250.31v-16.2M1237.21,983.40v16.2M1237.21,1250.31v-16.2M1409.05,983.40v16.2M1409.05,1250.31v-16.2M1580.89,983.40v16.2M1580.89,1250.31v-16.2M1752.73,983.40v16.2M1752.73,1250.31v-16.2M1031.00,1205.83h16.2M1787.10,1205.83h-16.2M1031.00,1161.34h16.2M1787.10,1161.34h-16.2M1031.00,1116.86h16.2M1787.10,1116.86h-16.2M1031.00,1072.37h16.2M1787.10,1072.37h-16.2M1031.00,1027.88h16.2M1787.10,1027.88h-16.2" stroke="#000" stroke-width="3.5" fill="none"/>
<clipPath id="cR3"><rect x="1031.0" y="983.40" width="756.10" height="266.91"/></clipPath>
<g clip-path="url(#cR3)">
<path d="M1145.7,1092.8V1172.9M1194.9,1018.0V1094.8M1251.8,1067.7V1132.2M1266.1,1073.2V1130.0M1303.9,1014.7V1073.2M1308.8,1043.9V1104.4M1334.8,1049.2V1101.0M1338.6,1041.0V1094.8M1350.4,1032.5V1110.6M1361.5,1041.0V1093.2M1356.6,1053.2V1115.5M1359.3,1049.9V1116.6M1361.9,1055.4V1125.5M1357.0,1075.4V1142.6M1361.1,1093.2V1137.7M1358.8,1071.0V1138.9M1369.3,1031.4V1102.8M1381.1,1020.9V1086.6M1388.6,1018.0V1082.1M1426.0,1018.0V1082.1M1433.6,1014.7V1082.1M1443.4,1061.6V1103.3M1443.4,1075.4V1121.1M1445.2,1037.6V1108.8M1455.8,1054.3V1113.3M1457.8,1046.5V1124.4M1457.2,1055.4V1122.2M1455.8,1077.7V1135.5M1460.1,1084.3V1152.6M1464.3,1034.3V1112.2M1475.6,1050.3V1099.9M1479.9,1049.2V1098.8M1505.9,1038.7V1097.2M1510.8,1013.6V1072.1M1548.6,1073.9V1129.5M1562.4,1065.4V1127.7M1619.6,1024.3V1097.2M1668.7,1090.3V1168.4" stroke="#000" stroke-width="1.4" fill="none"/>
<g fill="#000"><circle cx="1145.7" cy="1133.3" r="3.45"/><circle cx="1194.9" cy="1056.1" r="3.45"/><circle cx="1251.8" cy="1099.9" r="3.45"/><circle cx="1266.1" cy="1102.1" r="3.45"/><circle cx="1303.9" cy="1043.9" r="3.45"/><circle cx="1308.8" cy="1073.9" r="3.45"/><circle cx="1334.8" cy="1075.0" r="3.45"/><circle cx="1338.6" cy="1067.7" r="3.45"/><circle cx="1350.4" cy="1071.4" r="3.45"/><circle cx="1361.5" cy="1067.0" r="3.45"/><circle cx="1356.6" cy="1084.3" r="3.45"/><circle cx="1359.3" cy="1083.2" r="3.45"/><circle cx="1361.9" cy="1090.3" r="3.45"/><circle cx="1357.0" cy="1109.3" r="3.45"/><circle cx="1361.1" cy="1115.5" r="3.45"/><circle cx="1358.8" cy="1104.4" r="3.45"/><circle cx="1369.3" cy="1067.0" r="3.45"/><circle cx="1381.1" cy="1053.6" r="3.45"/><circle cx="1388.6" cy="1049.9" r="3.45"/><circle cx="1426.0" cy="1049.9" r="3.45"/><circle cx="1433.6" cy="1048.1" r="3.45"/><circle cx="1443.4" cy="1082.1" r="3.45"/><circle cx="1443.4" cy="1098.1" r="3.45"/><circle cx="1445.2" cy="1073.2" r="3.45"/><circle cx="1455.8" cy="1083.9" r="3.45"/><circle cx="1457.8" cy="1085.5" r="3.45"/><circle cx="1457.2" cy="1097.7" r="3.45"/><circle cx="1455.8" cy="1106.6" r="3.45"/><circle cx="1460.1" cy="1118.4" r="3.45"/><circle cx="1464.3" cy="1073.2" r="3.45"/><circle cx="1475.6" cy="1075.0" r="3.45"/><circle cx="1479.9" cy="1073.9" r="3.45"/><circle cx="1505.9" cy="1068.1" r="3.45"/><circle cx="1510.8" cy="1042.7" r="3.45"/><circle cx="1548.6" cy="1101.7" r="3.45"/><circle cx="1562.4" cy="1096.6" r="3.45"/><circle cx="1619.6" cy="1060.5" r="3.45"/><circle cx="1668.7" cy="1129.3" r="3.45"/></g>
<g fill="#f00"><circle cx="1145.7" cy="1124.8" r="3.45"/><circle cx="1194.9" cy="1060.3" r="3.45"/><circle cx="1251.8" cy="1103.9" r="3.45"/><circle cx="1266.1" cy="1087.2" r="3.45"/><circle cx="1303.9" cy="1057.2" r="3.45"/><circle cx="1308.8" cy="1065.0" r="3.45"/><circle cx="1334.8" cy="1078.8" r="3.45"/><circle cx="1338.6" cy="1069.4" r="3.45"/><circle cx="1350.4" cy="1093.2" r="3.45"/><circle cx="1356.6" cy="1089.5" r="3.45"/><circle cx="1357.0" cy="1101.7" r="3.45"/><circle cx="1361.9" cy="1102.6" r="3.45"/><circle cx="1359.3" cy="1107.7" r="3.45"/><circle cx="1361.1" cy="1114.4" r="3.45"/><circle cx="1358.8" cy="1103.3" r="3.45"/><circle cx="1360.4" cy="1106.6" r="3.45"/><circle cx="1369.3" cy="1069.2" r="3.45"/><circle cx="1381.1" cy="1058.1" r="3.45"/><circle cx="1388.6" cy="1068.1" r="3.45"/><circle cx="1426.0" cy="1068.1" r="3.45"/><circle cx="1433.6" cy="1057.6" r="3.45"/><circle cx="1443.4" cy="1108.8" r="3.45"/><circle cx="1443.4" cy="1115.5" r="3.45"/><circle cx="1445.2" cy="1069.2" r="3.45"/><circle cx="1457.8" cy="1089.5" r="3.45"/><circle cx="1457.2" cy="1097.0" r="3.45"/><circle cx="1455.8" cy="1103.3" r="3.45"/><circle cx="1460.1" cy="1104.8" r="3.45"/><circle cx="1455.8" cy="1108.8" r="3.45"/><circle cx="1464.3" cy="1093.2" r="3.45"/><circle cx="1475.6" cy="1069.4" r="3.45"/><circle cx="1479.9" cy="1078.8" r="3.45"/><circle cx="1505.9" cy="1065.0" r="3.45"/><circle cx="1510.8" cy="1057.2" r="3.45"/><circle cx="1548.6" cy="1087.2" r="3.45"/><circle cx="1562.4" cy="1103.9" r="3.45"/><circle cx="1619.6" cy="1060.5" r="3.45"/><circle cx="1668.7" cy="1124.8" r="3.45"/></g>
</g>
<text transform="translate(1803.59,1219.28) scale(1.05,1)" font-size="37.1"><tspan font-size="49.1" dy="7">−</tspan><tspan dx="0.77" dy="-7">0.10</tspan></text>
<text transform="translate(1803.59,1174.79) scale(1.05,1)" font-size="37.1"><tspan font-size="49.1" dy="7">−</tspan><tspan dx="0.77" dy="-7">0.05</tspan></text>
<text transform="translate(1802.90,1130.31) scale(1.05,1)" font-size="37.1">0</text>
<text transform="translate(1802.90,1085.82) scale(1.05,1)" font-size="37.1">0.05</text>
<text transform="translate(1802.90,1041.34) scale(1.05,1)" font-size="37.1">0.10</text>
<rect x="1031.00" y="1277.05" width="756.10" height="266.91" fill="none" stroke="#000" stroke-width="3.7"/>
<path d="M1065.37,1277.05v16.2M1065.37,1543.96v-16.2M1237.21,1277.05v16.2M1237.21,1543.96v-16.2M1409.05,1277.05v16.2M1409.05,1543.96v-16.2M1580.89,1277.05v16.2M1580.89,1543.96v-16.2M1752.73,1277.05v16.2M1752.73,1543.96v-16.2M1031.00,1499.48h16.2M1787.10,1499.48h-16.2M1031.00,1454.99h16.2M1787.10,1454.99h-16.2M1031.00,1410.51h16.2M1787.10,1410.51h-16.2M1031.00,1366.02h16.2M1787.10,1366.02h-16.2M1031.00,1321.54h16.2M1787.10,1321.54h-16.2" stroke="#000" stroke-width="3.5" fill="none"/>
<clipPath id="cR4"><rect x="1031.0" y="1277.05" width="756.10" height="266.91"/></clipPath>
<g clip-path="url(#cR4)">
<path d="M1145.7,1379.9V1456.9M1194.9,1359.9V1427.7M1251.8,1390.1V1451.1M1266.1,1381.0V1429.1M1303.9,1314.3V1371.7M1308.8,1400.6V1455.8M1334.8,1395.5V1446.9M1338.6,1393.5V1441.7M1350.4,1380.1V1446.2M1361.1,1341.2V1392.8M1358.8,1363.9V1437.3M1357.0,1371.7V1444.0M1356.6,1389.5V1448.0M1361.9,1399.5V1455.8M1361.1,1416.6V1465.1M1359.3,1387.2V1440.6M1369.3,1385.5V1451.8M1381.1,1360.5V1419.5M1388.6,1377.2V1429.1M1426.0,1393.2V1446.9M1433.6,1398.4V1455.1M1443.4,1391.7V1429.5M1443.4,1395.0V1432.9M1445.2,1367.7V1434.0M1455.8,1369.4V1425.1M1457.8,1376.1V1431.7M1457.2,1432.4V1510.3M1460.1,1385.5V1451.8M1455.8,1380.6V1438.4M1464.3,1375.7V1441.7M1475.6,1384.3V1431.1M1479.9,1371.2V1421.1M1505.9,1360.5V1413.9M1510.8,1449.5V1505.2M1548.6,1395.0V1443.5M1562.4,1370.1V1431.1M1619.6,1391.7V1457.8M1668.7,1366.8V1440.0" stroke="#000" stroke-width="1.4" fill="none"/>
<g fill="#000"><circle cx="1145.7" cy="1418.8" r="3.45"/><circle cx="1194.9" cy="1393.2" r="3.45"/><circle cx="1251.8" cy="1420.6" r="3.45"/><circle cx="1266.1" cy="1405.0" r="3.45"/><circle cx="1303.9" cy="1342.7" r="3.45"/><circle cx="1308.8" cy="1428.4" r="3.45"/><circle cx="1334.8" cy="1421.3" r="3.45"/><circle cx="1338.6" cy="1417.7" r="3.45"/><circle cx="1350.4" cy="1413.3" r="3.45"/><circle cx="1361.1" cy="1366.8" r="3.45"/><circle cx="1358.8" cy="1400.6" r="3.45"/><circle cx="1357.0" cy="1407.7" r="3.45"/><circle cx="1356.6" cy="1418.4" r="3.45"/><circle cx="1361.9" cy="1427.7" r="3.45"/><circle cx="1361.1" cy="1441.1" r="3.45"/><circle cx="1359.3" cy="1413.9" r="3.45"/><circle cx="1369.3" cy="1418.4" r="3.45"/><circle cx="1381.1" cy="1390.1" r="3.45"/><circle cx="1388.6" cy="1403.3" r="3.45"/><circle cx="1426.0" cy="1420.2" r="3.45"/><circle cx="1433.6" cy="1426.6" r="3.45"/><circle cx="1443.4" cy="1410.6" r="3.45"/><circle cx="1443.4" cy="1413.9" r="3.45"/><circle cx="1445.2" cy="1400.6" r="3.45"/><circle cx="1455.8" cy="1397.3" r="3.45"/><circle cx="1457.8" cy="1403.9" r="3.45"/><circle cx="1457.2" cy="1471.3" r="3.45"/><circle cx="1460.1" cy="1418.4" r="3.45"/><circle cx="1455.8" cy="1409.5" r="3.45"/><circle cx="1464.3" cy="1408.8" r="3.45"/><circle cx="1475.6" cy="1407.9" r="3.45"/><circle cx="1479.9" cy="1396.1" r="3.45"/><circle cx="1505.9" cy="1387.2" r="3.45"/><circle cx="1510.8" cy="1477.3" r="3.45"/><circle cx="1548.6" cy="1419.5" r="3.45"/><circle cx="1562.4" cy="1400.6" r="3.45"/><circle cx="1619.6" cy="1424.6" r="3.45"/><circle cx="1668.7" cy="1403.3" r="3.45"/></g>
<g fill="#f00"><circle cx="1145.7" cy="1415.1" r="3.45"/><circle cx="1194.9" cy="1402.8" r="3.45"/><circle cx="1251.8" cy="1404.6" r="3.45"/><circle cx="1266.1" cy="1402.1" r="3.45"/><circle cx="1303.9" cy="1361.2" r="3.45"/><circle cx="1308.8" cy="1428.4" r="3.45"/><circle cx="1334.8" cy="1409.5" r="3.45"/><circle cx="1338.6" cy="1412.8" r="3.45"/><circle cx="1350.4" cy="1416.2" r="3.45"/><circle cx="1357.5" cy="1393.5" r="3.45"/><circle cx="1356.6" cy="1399.9" r="3.45"/><circle cx="1359.3" cy="1401.7" r="3.45"/><circle cx="1361.9" cy="1407.3" r="3.45"/><circle cx="1360.8" cy="1412.2" r="3.45"/><circle cx="1358.2" cy="1416.2" r="3.45"/><circle cx="1361.1" cy="1420.2" r="3.45"/><circle cx="1369.3" cy="1403.9" r="3.45"/><circle cx="1381.1" cy="1396.8" r="3.45"/><circle cx="1388.6" cy="1407.9" r="3.45"/><circle cx="1426.0" cy="1413.3" r="3.45"/><circle cx="1433.6" cy="1424.6" r="3.45"/><circle cx="1443.4" cy="1405.5" r="3.45"/><circle cx="1443.4" cy="1407.3" r="3.45"/><circle cx="1445.2" cy="1417.3" r="3.45"/><circle cx="1455.8" cy="1403.9" r="3.45"/><circle cx="1455.8" cy="1409.0" r="3.45"/><circle cx="1457.2" cy="1422.4" r="3.45"/><circle cx="1460.1" cy="1422.2" r="3.45"/><circle cx="1457.8" cy="1420.6" r="3.45"/><circle cx="1464.3" cy="1405.0" r="3.45"/><circle cx="1475.6" cy="1407.9" r="3.45"/><circle cx="1479.9" cy="1411.7" r="3.45"/><circle cx="1505.9" cy="1393.2" r="3.45"/><circle cx="1510.8" cy="1460.0" r="3.45"/><circle cx="1548.6" cy="1419.5" r="3.45"/><circle cx="1562.4" cy="1416.6" r="3.45"/><circle cx="1619.6" cy="1418.4" r="3.45"/><circle cx="1668.7" cy="1406.2" r="3.45"/></g>
</g>
<text transform="translate(1803.59,1512.93) scale(1.05,1)" font-size="37.1"><tspan font-size="49.1" dy="7">−</tspan><tspan dx="0.77" dy="-7">0.10</tspan></text>
<text transform="translate(1803.59,1468.44) scale(1.05,1)" font-size="37.1"><tspan font-size="49.1" dy="7">−</tspan><tspan dx="0.77" dy="-7">0.05</tspan></text>
<text transform="translate(1802.90,1423.96) scale(1.05,1)" font-size="37.1">0</text>
<text transform="translate(1802.90,1379.47) scale(1.05,1)" font-size="37.1">0.05</text>
<text transform="translate(1802.90,1334.99) scale(1.05,1)" font-size="37.1">0.10</text>
<rect x="1031.00" y="1570.70" width="756.10" height="266.91" fill="none" stroke="#000" stroke-width="3.7"/>
<path d="M1065.37,1570.70v16.2M1065.37,1837.61v-16.2M1237.21,1570.70v16.2M1237.21,1837.61v-16.2M1409.05,1570.70v16.2M1409.05,1837.61v-16.2M1580.89,1570.70v16.2M1580.89,1837.61v-16.2M1752.73,1570.70v16.2M1752.73,1837.61v-16.2M1031.00,1793.13h16.2M1787.10,1793.13h-16.2M1031.00,1748.64h16.2M1787.10,1748.64h-16.2M1031.00,1704.16h16.2M1787.10,1704.16h-16.2M1031.00,1659.67h16.2M1787.10,1659.67h-16.2M1031.00,1615.19h16.2M1787.10,1615.19h-16.2" stroke="#000" stroke-width="3.5" fill="none"/>
<clipPath id="cR5"><rect x="1031.0" y="1570.70" width="756.10" height="266.91"/></clipPath>
<g clip-path="url(#cR5)">
<path d="M1145.7,1570.0V1659.0M1194.9,1678.3V1744.0M1251.8,1608.9V1676.8M1266.1,1624.1V1679.0M1303.9,1643.4V1704.2M1308.8,1626.7V1689.0M1334.8,1640.1V1691.9M1338.6,1648.3V1697.9M1350.4,1635.6V1708.6M1356.6,1594.5V1659.0M1359.3,1592.9V1656.8M1357.0,1616.7V1684.6M1358.8,1623.4V1683.5M1361.5,1631.2V1677.9M1361.1,1635.2V1686.8M1361.9,1643.4V1711.9M1369.3,1635.6V1706.4M1381.1,1657.2V1720.8M1388.6,1645.6V1705.7M1426.0,1641.9V1702.8M1433.6,1662.3V1724.6M1443.4,1627.4V1664.1M1443.4,1631.2V1672.3M1445.2,1630.1V1700.2M1457.8,1596.3V1661.2M1457.2,1605.6V1680.1M1460.1,1611.6V1684.6M1455.8,1626.7V1683.5M1455.8,1639.0V1696.8M1464.3,1637.4V1710.6M1475.6,1642.8V1690.8M1479.9,1637.4V1688.6M1505.9,1634.5V1693.5M1510.8,1646.3V1705.0M1548.6,1624.1V1677.5M1562.4,1611.6V1677.5M1619.6,1674.6V1739.1M1668.7,1574.9V1662.3" stroke="#000" stroke-width="1.4" fill="none"/>
<g fill="#000"><circle cx="1145.7" cy="1614.1" r="3.45"/><circle cx="1194.9" cy="1710.8" r="3.45"/><circle cx="1251.8" cy="1642.8" r="3.45"/><circle cx="1266.1" cy="1651.7" r="3.45"/><circle cx="1303.9" cy="1673.9" r="3.45"/><circle cx="1308.8" cy="1657.9" r="3.45"/><circle cx="1334.8" cy="1666.1" r="3.45"/><circle cx="1338.6" cy="1673.0" r="3.45"/><circle cx="1350.4" cy="1672.3" r="3.45"/><circle cx="1356.6" cy="1626.7" r="3.45"/><circle cx="1359.3" cy="1625.0" r="3.45"/><circle cx="1357.0" cy="1650.5" r="3.45"/><circle cx="1358.8" cy="1653.4" r="3.45"/><circle cx="1361.5" cy="1654.5" r="3.45"/><circle cx="1361.1" cy="1660.8" r="3.45"/><circle cx="1361.9" cy="1677.9" r="3.45"/><circle cx="1369.3" cy="1671.2" r="3.45"/><circle cx="1381.1" cy="1689.0" r="3.45"/><circle cx="1388.6" cy="1675.7" r="3.45"/><circle cx="1426.0" cy="1672.3" r="3.45"/><circle cx="1433.6" cy="1693.5" r="3.45"/><circle cx="1443.4" cy="1645.6" r="3.45"/><circle cx="1443.4" cy="1651.7" r="3.45"/><circle cx="1445.2" cy="1665.2" r="3.45"/><circle cx="1457.8" cy="1628.5" r="3.45"/><circle cx="1457.2" cy="1642.8" r="3.45"/><circle cx="1460.1" cy="1647.9" r="3.45"/><circle cx="1455.8" cy="1655.2" r="3.45"/><circle cx="1455.8" cy="1667.9" r="3.45"/><circle cx="1464.3" cy="1673.9" r="3.45"/><circle cx="1475.6" cy="1666.8" r="3.45"/><circle cx="1479.9" cy="1663.0" r="3.45"/><circle cx="1505.9" cy="1664.1" r="3.45"/><circle cx="1510.8" cy="1675.7" r="3.45"/><circle cx="1548.6" cy="1650.8" r="3.45"/><circle cx="1562.4" cy="1644.5" r="3.45"/><circle cx="1619.6" cy="1706.8" r="3.45"/><circle cx="1668.7" cy="1618.5" r="3.45"/></g>
<g fill="#f00"><circle cx="1145.7" cy="1722.4" r="3.45"/><circle cx="1194.9" cy="1724.2" r="3.45"/><circle cx="1251.8" cy="1699.0" r="3.45"/><circle cx="1266.1" cy="1673.0" r="3.45"/><circle cx="1303.9" cy="1714.2" r="3.45"/><circle cx="1308.8" cy="1673.0" r="3.45"/><circle cx="1334.8" cy="1681.7" r="3.45"/><circle cx="1338.6" cy="1684.1" r="3.45"/><circle cx="1350.4" cy="1722.4" r="3.45"/><circle cx="1357.5" cy="1671.2" r="3.45"/><circle cx="1356.6" cy="1674.6" r="3.45"/><circle cx="1359.3" cy="1675.7" r="3.45"/><circle cx="1361.1" cy="1679.7" r="3.45"/><circle cx="1358.2" cy="1686.8" r="3.45"/><circle cx="1360.4" cy="1690.6" r="3.45"/><circle cx="1361.9" cy="1692.4" r="3.45"/><circle cx="1369.3" cy="1703.9" r="3.45"/><circle cx="1381.1" cy="1711.3" r="3.45"/><circle cx="1388.6" cy="1701.3" r="3.45"/><circle cx="1426.0" cy="1701.3" r="3.45"/><circle cx="1433.6" cy="1711.3" r="3.45"/><circle cx="1443.4" cy="1684.6" r="3.45"/><circle cx="1443.4" cy="1689.0" r="3.45"/><circle cx="1445.2" cy="1703.9" r="3.45"/><circle cx="1460.1" cy="1669.4" r="3.45"/><circle cx="1457.8" cy="1674.6" r="3.45"/><circle cx="1455.8" cy="1678.3" r="3.45"/><circle cx="1455.8" cy="1692.8" r="3.45"/><circle cx="1457.8" cy="1693.0" r="3.45"/><circle cx="1464.3" cy="1722.4" r="3.45"/><circle cx="1475.6" cy="1684.1" r="3.45"/><circle cx="1479.9" cy="1681.7" r="3.45"/><circle cx="1505.9" cy="1673.0" r="3.45"/><circle cx="1510.8" cy="1714.2" r="3.45"/><circle cx="1548.6" cy="1673.0" r="3.45"/><circle cx="1562.4" cy="1699.0" r="3.45"/><circle cx="1619.6" cy="1724.2" r="3.45"/><circle cx="1668.7" cy="1722.4" r="3.45"/></g>
</g>
<text transform="translate(1803.59,1806.58) scale(1.05,1)" font-size="37.1"><tspan font-size="49.1" dy="7">−</tspan><tspan dx="0.77" dy="-7">0.10</tspan></text>
<text transform="translate(1803.59,1762.09) scale(1.05,1)" font-size="37.1"><tspan font-size="49.1" dy="7">−</tspan><tspan dx="0.77" dy="-7">0.05</tspan></text>
<text transform="translate(1802.90,1717.61) scale(1.05,1)" font-size="37.1">0</text>
<text transform="translate(1802.90,1673.12) scale(1.05,1)" font-size="37.1">0.05</text>
<text transform="translate(1802.90,1628.64) scale(1.05,1)" font-size="37.1">0.10</text>
<text transform="translate(198.51,79.90) scale(1.05,1)" font-size="37.1"><tspan font-size="49.1" dy="7">−</tspan><tspan dx="0.77" dy="-7">4</tspan></text>
<text transform="translate(198.51,2466.11) scale(1.05,1)" font-size="37.1"><tspan font-size="49.1" dy="7">−</tspan><tspan dx="0.77" dy="-7">4</tspan></text>
<text transform="translate(366.48,79.90) scale(1.05,1)" font-size="37.1"><tspan font-size="49.1" dy="7">−</tspan><tspan dx="0.77" dy="-7">2</tspan></text>
<text transform="translate(366.48,2466.11) scale(1.05,1)" font-size="37.1"><tspan font-size="49.1" dy="7">−</tspan><tspan dx="0.77" dy="-7">2</tspan></text>
<text transform="translate(549.04,79.90) scale(1.05,1)" font-size="37.1">0</text>
<text transform="translate(549.04,2466.11) scale(1.05,1)" font-size="37.1">0</text>
<text transform="translate(717.00,79.90) scale(1.05,1)" font-size="37.1">2</text>
<text transform="translate(717.00,2466.11) scale(1.05,1)" font-size="37.1">2</text>
<text transform="translate(884.97,79.90) scale(1.05,1)" font-size="37.1">4</text>
<text transform="translate(884.97,2466.11) scale(1.05,1)" font-size="37.1">4</text>
<text transform="translate(1031.30,79.90) scale(1.05,1)" font-size="37.1"><tspan font-size="49.1" dy="7">−</tspan><tspan dx="0.77" dy="-7">50</tspan></text>
<text transform="translate(1031.30,1879.31) scale(1.05,1)" font-size="37.1"><tspan font-size="49.1" dy="7">−</tspan><tspan dx="0.77" dy="-7">50</tspan></text>
<text transform="translate(1203.14,79.90) scale(1.05,1)" font-size="37.1"><tspan font-size="49.1" dy="7">−</tspan><tspan dx="0.77" dy="-7">25</tspan></text>
<text transform="translate(1203.14,1879.31) scale(1.05,1)" font-size="37.1"><tspan font-size="49.1" dy="7">−</tspan><tspan dx="0.77" dy="-7">25</tspan></text>
<text transform="translate(1399.31,79.90) scale(1.05,1)" font-size="37.1">0</text>
<text transform="translate(1399.31,1879.31) scale(1.05,1)" font-size="37.1">0</text>
<text transform="translate(1561.41,79.90) scale(1.05,1)" font-size="37.1">25</text>
<text transform="translate(1561.41,1879.31) scale(1.05,1)" font-size="37.1">25</text>
<text transform="translate(1733.25,79.90) scale(1.05,1)" font-size="37.1">50</text>
<text transform="translate(1733.25,1879.31) scale(1.05,1)" font-size="37.1">50</text>
<text transform="translate(430.99,38.20) scale(0.9708,1)" font-size="58">GMOS</text>
<text transform="translate(602.04,38.20) scale(1.0315,1)" font-size="58">IFS</text>
<text transform="translate(1267.89,38.20) scale(0.9629,1)" font-size="58">Mitchell</text>
<text transform="translate(1465.76,38.20) scale(1.0200,1)" font-size="58">IFS</text>
<text transform="translate(462.10,2525.81) scale(1.1348,1)" font-size="48.5" font-style="italic">R</text>
<text transform="translate(505.17,2525.81) scale(0.9954,1)" font-size="47"><tspan font-size="51">(</tspan>arcsec<tspan font-size="51">)</tspan></text>
<text transform="translate(1312.35,1939.11) scale(1.1348,1)" font-size="48.5" font-style="italic">R</text>
<text transform="translate(1355.42,1939.11) scale(0.9954,1)" font-size="47"><tspan font-size="51">(</tspan>arcsec<tspan font-size="51">)</tspan></text>
<text transform="translate(31.80,251.54) rotate(-90) scale(1.0391,1)" font-size="48.5" font-style="italic">V</text>
<text transform="translate(70.20,314.56) rotate(-90) scale(1.0273,1)" font-size="47"><tspan font-size="51">(</tspan>km<tspan font-size="67" dy="10.7">/</tspan><tspan dy="-10.7">s</tspan><tspan font-size="51">)</tspan></text>
<text transform="translate(31.60,542.25) rotate(-90) scale(1.1969,1)" font-size="40.5" font-style="italic">σ</text>
<text transform="translate(70.20,608.21) rotate(-90) scale(1.0273,1)" font-size="47"><tspan font-size="51">(</tspan>km<tspan font-size="67" dy="10.7">/</tspan><tspan dy="-10.7">s</tspan><tspan font-size="51">)</tspan></text>
<text transform="translate(52.70,844.91) rotate(-90) scale(1.1413,1)" font-size="47.3"><tspan font-style="italic">h</tspan><tspan x="22.39" dy="6.70" font-size="32.9">3</tspan></text>
<text transform="translate(52.70,1138.56) rotate(-90) scale(1.1413,1)" font-size="47.3"><tspan font-style="italic">h</tspan><tspan x="23.39" dy="6.70" font-size="29.2">4</tspan></text>
<text transform="translate(52.70,1432.21) rotate(-90) scale(1.1413,1)" font-size="47.3"><tspan font-style="italic">h</tspan><tspan x="22.01" dy="6.70" font-size="33.7">5</tspan></text>
<text transform="translate(52.70,1725.86) rotate(-90) scale(1.1413,1)" font-size="47.3"><tspan font-style="italic">h</tspan><tspan x="22.60" dy="6.70" font-size="31.8">6</tspan></text>
<text transform="translate(52.70,2019.51) rotate(-90) scale(1.1413,1)" font-size="47.3"><tspan font-style="italic">h</tspan><tspan x="21.76" dy="6.70" font-size="33.5">7</tspan></text>
<text transform="translate(52.70,2313.16) rotate(-90) scale(1.1413,1)" font-size="47.3"><tspan font-style="italic">h</tspan><tspan x="22.74" dy="6.70" font-size="32.0">8</tspan></text>
<text transform="translate(1950.50,251.54) rotate(-90) scale(1.0391,1)" font-size="48.5" font-style="italic">V</text>
<text transform="translate(1988.50,314.56) rotate(-90) scale(1.0273,1)" font-size="47"><tspan font-size="51">(</tspan>km<tspan font-size="67" dy="10.7">/</tspan><tspan dy="-10.7">s</tspan><tspan font-size="51">)</tspan></text>
<text transform="translate(1950.30,542.25) rotate(-90) scale(1.1969,1)" font-size="40.5" font-style="italic">σ</text>
<text transform="translate(1988.50,608.21) rotate(-90) scale(1.0273,1)" font-size="47"><tspan font-size="51">(</tspan>km<tspan font-size="67" dy="10.7">/</tspan><tspan dy="-10.7">s</tspan><tspan font-size="51">)</tspan></text>
<text transform="translate(1946.40,844.91) rotate(-90) scale(1.1413,1)" font-size="47.3"><tspan font-style="italic">h</tspan><tspan x="22.39" dy="7.00" font-size="32.9">3</tspan></text>
<text transform="translate(1946.40,1138.56) rotate(-90) scale(1.1413,1)" font-size="47.3"><tspan font-style="italic">h</tspan><tspan x="23.39" dy="7.00" font-size="29.2">4</tspan></text>
<text transform="translate(1946.40,1432.21) rotate(-90) scale(1.1413,1)" font-size="47.3"><tspan font-style="italic">h</tspan><tspan x="22.01" dy="7.00" font-size="33.7">5</tspan></text>
<text transform="translate(1946.40,1725.86) rotate(-90) scale(1.1413,1)" font-size="47.3"><tspan font-style="italic">h</tspan><tspan x="22.60" dy="7.00" font-size="31.8">6</tspan></text>
</svg>
</body></html>
